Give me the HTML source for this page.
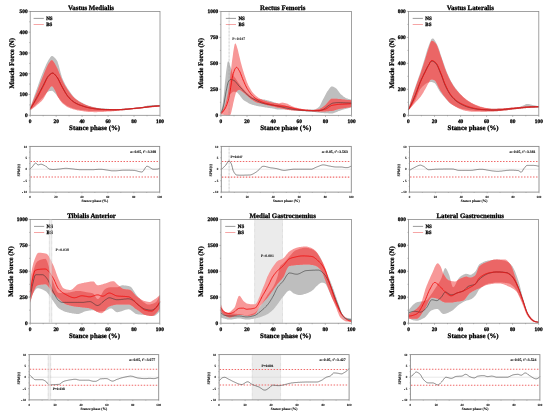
<!DOCTYPE html>
<html><head><meta charset="utf-8"><title>Muscle force comparison</title>
<style>html,body{margin:0;padding:0;background:#fff;}svg{display:block;}</style></head>
<body><svg width="550" height="417" viewBox="0 0 550 417">
<style>text{text-rendering:geometricPrecision;} .b{fill:#000;stroke:#000;stroke-width:0.28;} .s{fill:#111;stroke:#111;stroke-width:0.1;}</style>
<rect width="550" height="417" fill="#fff"/>
<rect x="254.6" y="219.4" width="27.9" height="103.8" fill="#ebebeb" fill-opacity="1"/>
<path d="M254.6,219.4V323.2M282.5,219.4V323.2" stroke="#b0b0b0" stroke-width="0.5" stroke-dasharray="0.6,0.6"/>
<rect x="252.2" y="354.6" width="28.3" height="45.3" fill="#ebebeb" fill-opacity="1"/>
<path d="M252.2,354.6V399.9M280.6,354.6V399.9" stroke="#b0b0b0" stroke-width="0.5" stroke-dasharray="0.6,0.6"/>
<clipPath id="c1"><path d="M30.2,107.8 L30.8,105.9 L31.5,104.1 L32.1,102.2 L32.8,100.3 L33.4,98.5 L34.1,96.6 L34.7,94.8 L35.4,93 L36,91.1 L36.7,89.3 L37.3,87.5 L38,85.7 L38.6,83.8 L39.3,82 L39.9,80.1 L40.6,78.3 L41.2,76.6 L41.9,74.9 L42.5,73.3 L43.2,71.7 L43.8,70.1 L44.5,68.5 L45.1,67 L45.8,65.5 L46.4,64.1 L47.1,62.7 L47.7,61.5 L48.4,60.3 L49,59.3 L49.7,58.3 L50.3,57.3 L51,56.6 L51.6,56.1 L52.3,56.1 L52.9,56.3 L53.6,56.7 L54.2,57.3 L54.9,57.9 L55.5,58.6 L56.2,59.4 L56.8,60.3 L57.5,61.6 L58.1,63.4 L58.8,65.5 L59.4,67.9 L60.1,70.4 L60.7,72.9 L61.4,75.3 L62,77.4 L62.7,79.1 L63.3,80.5 L63.9,81.8 L64.6,83.1 L65.2,84.4 L65.9,85.5 L66.5,86.6 L67.2,87.7 L67.8,88.7 L68.5,89.7 L69.1,90.6 L69.8,91.6 L70.4,92.5 L71.1,93.4 L71.7,94.3 L72.4,95.2 L73,96 L73.7,96.7 L74.3,97.5 L75,98.1 L75.6,98.7 L76.3,99.2 L76.9,99.7 L77.6,100.1 L78.2,100.6 L78.9,101 L79.5,101.4 L80.2,101.7 L80.8,102.1 L81.5,102.4 L82.1,102.8 L82.8,103.1 L83.4,103.4 L84.1,103.8 L84.7,104.1 L85.4,104.4 L86,104.7 L86.7,105 L87.3,105.3 L88,105.5 L88.6,105.7 L89.3,105.9 L89.9,106.1 L90.6,106.3 L91.2,106.5 L91.9,106.7 L92.5,106.8 L93.2,107 L93.8,107.1 L94.5,107.3 L95.1,107.4 L95.7,107.5 L96.4,107.7 L97,107.8 L97.7,107.9 L98.3,108 L99,108.1 L99.6,108.2 L100.3,108.3 L100.9,108.4 L101.6,108.4 L102.2,108.5 L102.9,108.5 L103.5,108.6 L104.2,108.6 L104.8,108.7 L105.5,108.7 L106.1,108.7 L106.8,108.7 L107.4,108.8 L108.1,108.8 L108.7,108.8 L109.4,108.9 L110,108.9 L110.7,108.9 L111.3,109 L112,109 L112.6,109 L113.3,109 L113.9,109.1 L114.6,109.1 L115.2,109.1 L115.9,109.1 L116.5,109 L117.2,109 L117.8,109 L118.5,109 L119.1,108.9 L119.8,108.9 L120.4,108.9 L121.1,108.9 L121.7,108.8 L122.4,108.8 L123,108.8 L123.7,108.7 L124.3,108.7 L125,108.6 L125.6,108.6 L126.3,108.5 L126.9,108.5 L127.5,108.4 L128.2,108.4 L128.8,108.3 L129.5,108.3 L130.1,108.2 L130.8,108.1 L131.4,108.1 L132.1,108 L132.7,107.9 L133.4,107.9 L134,107.8 L134.7,107.8 L135.3,107.7 L136,107.6 L136.6,107.6 L137.3,107.5 L137.9,107.5 L138.6,107.4 L139.2,107.4 L139.9,107.3 L140.5,107.2 L141.2,107.1 L141.8,107 L142.5,106.8 L143.1,106.7 L143.8,106.5 L144.4,106.3 L145.1,106.2 L145.7,106 L146.4,105.9 L147,105.7 L147.7,105.6 L148.3,105.5 L149,105.4 L149.6,105.3 L150.3,105.2 L150.9,105.1 L151.6,105 L152.2,105 L152.9,104.9 L153.5,104.9 L154.2,104.9 L154.8,104.9 L155.5,104.9 L156.1,104.9 L156.8,104.9 L157.4,105 L158.1,105 L158.7,105 L159.4,105.1 L160,105.1 L160,106.4 L159.4,106.4 L158.7,106.5 L158.1,106.5 L157.4,106.6 L156.8,106.7 L156.1,106.7 L155.5,106.8 L154.8,106.8 L154.2,106.9 L153.5,107 L152.9,107.1 L152.2,107.1 L151.6,107.2 L150.9,107.3 L150.3,107.4 L149.6,107.5 L149,107.6 L148.3,107.7 L147.7,107.7 L147,107.8 L146.4,107.9 L145.7,108 L145.1,108 L144.4,108.1 L143.8,108.1 L143.1,108.2 L142.5,108.3 L141.8,108.3 L141.2,108.4 L140.5,108.4 L139.9,108.5 L139.2,108.6 L138.6,108.6 L137.9,108.7 L137.3,108.7 L136.6,108.8 L136,108.9 L135.3,108.9 L134.7,109 L134,109.1 L133.4,109.1 L132.7,109.2 L132.1,109.3 L131.4,109.4 L130.8,109.5 L130.1,109.6 L129.5,109.7 L128.8,109.7 L128.2,109.8 L127.5,109.9 L126.9,110 L126.3,110 L125.6,110.1 L125,110.2 L124.3,110.2 L123.7,110.3 L123,110.4 L122.4,110.4 L121.7,110.5 L121.1,110.5 L120.4,110.6 L119.8,110.6 L119.1,110.7 L118.5,110.7 L117.8,110.8 L117.2,110.8 L116.5,110.8 L115.9,110.9 L115.2,110.9 L114.6,110.9 L113.9,111 L113.3,111 L112.6,111 L112,111 L111.3,111.1 L110.7,111.1 L110,111.1 L109.4,111.1 L108.7,111.1 L108.1,111.1 L107.4,111.1 L106.8,111.1 L106.1,111.1 L105.5,111.1 L104.8,111.1 L104.2,111.1 L103.5,111.1 L102.9,111.1 L102.2,111.1 L101.6,111.1 L100.9,111.1 L100.3,111.1 L99.6,111.1 L99,111.1 L98.3,111.1 L97.7,111.1 L97,111.1 L96.4,111.1 L95.7,111.1 L95.1,111.1 L94.5,111.1 L93.8,111.1 L93.2,111.1 L92.5,111.1 L91.9,111.1 L91.2,111 L90.6,111 L89.9,111 L89.3,110.9 L88.6,110.9 L88,110.8 L87.3,110.7 L86.7,110.7 L86,110.6 L85.4,110.5 L84.7,110.4 L84.1,110.4 L83.4,110.3 L82.8,110.2 L82.1,110.1 L81.5,110 L80.8,109.9 L80.2,109.9 L79.5,109.8 L78.9,109.7 L78.2,109.6 L77.6,109.5 L76.9,109.4 L76.3,109.2 L75.6,109.1 L75,108.9 L74.3,108.8 L73.7,108.6 L73,108.4 L72.4,108.1 L71.7,107.9 L71.1,107.6 L70.4,107.4 L69.8,107.1 L69.1,106.8 L68.5,106.5 L67.8,106.2 L67.2,105.8 L66.5,105.4 L65.9,105 L65.2,104.5 L64.6,104 L63.9,103.5 L63.3,103 L62.7,102.5 L62,101.9 L61.4,101.2 L60.7,100.4 L60.1,99.6 L59.4,98.8 L58.8,98 L58.1,97.2 L57.5,96.3 L56.8,95.5 L56.2,94.6 L55.5,93.7 L54.9,93 L54.2,92.4 L53.6,91.8 L52.9,91.2 L52.3,90.8 L51.6,90.8 L51,90.9 L50.3,91 L49.7,91.1 L49,91.3 L48.4,91.6 L47.7,92 L47.1,92.6 L46.4,93.3 L45.8,94 L45.1,94.8 L44.5,95.6 L43.8,96.4 L43.2,97.2 L42.5,97.9 L41.9,98.5 L41.2,99.2 L40.6,99.9 L39.9,100.6 L39.3,101.2 L38.6,101.9 L38,102.6 L37.3,103.2 L36.7,103.9 L36,104.5 L35.4,105.2 L34.7,105.8 L34.1,106.4 L33.4,107 L32.8,107.7 L32.1,108.3 L31.5,108.9 L30.8,109.5 L30.2,110.1Z"/></clipPath>
<path d="M30.2,107.8 L30.8,105.9 L31.5,104.1 L32.1,102.2 L32.8,100.3 L33.4,98.5 L34.1,96.6 L34.7,94.8 L35.4,93 L36,91.1 L36.7,89.3 L37.3,87.5 L38,85.7 L38.6,83.8 L39.3,82 L39.9,80.1 L40.6,78.3 L41.2,76.6 L41.9,74.9 L42.5,73.3 L43.2,71.7 L43.8,70.1 L44.5,68.5 L45.1,67 L45.8,65.5 L46.4,64.1 L47.1,62.7 L47.7,61.5 L48.4,60.3 L49,59.3 L49.7,58.3 L50.3,57.3 L51,56.6 L51.6,56.1 L52.3,56.1 L52.9,56.3 L53.6,56.7 L54.2,57.3 L54.9,57.9 L55.5,58.6 L56.2,59.4 L56.8,60.3 L57.5,61.6 L58.1,63.4 L58.8,65.5 L59.4,67.9 L60.1,70.4 L60.7,72.9 L61.4,75.3 L62,77.4 L62.7,79.1 L63.3,80.5 L63.9,81.8 L64.6,83.1 L65.2,84.4 L65.9,85.5 L66.5,86.6 L67.2,87.7 L67.8,88.7 L68.5,89.7 L69.1,90.6 L69.8,91.6 L70.4,92.5 L71.1,93.4 L71.7,94.3 L72.4,95.2 L73,96 L73.7,96.7 L74.3,97.5 L75,98.1 L75.6,98.7 L76.3,99.2 L76.9,99.7 L77.6,100.1 L78.2,100.6 L78.9,101 L79.5,101.4 L80.2,101.7 L80.8,102.1 L81.5,102.4 L82.1,102.8 L82.8,103.1 L83.4,103.4 L84.1,103.8 L84.7,104.1 L85.4,104.4 L86,104.7 L86.7,105 L87.3,105.3 L88,105.5 L88.6,105.7 L89.3,105.9 L89.9,106.1 L90.6,106.3 L91.2,106.5 L91.9,106.7 L92.5,106.8 L93.2,107 L93.8,107.1 L94.5,107.3 L95.1,107.4 L95.7,107.5 L96.4,107.7 L97,107.8 L97.7,107.9 L98.3,108 L99,108.1 L99.6,108.2 L100.3,108.3 L100.9,108.4 L101.6,108.4 L102.2,108.5 L102.9,108.5 L103.5,108.6 L104.2,108.6 L104.8,108.7 L105.5,108.7 L106.1,108.7 L106.8,108.7 L107.4,108.8 L108.1,108.8 L108.7,108.8 L109.4,108.9 L110,108.9 L110.7,108.9 L111.3,109 L112,109 L112.6,109 L113.3,109 L113.9,109.1 L114.6,109.1 L115.2,109.1 L115.9,109.1 L116.5,109 L117.2,109 L117.8,109 L118.5,109 L119.1,108.9 L119.8,108.9 L120.4,108.9 L121.1,108.9 L121.7,108.8 L122.4,108.8 L123,108.8 L123.7,108.7 L124.3,108.7 L125,108.6 L125.6,108.6 L126.3,108.5 L126.9,108.5 L127.5,108.4 L128.2,108.4 L128.8,108.3 L129.5,108.3 L130.1,108.2 L130.8,108.1 L131.4,108.1 L132.1,108 L132.7,107.9 L133.4,107.9 L134,107.8 L134.7,107.8 L135.3,107.7 L136,107.6 L136.6,107.6 L137.3,107.5 L137.9,107.5 L138.6,107.4 L139.2,107.4 L139.9,107.3 L140.5,107.2 L141.2,107.1 L141.8,107 L142.5,106.8 L143.1,106.7 L143.8,106.5 L144.4,106.3 L145.1,106.2 L145.7,106 L146.4,105.9 L147,105.7 L147.7,105.6 L148.3,105.5 L149,105.4 L149.6,105.3 L150.3,105.2 L150.9,105.1 L151.6,105 L152.2,105 L152.9,104.9 L153.5,104.9 L154.2,104.9 L154.8,104.9 L155.5,104.9 L156.1,104.9 L156.8,104.9 L157.4,105 L158.1,105 L158.7,105 L159.4,105.1 L160,105.1 L160,106.4 L159.4,106.4 L158.7,106.5 L158.1,106.5 L157.4,106.6 L156.8,106.7 L156.1,106.7 L155.5,106.8 L154.8,106.8 L154.2,106.9 L153.5,107 L152.9,107.1 L152.2,107.1 L151.6,107.2 L150.9,107.3 L150.3,107.4 L149.6,107.5 L149,107.6 L148.3,107.7 L147.7,107.7 L147,107.8 L146.4,107.9 L145.7,108 L145.1,108 L144.4,108.1 L143.8,108.1 L143.1,108.2 L142.5,108.3 L141.8,108.3 L141.2,108.4 L140.5,108.4 L139.9,108.5 L139.2,108.6 L138.6,108.6 L137.9,108.7 L137.3,108.7 L136.6,108.8 L136,108.9 L135.3,108.9 L134.7,109 L134,109.1 L133.4,109.1 L132.7,109.2 L132.1,109.3 L131.4,109.4 L130.8,109.5 L130.1,109.6 L129.5,109.7 L128.8,109.7 L128.2,109.8 L127.5,109.9 L126.9,110 L126.3,110 L125.6,110.1 L125,110.2 L124.3,110.2 L123.7,110.3 L123,110.4 L122.4,110.4 L121.7,110.5 L121.1,110.5 L120.4,110.6 L119.8,110.6 L119.1,110.7 L118.5,110.7 L117.8,110.8 L117.2,110.8 L116.5,110.8 L115.9,110.9 L115.2,110.9 L114.6,110.9 L113.9,111 L113.3,111 L112.6,111 L112,111 L111.3,111.1 L110.7,111.1 L110,111.1 L109.4,111.1 L108.7,111.1 L108.1,111.1 L107.4,111.1 L106.8,111.1 L106.1,111.1 L105.5,111.1 L104.8,111.1 L104.2,111.1 L103.5,111.1 L102.9,111.1 L102.2,111.1 L101.6,111.1 L100.9,111.1 L100.3,111.1 L99.6,111.1 L99,111.1 L98.3,111.1 L97.7,111.1 L97,111.1 L96.4,111.1 L95.7,111.1 L95.1,111.1 L94.5,111.1 L93.8,111.1 L93.2,111.1 L92.5,111.1 L91.9,111.1 L91.2,111 L90.6,111 L89.9,111 L89.3,110.9 L88.6,110.9 L88,110.8 L87.3,110.7 L86.7,110.7 L86,110.6 L85.4,110.5 L84.7,110.4 L84.1,110.4 L83.4,110.3 L82.8,110.2 L82.1,110.1 L81.5,110 L80.8,109.9 L80.2,109.9 L79.5,109.8 L78.9,109.7 L78.2,109.6 L77.6,109.5 L76.9,109.4 L76.3,109.2 L75.6,109.1 L75,108.9 L74.3,108.8 L73.7,108.6 L73,108.4 L72.4,108.1 L71.7,107.9 L71.1,107.6 L70.4,107.4 L69.8,107.1 L69.1,106.8 L68.5,106.5 L67.8,106.2 L67.2,105.8 L66.5,105.4 L65.9,105 L65.2,104.5 L64.6,104 L63.9,103.5 L63.3,103 L62.7,102.5 L62,101.9 L61.4,101.2 L60.7,100.4 L60.1,99.6 L59.4,98.8 L58.8,98 L58.1,97.2 L57.5,96.3 L56.8,95.5 L56.2,94.6 L55.5,93.7 L54.9,93 L54.2,92.4 L53.6,91.8 L52.9,91.2 L52.3,90.8 L51.6,90.8 L51,90.9 L50.3,91 L49.7,91.1 L49,91.3 L48.4,91.6 L47.7,92 L47.1,92.6 L46.4,93.3 L45.8,94 L45.1,94.8 L44.5,95.6 L43.8,96.4 L43.2,97.2 L42.5,97.9 L41.9,98.5 L41.2,99.2 L40.6,99.9 L39.9,100.6 L39.3,101.2 L38.6,101.9 L38,102.6 L37.3,103.2 L36.7,103.9 L36,104.5 L35.4,105.2 L34.7,105.8 L34.1,106.4 L33.4,107 L32.8,107.7 L32.1,108.3 L31.5,108.9 L30.8,109.5 L30.2,110.1Z" fill="#bebebe"/>
<path d="M30.2,107.8 L30.8,106.3 L31.5,104.8 L32.1,103.3 L32.8,101.8 L33.4,100.3 L34.1,98.7 L34.7,97.2 L35.4,95.6 L36,94 L36.7,92.4 L37.3,90.8 L38,89.2 L38.6,87.5 L39.3,85.8 L39.9,84 L40.6,82.3 L41.2,80.7 L41.9,79 L42.5,77.4 L43.2,75.9 L43.8,74.2 L44.5,72.6 L45.1,71 L45.8,69.4 L46.4,67.9 L47.1,66.4 L47.7,65.2 L48.4,64 L49,63.1 L49.7,62.2 L50.3,61.3 L51,60.6 L51.6,60.3 L52.3,60.3 L52.9,60.9 L53.6,61.8 L54.2,62.8 L54.9,63.8 L55.5,64.9 L56.2,66.2 L56.8,67.5 L57.5,68.8 L58.1,70.3 L58.8,71.9 L59.4,73.5 L60.1,75.1 L60.7,76.8 L61.4,78.3 L62,79.8 L62.7,81.1 L63.3,82.4 L63.9,83.6 L64.6,84.8 L65.2,85.9 L65.9,87 L66.5,88.1 L67.2,89.1 L67.8,90.1 L68.5,91 L69.1,91.9 L69.8,92.8 L70.4,93.6 L71.1,94.4 L71.7,95.2 L72.4,95.9 L73,96.7 L73.7,97.3 L74.3,98 L75,98.6 L75.6,99.1 L76.3,99.6 L76.9,100.1 L77.6,100.5 L78.2,101 L78.9,101.4 L79.5,101.8 L80.2,102.2 L80.8,102.5 L81.5,102.9 L82.1,103.2 L82.8,103.5 L83.4,103.9 L84.1,104.2 L84.7,104.5 L85.4,104.7 L86,105 L86.7,105.3 L87.3,105.5 L88,105.7 L88.6,105.9 L89.3,106.2 L89.9,106.3 L90.6,106.5 L91.2,106.7 L91.9,106.9 L92.5,107 L93.2,107.2 L93.8,107.3 L94.5,107.5 L95.1,107.6 L95.7,107.7 L96.4,107.9 L97,108 L97.7,108.1 L98.3,108.2 L99,108.3 L99.6,108.4 L100.3,108.5 L100.9,108.6 L101.6,108.7 L102.2,108.7 L102.9,108.7 L103.5,108.8 L104.2,108.8 L104.8,108.9 L105.5,108.9 L106.1,108.9 L106.8,109 L107.4,109 L108.1,109 L108.7,109 L109.4,109.1 L110,109.1 L110.7,109.1 L111.3,109.2 L112,109.2 L112.6,109.2 L113.3,109.3 L113.9,109.3 L114.6,109.3 L115.2,109.3 L115.9,109.3 L116.5,109.2 L117.2,109.2 L117.8,109.2 L118.5,109.2 L119.1,109.2 L119.8,109.1 L120.4,109.1 L121.1,109.1 L121.7,109 L122.4,109 L123,108.9 L123.7,108.9 L124.3,108.8 L125,108.7 L125.6,108.6 L126.3,108.6 L126.9,108.5 L127.5,108.4 L128.2,108.4 L128.8,108.3 L129.5,108.3 L130.1,108.2 L130.8,108.1 L131.4,108.1 L132.1,108 L132.7,107.9 L133.4,107.9 L134,107.8 L134.7,107.8 L135.3,107.7 L136,107.6 L136.6,107.6 L137.3,107.5 L137.9,107.5 L138.6,107.4 L139.2,107.3 L139.9,107.3 L140.5,107.2 L141.2,107.1 L141.8,107 L142.5,107 L143.1,106.9 L143.8,106.8 L144.4,106.7 L145.1,106.6 L145.7,106.5 L146.4,106.4 L147,106.4 L147.7,106.3 L148.3,106.2 L149,106.2 L149.6,106.1 L150.3,106 L150.9,106 L151.6,105.9 L152.2,105.8 L152.9,105.8 L153.5,105.7 L154.2,105.7 L154.8,105.6 L155.5,105.6 L156.1,105.6 L156.8,105.5 L157.4,105.5 L158.1,105.4 L158.7,105.4 L159.4,105.4 L160,105.3 L160,106.6 L159.4,106.6 L158.7,106.7 L158.1,106.8 L157.4,106.8 L156.8,106.9 L156.1,106.9 L155.5,107 L154.8,107.1 L154.2,107.1 L153.5,107.2 L152.9,107.3 L152.2,107.3 L151.6,107.4 L150.9,107.4 L150.3,107.5 L149.6,107.6 L149,107.6 L148.3,107.7 L147.7,107.7 L147,107.8 L146.4,107.9 L145.7,108 L145.1,108.1 L144.4,108.1 L143.8,108.2 L143.1,108.3 L142.5,108.4 L141.8,108.5 L141.2,108.6 L140.5,108.7 L139.9,108.7 L139.2,108.8 L138.6,108.9 L137.9,108.9 L137.3,109 L136.6,109 L136,109.1 L135.3,109.2 L134.7,109.2 L134,109.3 L133.4,109.3 L132.7,109.4 L132.1,109.5 L131.4,109.5 L130.8,109.6 L130.1,109.6 L129.5,109.7 L128.8,109.8 L128.2,109.8 L127.5,109.9 L126.9,110 L126.3,110 L125.6,110.1 L125,110.1 L124.3,110.2 L123.7,110.3 L123,110.3 L122.4,110.4 L121.7,110.5 L121.1,110.5 L120.4,110.6 L119.8,110.6 L119.1,110.7 L118.5,110.8 L117.8,110.8 L117.2,110.9 L116.5,111 L115.9,111 L115.2,111.1 L114.6,111.1 L113.9,111.2 L113.3,111.2 L112.6,111.3 L112,111.3 L111.3,111.4 L110.7,111.4 L110,111.4 L109.4,111.5 L108.7,111.5 L108.1,111.6 L107.4,111.6 L106.8,111.6 L106.1,111.7 L105.5,111.7 L104.8,111.8 L104.2,111.8 L103.5,111.9 L102.9,111.9 L102.2,111.9 L101.6,112 L100.9,112 L100.3,112 L99.6,112.1 L99,112.1 L98.3,112.1 L97.7,112.1 L97,112.2 L96.4,112.2 L95.7,112.2 L95.1,112.2 L94.5,112.2 L93.8,112.2 L93.2,112.1 L92.5,112.1 L91.9,112.1 L91.2,112.1 L90.6,112 L89.9,112 L89.3,112 L88.6,111.9 L88,111.9 L87.3,111.8 L86.7,111.7 L86,111.7 L85.4,111.6 L84.7,111.5 L84.1,111.4 L83.4,111.3 L82.8,111.2 L82.1,111.1 L81.5,111.1 L80.8,111 L80.2,110.8 L79.5,110.7 L78.9,110.6 L78.2,110.5 L77.6,110.4 L76.9,110.2 L76.3,110.1 L75.6,109.9 L75,109.8 L74.3,109.6 L73.7,109.4 L73,109.2 L72.4,109.1 L71.7,108.8 L71.1,108.6 L70.4,108.4 L69.8,108.1 L69.1,107.9 L68.5,107.6 L67.8,107.2 L67.2,106.9 L66.5,106.5 L65.9,106.1 L65.2,105.6 L64.6,105.1 L63.9,104.6 L63.3,104.1 L62.7,103.5 L62,102.9 L61.4,102.1 L60.7,101.3 L60.1,100.4 L59.4,99.4 L58.8,98.3 L58.1,97.2 L57.5,95.9 L56.8,94.3 L56.2,92.7 L55.5,91.2 L54.9,90.1 L54.2,88.9 L53.6,87.8 L52.9,86.9 L52.3,86.3 L51.6,86.2 L51,86.6 L50.3,87.3 L49.7,88.2 L49,89.1 L48.4,90 L47.7,91 L47.1,92.1 L46.4,93.3 L45.8,94.6 L45.1,95.9 L44.5,97.1 L43.8,98.2 L43.2,99.2 L42.5,100 L41.9,100.7 L41.2,101.4 L40.6,102 L39.9,102.6 L39.3,103.2 L38.6,103.7 L38,104.3 L37.3,104.8 L36.7,105.3 L36,105.9 L35.4,106.4 L34.7,106.9 L34.1,107.4 L33.4,107.9 L32.8,108.4 L32.1,108.9 L31.5,109.4 L30.8,109.9 L30.2,110.3Z" fill="rgb(247,152,152)"/>
<path d="M30.2,107.8 L30.8,106.3 L31.5,104.8 L32.1,103.3 L32.8,101.8 L33.4,100.3 L34.1,98.7 L34.7,97.2 L35.4,95.6 L36,94 L36.7,92.4 L37.3,90.8 L38,89.2 L38.6,87.5 L39.3,85.8 L39.9,84 L40.6,82.3 L41.2,80.7 L41.9,79 L42.5,77.4 L43.2,75.9 L43.8,74.2 L44.5,72.6 L45.1,71 L45.8,69.4 L46.4,67.9 L47.1,66.4 L47.7,65.2 L48.4,64 L49,63.1 L49.7,62.2 L50.3,61.3 L51,60.6 L51.6,60.3 L52.3,60.3 L52.9,60.9 L53.6,61.8 L54.2,62.8 L54.9,63.8 L55.5,64.9 L56.2,66.2 L56.8,67.5 L57.5,68.8 L58.1,70.3 L58.8,71.9 L59.4,73.5 L60.1,75.1 L60.7,76.8 L61.4,78.3 L62,79.8 L62.7,81.1 L63.3,82.4 L63.9,83.6 L64.6,84.8 L65.2,85.9 L65.9,87 L66.5,88.1 L67.2,89.1 L67.8,90.1 L68.5,91 L69.1,91.9 L69.8,92.8 L70.4,93.6 L71.1,94.4 L71.7,95.2 L72.4,95.9 L73,96.7 L73.7,97.3 L74.3,98 L75,98.6 L75.6,99.1 L76.3,99.6 L76.9,100.1 L77.6,100.5 L78.2,101 L78.9,101.4 L79.5,101.8 L80.2,102.2 L80.8,102.5 L81.5,102.9 L82.1,103.2 L82.8,103.5 L83.4,103.9 L84.1,104.2 L84.7,104.5 L85.4,104.7 L86,105 L86.7,105.3 L87.3,105.5 L88,105.7 L88.6,105.9 L89.3,106.2 L89.9,106.3 L90.6,106.5 L91.2,106.7 L91.9,106.9 L92.5,107 L93.2,107.2 L93.8,107.3 L94.5,107.5 L95.1,107.6 L95.7,107.7 L96.4,107.9 L97,108 L97.7,108.1 L98.3,108.2 L99,108.3 L99.6,108.4 L100.3,108.5 L100.9,108.6 L101.6,108.7 L102.2,108.7 L102.9,108.7 L103.5,108.8 L104.2,108.8 L104.8,108.9 L105.5,108.9 L106.1,108.9 L106.8,109 L107.4,109 L108.1,109 L108.7,109 L109.4,109.1 L110,109.1 L110.7,109.1 L111.3,109.2 L112,109.2 L112.6,109.2 L113.3,109.3 L113.9,109.3 L114.6,109.3 L115.2,109.3 L115.9,109.3 L116.5,109.2 L117.2,109.2 L117.8,109.2 L118.5,109.2 L119.1,109.2 L119.8,109.1 L120.4,109.1 L121.1,109.1 L121.7,109 L122.4,109 L123,108.9 L123.7,108.9 L124.3,108.8 L125,108.7 L125.6,108.6 L126.3,108.6 L126.9,108.5 L127.5,108.4 L128.2,108.4 L128.8,108.3 L129.5,108.3 L130.1,108.2 L130.8,108.1 L131.4,108.1 L132.1,108 L132.7,107.9 L133.4,107.9 L134,107.8 L134.7,107.8 L135.3,107.7 L136,107.6 L136.6,107.6 L137.3,107.5 L137.9,107.5 L138.6,107.4 L139.2,107.3 L139.9,107.3 L140.5,107.2 L141.2,107.1 L141.8,107 L142.5,107 L143.1,106.9 L143.8,106.8 L144.4,106.7 L145.1,106.6 L145.7,106.5 L146.4,106.4 L147,106.4 L147.7,106.3 L148.3,106.2 L149,106.2 L149.6,106.1 L150.3,106 L150.9,106 L151.6,105.9 L152.2,105.8 L152.9,105.8 L153.5,105.7 L154.2,105.7 L154.8,105.6 L155.5,105.6 L156.1,105.6 L156.8,105.5 L157.4,105.5 L158.1,105.4 L158.7,105.4 L159.4,105.4 L160,105.3 L160,106.6 L159.4,106.6 L158.7,106.7 L158.1,106.8 L157.4,106.8 L156.8,106.9 L156.1,106.9 L155.5,107 L154.8,107.1 L154.2,107.1 L153.5,107.2 L152.9,107.3 L152.2,107.3 L151.6,107.4 L150.9,107.4 L150.3,107.5 L149.6,107.6 L149,107.6 L148.3,107.7 L147.7,107.7 L147,107.8 L146.4,107.9 L145.7,108 L145.1,108.1 L144.4,108.1 L143.8,108.2 L143.1,108.3 L142.5,108.4 L141.8,108.5 L141.2,108.6 L140.5,108.7 L139.9,108.7 L139.2,108.8 L138.6,108.9 L137.9,108.9 L137.3,109 L136.6,109 L136,109.1 L135.3,109.2 L134.7,109.2 L134,109.3 L133.4,109.3 L132.7,109.4 L132.1,109.5 L131.4,109.5 L130.8,109.6 L130.1,109.6 L129.5,109.7 L128.8,109.8 L128.2,109.8 L127.5,109.9 L126.9,110 L126.3,110 L125.6,110.1 L125,110.1 L124.3,110.2 L123.7,110.3 L123,110.3 L122.4,110.4 L121.7,110.5 L121.1,110.5 L120.4,110.6 L119.8,110.6 L119.1,110.7 L118.5,110.8 L117.8,110.8 L117.2,110.9 L116.5,111 L115.9,111 L115.2,111.1 L114.6,111.1 L113.9,111.2 L113.3,111.2 L112.6,111.3 L112,111.3 L111.3,111.4 L110.7,111.4 L110,111.4 L109.4,111.5 L108.7,111.5 L108.1,111.6 L107.4,111.6 L106.8,111.6 L106.1,111.7 L105.5,111.7 L104.8,111.8 L104.2,111.8 L103.5,111.9 L102.9,111.9 L102.2,111.9 L101.6,112 L100.9,112 L100.3,112 L99.6,112.1 L99,112.1 L98.3,112.1 L97.7,112.1 L97,112.2 L96.4,112.2 L95.7,112.2 L95.1,112.2 L94.5,112.2 L93.8,112.2 L93.2,112.1 L92.5,112.1 L91.9,112.1 L91.2,112.1 L90.6,112 L89.9,112 L89.3,112 L88.6,111.9 L88,111.9 L87.3,111.8 L86.7,111.7 L86,111.7 L85.4,111.6 L84.7,111.5 L84.1,111.4 L83.4,111.3 L82.8,111.2 L82.1,111.1 L81.5,111.1 L80.8,111 L80.2,110.8 L79.5,110.7 L78.9,110.6 L78.2,110.5 L77.6,110.4 L76.9,110.2 L76.3,110.1 L75.6,109.9 L75,109.8 L74.3,109.6 L73.7,109.4 L73,109.2 L72.4,109.1 L71.7,108.8 L71.1,108.6 L70.4,108.4 L69.8,108.1 L69.1,107.9 L68.5,107.6 L67.8,107.2 L67.2,106.9 L66.5,106.5 L65.9,106.1 L65.2,105.6 L64.6,105.1 L63.9,104.6 L63.3,104.1 L62.7,103.5 L62,102.9 L61.4,102.1 L60.7,101.3 L60.1,100.4 L59.4,99.4 L58.8,98.3 L58.1,97.2 L57.5,95.9 L56.8,94.3 L56.2,92.7 L55.5,91.2 L54.9,90.1 L54.2,88.9 L53.6,87.8 L52.9,86.9 L52.3,86.3 L51.6,86.2 L51,86.6 L50.3,87.3 L49.7,88.2 L49,89.1 L48.4,90 L47.7,91 L47.1,92.1 L46.4,93.3 L45.8,94.6 L45.1,95.9 L44.5,97.1 L43.8,98.2 L43.2,99.2 L42.5,100 L41.9,100.7 L41.2,101.4 L40.6,102 L39.9,102.6 L39.3,103.2 L38.6,103.7 L38,104.3 L37.3,104.8 L36.7,105.3 L36,105.9 L35.4,106.4 L34.7,106.9 L34.1,107.4 L33.4,107.9 L32.8,108.4 L32.1,108.9 L31.5,109.4 L30.8,109.9 L30.2,110.3Z" fill="rgb(235,102,102)" clip-path="url(#c1)"/>
<path d="M30.2,109.1 L30.8,108 L31.5,106.8 L32.1,105.7 L32.8,104.6 L33.4,103.4 L34.1,102.3 L34.7,101.1 L35.4,100 L36,98.8 L36.7,97.6 L37.3,96.4 L38,95.2 L38.6,94 L39.3,92.8 L39.9,91.5 L40.6,90.3 L41.2,89.1 L41.9,87.8 L42.5,86.6 L43.2,85.4 L43.8,84.1 L44.5,82.8 L45.1,81.5 L45.8,80.1 L46.4,78.9 L47.1,77.7 L47.7,76.7 L48.4,75.9 L49,75.2 L49.7,74.7 L50.3,74.1 L51,73.7 L51.6,73.3 L52.3,73.1 L52.9,73.2 L53.6,73.4 L54.2,73.9 L54.9,74.6 L55.5,75.3 L56.2,76.1 L56.8,76.9 L57.5,77.8 L58.1,78.9 L58.8,80.1 L59.4,81.4 L60.1,82.7 L60.7,84.1 L61.4,85.3 L62,86.5 L62.7,87.7 L63.3,88.8 L63.9,89.9 L64.6,91.1 L65.2,92.2 L65.9,93.3 L66.5,94.3 L67.2,95.3 L67.8,96.2 L68.5,97 L69.1,97.8 L69.8,98.4 L70.4,99.1 L71.1,99.7 L71.7,100.3 L72.4,100.8 L73,101.3 L73.7,101.8 L74.3,102.3 L75,102.7 L75.6,103 L76.3,103.4 L76.9,103.7 L77.6,104 L78.2,104.3 L78.9,104.6 L79.5,104.8 L80.2,105.1 L80.8,105.3 L81.5,105.5 L82.1,105.7 L82.8,106 L83.4,106.2 L84.1,106.4 L84.7,106.6 L85.4,106.8 L86,107 L86.7,107.2 L87.3,107.3 L88,107.5 L88.6,107.6 L89.3,107.7 L89.9,107.9 L90.6,108 L91.2,108.1 L91.9,108.2 L92.5,108.3 L93.2,108.4 L93.8,108.5 L94.5,108.6 L95.1,108.7 L95.7,108.7 L96.4,108.8 L97,108.9 L97.7,109 L98.3,109 L99,109.1 L99.6,109.1 L100.3,109.2 L100.9,109.2 L101.6,109.3 L102.2,109.3 L102.9,109.3 L103.5,109.4 L104.2,109.4 L104.8,109.4 L105.5,109.4 L106.1,109.4 L106.8,109.4 L107.4,109.5 L108.1,109.5 L108.7,109.5 L109.4,109.5 L110,109.6 L110.7,109.6 L111.3,109.6 L112,109.6 L112.6,109.7 L113.3,109.7 L113.9,109.7 L114.6,109.7 L115.2,109.7 L115.9,109.7 L116.5,109.7 L117.2,109.6 L117.8,109.6 L118.5,109.6 L119.1,109.6 L119.8,109.5 L120.4,109.5 L121.1,109.5 L121.7,109.5 L122.4,109.4 L123,109.4 L123.7,109.3 L124.3,109.3 L125,109.3 L125.6,109.2 L126.3,109.2 L126.9,109.1 L127.5,109.1 L128.2,109 L128.8,109 L129.5,108.9 L130.1,108.8 L130.8,108.8 L131.4,108.7 L132.1,108.6 L132.7,108.6 L133.4,108.5 L134,108.4 L134.7,108.4 L135.3,108.3 L136,108.3 L136.6,108.2 L137.3,108.1 L137.9,108.1 L138.6,108 L139.2,108 L139.9,107.9 L140.5,107.8 L141.2,107.7 L141.8,107.7 L142.5,107.6 L143.1,107.5 L143.8,107.4 L144.4,107.3 L145.1,107.2 L145.7,107.2 L146.4,107.1 L147,107 L147.7,106.9 L148.3,106.8 L149,106.7 L149.6,106.6 L150.3,106.5 L150.9,106.4 L151.6,106.4 L152.2,106.3 L152.9,106.2 L153.5,106.2 L154.2,106.1 L154.8,106 L155.5,106 L156.1,106 L156.8,105.9 L157.4,105.9 L158.1,105.8 L158.7,105.8 L159.4,105.8 L160,105.7" fill="none" stroke="#2a2a2a" stroke-width="0.55"/>
<path d="M30.2,109.1 L30.8,108.1 L31.5,107.1 L32.1,106.1 L32.8,105.1 L33.4,104.1 L34.1,103 L34.7,102 L35.4,100.9 L36,99.8 L36.7,98.7 L37.3,97.5 L38,96.4 L38.6,95.1 L39.3,93.9 L39.9,92.7 L40.6,91.4 L41.2,90.2 L41.9,88.9 L42.5,87.7 L43.2,86.4 L43.8,85.1 L44.5,83.7 L45.1,82.3 L45.8,80.9 L46.4,79.6 L47.1,78.4 L47.7,77.3 L48.4,76.4 L49,75.6 L49.7,75 L50.3,74.3 L51,73.8 L51.6,73.4 L52.3,73.1 L52.9,73.2 L53.6,73.4 L54.2,73.9 L54.9,74.6 L55.5,75.3 L56.2,76.1 L56.8,76.9 L57.5,77.8 L58.1,79 L58.8,80.2 L59.4,81.6 L60.1,83 L60.7,84.4 L61.4,85.7 L62,86.9 L62.7,88.1 L63.3,89.2 L63.9,90.3 L64.6,91.5 L65.2,92.6 L65.9,93.6 L66.5,94.6 L67.2,95.6 L67.8,96.4 L68.5,97.2 L69.1,98 L69.8,98.6 L70.4,99.3 L71.1,99.9 L71.7,100.5 L72.4,101 L73,101.5 L73.7,102 L74.3,102.5 L75,102.9 L75.6,103.2 L76.3,103.6 L76.9,103.9 L77.6,104.2 L78.2,104.5 L78.9,104.8 L79.5,105 L80.2,105.3 L80.8,105.5 L81.5,105.7 L82.1,105.9 L82.8,106.2 L83.4,106.4 L84.1,106.6 L84.7,106.8 L85.4,107 L86,107.2 L86.7,107.4 L87.3,107.5 L88,107.7 L88.6,107.8 L89.3,107.9 L89.9,108.1 L90.6,108.2 L91.2,108.3 L91.9,108.4 L92.5,108.5 L93.2,108.6 L93.8,108.7 L94.5,108.8 L95.1,108.9 L95.7,108.9 L96.4,109 L97,109.1 L97.7,109.2 L98.3,109.2 L99,109.3 L99.6,109.4 L100.3,109.4 L100.9,109.4 L101.6,109.5 L102.2,109.5 L102.9,109.5 L103.5,109.6 L104.2,109.6 L104.8,109.6 L105.5,109.6 L106.1,109.7 L106.8,109.7 L107.4,109.7 L108.1,109.7 L108.7,109.7 L109.4,109.7 L110,109.7 L110.7,109.7 L111.3,109.7 L112,109.7 L112.6,109.7 L113.3,109.7 L113.9,109.7 L114.6,109.7 L115.2,109.7 L115.9,109.7 L116.5,109.7 L117.2,109.6 L117.8,109.6 L118.5,109.6 L119.1,109.6 L119.8,109.5 L120.4,109.5 L121.1,109.5 L121.7,109.5 L122.4,109.4 L123,109.4 L123.7,109.3 L124.3,109.3 L125,109.3 L125.6,109.2 L126.3,109.2 L126.9,109.1 L127.5,109.1 L128.2,109 L128.8,109 L129.5,108.9 L130.1,108.8 L130.8,108.8 L131.4,108.7 L132.1,108.6 L132.7,108.6 L133.4,108.5 L134,108.4 L134.7,108.4 L135.3,108.3 L136,108.3 L136.6,108.2 L137.3,108.1 L137.9,108.1 L138.6,108 L139.2,108 L139.9,107.9 L140.5,107.8 L141.2,107.7 L141.8,107.7 L142.5,107.6 L143.1,107.5 L143.8,107.4 L144.4,107.3 L145.1,107.2 L145.7,107.1 L146.4,107.1 L147,107 L147.7,106.9 L148.3,106.8 L149,106.8 L149.6,106.7 L150.3,106.6 L150.9,106.6 L151.6,106.5 L152.2,106.5 L152.9,106.4 L153.5,106.4 L154.2,106.3 L154.8,106.3 L155.5,106.2 L156.1,106.2 L156.8,106.1 L157.4,106.1 L158.1,106.1 L158.7,106 L159.4,106 L160,105.9" fill="none" stroke="#f01010" stroke-width="0.9"/>
<rect x="30.2" y="11.4" width="129.8" height="103.9" fill="none" stroke="#8a8a8a" stroke-width="0.8"/>
<path d="M30.2,115.3v1.6 M43.2,115.3v1.0 M56.2,115.3v1.6 M69.1,115.3v1.0 M82.1,115.3v1.6 M95.1,115.3v1.0 M108.1,115.3v1.6 M121.1,115.3v1.0 M134,115.3v1.6 M147,115.3v1.0 M160,115.3v1.6 M30.2,115.3h-1.6 M30.2,104.9h-1.0 M30.2,94.5h-1.6 M30.2,84.1h-1.0 M30.2,73.7h-1.6 M30.2,63.4h-1.0 M30.2,53h-1.6 M30.2,42.6h-1.0 M30.2,32.2h-1.6 M30.2,21.8h-1.0 M30.2,11.4h-1.6" stroke="#8a8a8a" stroke-width="0.6" fill="none"/>
<text x="30.2" y="123.1" text-anchor="middle" class="b" font-family="'Liberation Serif','Times New Roman',serif" font-weight="bold" font-size="5.4">0</text>
<text x="56.2" y="123.1" text-anchor="middle" class="b" font-family="'Liberation Serif','Times New Roman',serif" font-weight="bold" font-size="5.4">20</text>
<text x="82.1" y="123.1" text-anchor="middle" class="b" font-family="'Liberation Serif','Times New Roman',serif" font-weight="bold" font-size="5.4">40</text>
<text x="108.1" y="123.1" text-anchor="middle" class="b" font-family="'Liberation Serif','Times New Roman',serif" font-weight="bold" font-size="5.4">60</text>
<text x="134" y="123.1" text-anchor="middle" class="b" font-family="'Liberation Serif','Times New Roman',serif" font-weight="bold" font-size="5.4">80</text>
<text x="160" y="123.1" text-anchor="middle" class="b" font-family="'Liberation Serif','Times New Roman',serif" font-weight="bold" font-size="5.4">100</text>
<text x="27.6" y="117.1" text-anchor="end" class="b" font-family="'Liberation Serif','Times New Roman',serif" font-weight="bold" font-size="5.4">0</text>
<text x="27.6" y="96.3" text-anchor="end" class="b" font-family="'Liberation Serif','Times New Roman',serif" font-weight="bold" font-size="5.4">100</text>
<text x="27.6" y="75.5" text-anchor="end" class="b" font-family="'Liberation Serif','Times New Roman',serif" font-weight="bold" font-size="5.4">200</text>
<text x="27.6" y="54.8" text-anchor="end" class="b" font-family="'Liberation Serif','Times New Roman',serif" font-weight="bold" font-size="5.4">300</text>
<text x="27.6" y="34" text-anchor="end" class="b" font-family="'Liberation Serif','Times New Roman',serif" font-weight="bold" font-size="5.4">400</text>
<text x="27.6" y="13.2" text-anchor="end" class="b" font-family="'Liberation Serif','Times New Roman',serif" font-weight="bold" font-size="5.4">500</text>
<text x="91" y="9.7" text-anchor="middle" class="b" font-family="'Liberation Serif','Times New Roman',serif" font-weight="bold" font-size="6.85">Vastus Medialis</text>
<text x="94.6" y="130.2" text-anchor="middle" class="b" font-family="'Liberation Serif','Times New Roman',serif" font-weight="bold" font-size="6.85">Stance phase (%)</text>
<text transform="translate(13.6,63.3) rotate(-90)" text-anchor="middle" class="b" font-family="'Liberation Serif','Times New Roman',serif" font-weight="bold" font-size="6.85">Muscle Force (N)</text>
<path d="M33.6,18.4h10.2" stroke="#555" stroke-width="0.6"/>
<path d="M33.6,24.5h10.2" stroke="#f06868" stroke-width="0.6"/>
<text x="46.2" y="20" class="b" font-family="'Liberation Serif','Times New Roman',serif" font-weight="bold" font-size="5.0">NS</text>
<text x="46.2" y="26.1" class="b" font-family="'Liberation Serif','Times New Roman',serif" font-weight="bold" font-size="5.0">BS</text>
<clipPath id="c2"><path d="M220.9,111.7 L221.6,109.6 L222.2,106.4 L222.9,102.3 L223.5,97.6 L224.2,91.3 L224.8,84.1 L225.5,77.4 L226.1,71.7 L226.8,66.9 L227.4,62.8 L228.1,61.1 L228.7,61.8 L229.4,63.5 L230,65.4 L230.7,67.4 L231.4,69.7 L232,72 L232.7,73.7 L233.3,75.1 L234,76.2 L234.6,77.2 L235.3,78.1 L235.9,79 L236.6,80 L237.2,80.9 L237.9,81.9 L238.5,82.9 L239.2,83.8 L239.9,84.7 L240.5,85.6 L241.2,86.4 L241.8,87.2 L242.5,88 L243.1,88.8 L243.8,89.6 L244.4,90.3 L245.1,91 L245.7,91.7 L246.4,92.4 L247,93 L247.7,93.5 L248.3,94.1 L249,94.7 L249.7,95.2 L250.3,95.7 L251,96.2 L251.6,96.6 L252.3,97 L252.9,97.4 L253.6,97.6 L254.2,97.9 L254.9,98.1 L255.5,98.3 L256.2,98.5 L256.8,98.6 L257.5,98.8 L258.1,98.9 L258.8,99 L259.5,99.1 L260.1,99.2 L260.8,99.3 L261.4,99.3 L262.1,99.4 L262.7,99.4 L263.4,99.4 L264,99.5 L264.7,99.6 L265.3,99.7 L266,99.9 L266.6,100 L267.3,100.2 L268,100.4 L268.6,100.6 L269.3,100.8 L269.9,100.9 L270.6,101.1 L271.2,101.3 L271.9,101.5 L272.5,101.8 L273.2,102 L273.8,102.2 L274.5,102.4 L275.1,102.6 L275.8,102.8 L276.4,103 L277.1,103.3 L277.8,103.5 L278.4,103.7 L279.1,103.9 L279.7,104.1 L280.4,104.3 L281,104.5 L281.7,104.7 L282.3,104.9 L283,105.1 L283.6,105.3 L284.3,105.4 L284.9,105.6 L285.6,105.7 L286.2,105.9 L286.9,106 L287.6,106.2 L288.2,106.3 L288.9,106.5 L289.5,106.6 L290.2,106.8 L290.8,107 L291.5,107.1 L292.1,107.3 L292.8,107.4 L293.4,107.6 L294.1,107.8 L294.7,107.9 L295.4,108 L296.1,108.2 L296.7,108.3 L297.4,108.4 L298,108.5 L298.7,108.6 L299.3,108.7 L300,108.8 L300.6,108.9 L301.3,109 L301.9,109.1 L302.6,109.1 L303.2,109.2 L303.9,109.3 L304.5,109.3 L305.2,109.4 L305.9,109.5 L306.5,109.5 L307.2,109.6 L307.8,109.6 L308.5,109.6 L309.1,109.6 L309.8,109.6 L310.4,109.6 L311.1,109.6 L311.7,109.6 L312.4,109.6 L313,109.6 L313.7,109.6 L314.4,109.5 L315,109.4 L315.7,109.1 L316.3,108.8 L317,108.4 L317.6,108 L318.3,107.5 L318.9,107 L319.6,106.2 L320.2,105.2 L320.9,103.8 L321.5,102.4 L322.2,101 L322.8,99.7 L323.5,98.5 L324.2,97.2 L324.8,95.9 L325.5,94.7 L326.1,93.5 L326.8,92.3 L327.4,91.3 L328.1,90.4 L328.7,89.5 L329.4,88.6 L330,87.8 L330.7,87.1 L331.3,86.6 L332,86.4 L332.6,86.5 L333.3,86.7 L334,87 L334.6,87.4 L335.3,87.8 L335.9,88.3 L336.6,88.8 L337.2,89.5 L337.9,90.4 L338.5,91.3 L339.2,92.2 L339.8,93.1 L340.5,93.9 L341.1,94.5 L341.8,95.1 L342.5,95.6 L343.1,96.2 L343.8,96.7 L344.4,97.1 L345.1,97.5 L345.7,97.9 L346.4,98.2 L347,98.4 L347.7,98.6 L348.3,98.9 L349,99.1 L349.6,99.2 L350.3,99.4 L350.9,99.5 L351.6,99.5 L351.6,107.5 L350.9,107.6 L350.3,107.8 L349.6,107.9 L349,108.1 L348.3,108.2 L347.7,108.4 L347,108.5 L346.4,108.7 L345.7,108.9 L345.1,109.1 L344.4,109.2 L343.8,109.4 L343.1,109.6 L342.5,109.8 L341.8,110.1 L341.1,110.3 L340.5,110.5 L339.8,110.7 L339.2,110.9 L338.5,111.1 L337.9,111.4 L337.2,111.7 L336.6,112 L335.9,112.3 L335.3,112.6 L334.6,112.8 L334,113.1 L333.3,113.3 L332.6,113.4 L332,113.4 L331.3,113.4 L330.7,113.4 L330,113.4 L329.4,113.4 L328.7,113.4 L328.1,113.3 L327.4,113.3 L326.8,113.3 L326.1,113.3 L325.5,113.2 L324.8,113.2 L324.2,113.2 L323.5,113.1 L322.8,113.1 L322.2,113 L321.5,113 L320.9,112.9 L320.2,112.8 L319.6,112.8 L318.9,112.7 L318.3,112.6 L317.6,112.5 L317,112.4 L316.3,112.3 L315.7,112.2 L315,112 L314.4,111.9 L313.7,111.8 L313,111.7 L312.4,111.7 L311.7,111.6 L311.1,111.6 L310.4,111.5 L309.8,111.5 L309.1,111.5 L308.5,111.5 L307.8,111.4 L307.2,111.4 L306.5,111.4 L305.9,111.4 L305.2,111.3 L304.5,111.3 L303.9,111.2 L303.2,111.2 L302.6,111.2 L301.9,111.1 L301.3,111.1 L300.6,111 L300,111 L299.3,110.9 L298.7,110.9 L298,110.8 L297.4,110.8 L296.7,110.7 L296.1,110.6 L295.4,110.6 L294.7,110.5 L294.1,110.4 L293.4,110.4 L292.8,110.3 L292.1,110.2 L291.5,110.2 L290.8,110.1 L290.2,110 L289.5,109.9 L288.9,109.8 L288.2,109.7 L287.6,109.7 L286.9,109.6 L286.2,109.6 L285.6,109.6 L284.9,109.5 L284.3,109.5 L283.6,109.5 L283,109.5 L282.3,109.5 L281.7,109.5 L281,109.5 L280.4,109.5 L279.7,109.5 L279.1,109.4 L278.4,109.4 L277.8,109.4 L277.1,109.4 L276.4,109.3 L275.8,109.2 L275.1,109 L274.5,108.8 L273.8,108.7 L273.2,108.5 L272.5,108.4 L271.9,108.3 L271.2,108.3 L270.6,108.2 L269.9,108.1 L269.3,108 L268.6,107.9 L268,107.8 L267.3,107.7 L266.6,107.6 L266,107.5 L265.3,107.4 L264.7,107.3 L264,107.2 L263.4,107.1 L262.7,107 L262.1,106.8 L261.4,106.7 L260.8,106.6 L260.1,106.5 L259.5,106.4 L258.8,106.3 L258.1,106.2 L257.5,106.1 L256.8,105.9 L256.2,105.8 L255.5,105.6 L254.9,105.4 L254.2,105.3 L253.6,105.1 L252.9,104.9 L252.3,104.7 L251.6,104.5 L251,104.3 L250.3,104 L249.7,103.8 L249,103.4 L248.3,103.1 L247.7,102.6 L247,102.2 L246.4,101.8 L245.7,101.4 L245.1,101 L244.4,100.7 L243.8,100.2 L243.1,99.7 L242.5,99 L241.8,98.2 L241.2,97.3 L240.5,96.4 L239.9,95.6 L239.2,94.8 L238.5,94 L237.9,93.2 L237.2,92.6 L236.6,92.2 L235.9,92 L235.3,91.8 L234.6,91.7 L234,91.6 L233.3,91.7 L232.7,92 L232,92.5 L231.4,93 L230.7,93.6 L230,94.4 L229.4,95.4 L228.7,96.6 L228.1,98.3 L227.4,100.5 L226.8,102.8 L226.1,104.9 L225.5,106.7 L224.8,108.5 L224.2,110 L223.5,111.1 L222.9,112 L222.2,112.7 L221.6,113.2 L220.9,113.4Z"/></clipPath>
<path d="M220.9,111.7 L221.6,109.6 L222.2,106.4 L222.9,102.3 L223.5,97.6 L224.2,91.3 L224.8,84.1 L225.5,77.4 L226.1,71.7 L226.8,66.9 L227.4,62.8 L228.1,61.1 L228.7,61.8 L229.4,63.5 L230,65.4 L230.7,67.4 L231.4,69.7 L232,72 L232.7,73.7 L233.3,75.1 L234,76.2 L234.6,77.2 L235.3,78.1 L235.9,79 L236.6,80 L237.2,80.9 L237.9,81.9 L238.5,82.9 L239.2,83.8 L239.9,84.7 L240.5,85.6 L241.2,86.4 L241.8,87.2 L242.5,88 L243.1,88.8 L243.8,89.6 L244.4,90.3 L245.1,91 L245.7,91.7 L246.4,92.4 L247,93 L247.7,93.5 L248.3,94.1 L249,94.7 L249.7,95.2 L250.3,95.7 L251,96.2 L251.6,96.6 L252.3,97 L252.9,97.4 L253.6,97.6 L254.2,97.9 L254.9,98.1 L255.5,98.3 L256.2,98.5 L256.8,98.6 L257.5,98.8 L258.1,98.9 L258.8,99 L259.5,99.1 L260.1,99.2 L260.8,99.3 L261.4,99.3 L262.1,99.4 L262.7,99.4 L263.4,99.4 L264,99.5 L264.7,99.6 L265.3,99.7 L266,99.9 L266.6,100 L267.3,100.2 L268,100.4 L268.6,100.6 L269.3,100.8 L269.9,100.9 L270.6,101.1 L271.2,101.3 L271.9,101.5 L272.5,101.8 L273.2,102 L273.8,102.2 L274.5,102.4 L275.1,102.6 L275.8,102.8 L276.4,103 L277.1,103.3 L277.8,103.5 L278.4,103.7 L279.1,103.9 L279.7,104.1 L280.4,104.3 L281,104.5 L281.7,104.7 L282.3,104.9 L283,105.1 L283.6,105.3 L284.3,105.4 L284.9,105.6 L285.6,105.7 L286.2,105.9 L286.9,106 L287.6,106.2 L288.2,106.3 L288.9,106.5 L289.5,106.6 L290.2,106.8 L290.8,107 L291.5,107.1 L292.1,107.3 L292.8,107.4 L293.4,107.6 L294.1,107.8 L294.7,107.9 L295.4,108 L296.1,108.2 L296.7,108.3 L297.4,108.4 L298,108.5 L298.7,108.6 L299.3,108.7 L300,108.8 L300.6,108.9 L301.3,109 L301.9,109.1 L302.6,109.1 L303.2,109.2 L303.9,109.3 L304.5,109.3 L305.2,109.4 L305.9,109.5 L306.5,109.5 L307.2,109.6 L307.8,109.6 L308.5,109.6 L309.1,109.6 L309.8,109.6 L310.4,109.6 L311.1,109.6 L311.7,109.6 L312.4,109.6 L313,109.6 L313.7,109.6 L314.4,109.5 L315,109.4 L315.7,109.1 L316.3,108.8 L317,108.4 L317.6,108 L318.3,107.5 L318.9,107 L319.6,106.2 L320.2,105.2 L320.9,103.8 L321.5,102.4 L322.2,101 L322.8,99.7 L323.5,98.5 L324.2,97.2 L324.8,95.9 L325.5,94.7 L326.1,93.5 L326.8,92.3 L327.4,91.3 L328.1,90.4 L328.7,89.5 L329.4,88.6 L330,87.8 L330.7,87.1 L331.3,86.6 L332,86.4 L332.6,86.5 L333.3,86.7 L334,87 L334.6,87.4 L335.3,87.8 L335.9,88.3 L336.6,88.8 L337.2,89.5 L337.9,90.4 L338.5,91.3 L339.2,92.2 L339.8,93.1 L340.5,93.9 L341.1,94.5 L341.8,95.1 L342.5,95.6 L343.1,96.2 L343.8,96.7 L344.4,97.1 L345.1,97.5 L345.7,97.9 L346.4,98.2 L347,98.4 L347.7,98.6 L348.3,98.9 L349,99.1 L349.6,99.2 L350.3,99.4 L350.9,99.5 L351.6,99.5 L351.6,107.5 L350.9,107.6 L350.3,107.8 L349.6,107.9 L349,108.1 L348.3,108.2 L347.7,108.4 L347,108.5 L346.4,108.7 L345.7,108.9 L345.1,109.1 L344.4,109.2 L343.8,109.4 L343.1,109.6 L342.5,109.8 L341.8,110.1 L341.1,110.3 L340.5,110.5 L339.8,110.7 L339.2,110.9 L338.5,111.1 L337.9,111.4 L337.2,111.7 L336.6,112 L335.9,112.3 L335.3,112.6 L334.6,112.8 L334,113.1 L333.3,113.3 L332.6,113.4 L332,113.4 L331.3,113.4 L330.7,113.4 L330,113.4 L329.4,113.4 L328.7,113.4 L328.1,113.3 L327.4,113.3 L326.8,113.3 L326.1,113.3 L325.5,113.2 L324.8,113.2 L324.2,113.2 L323.5,113.1 L322.8,113.1 L322.2,113 L321.5,113 L320.9,112.9 L320.2,112.8 L319.6,112.8 L318.9,112.7 L318.3,112.6 L317.6,112.5 L317,112.4 L316.3,112.3 L315.7,112.2 L315,112 L314.4,111.9 L313.7,111.8 L313,111.7 L312.4,111.7 L311.7,111.6 L311.1,111.6 L310.4,111.5 L309.8,111.5 L309.1,111.5 L308.5,111.5 L307.8,111.4 L307.2,111.4 L306.5,111.4 L305.9,111.4 L305.2,111.3 L304.5,111.3 L303.9,111.2 L303.2,111.2 L302.6,111.2 L301.9,111.1 L301.3,111.1 L300.6,111 L300,111 L299.3,110.9 L298.7,110.9 L298,110.8 L297.4,110.8 L296.7,110.7 L296.1,110.6 L295.4,110.6 L294.7,110.5 L294.1,110.4 L293.4,110.4 L292.8,110.3 L292.1,110.2 L291.5,110.2 L290.8,110.1 L290.2,110 L289.5,109.9 L288.9,109.8 L288.2,109.7 L287.6,109.7 L286.9,109.6 L286.2,109.6 L285.6,109.6 L284.9,109.5 L284.3,109.5 L283.6,109.5 L283,109.5 L282.3,109.5 L281.7,109.5 L281,109.5 L280.4,109.5 L279.7,109.5 L279.1,109.4 L278.4,109.4 L277.8,109.4 L277.1,109.4 L276.4,109.3 L275.8,109.2 L275.1,109 L274.5,108.8 L273.8,108.7 L273.2,108.5 L272.5,108.4 L271.9,108.3 L271.2,108.3 L270.6,108.2 L269.9,108.1 L269.3,108 L268.6,107.9 L268,107.8 L267.3,107.7 L266.6,107.6 L266,107.5 L265.3,107.4 L264.7,107.3 L264,107.2 L263.4,107.1 L262.7,107 L262.1,106.8 L261.4,106.7 L260.8,106.6 L260.1,106.5 L259.5,106.4 L258.8,106.3 L258.1,106.2 L257.5,106.1 L256.8,105.9 L256.2,105.8 L255.5,105.6 L254.9,105.4 L254.2,105.3 L253.6,105.1 L252.9,104.9 L252.3,104.7 L251.6,104.5 L251,104.3 L250.3,104 L249.7,103.8 L249,103.4 L248.3,103.1 L247.7,102.6 L247,102.2 L246.4,101.8 L245.7,101.4 L245.1,101 L244.4,100.7 L243.8,100.2 L243.1,99.7 L242.5,99 L241.8,98.2 L241.2,97.3 L240.5,96.4 L239.9,95.6 L239.2,94.8 L238.5,94 L237.9,93.2 L237.2,92.6 L236.6,92.2 L235.9,92 L235.3,91.8 L234.6,91.7 L234,91.6 L233.3,91.7 L232.7,92 L232,92.5 L231.4,93 L230.7,93.6 L230,94.4 L229.4,95.4 L228.7,96.6 L228.1,98.3 L227.4,100.5 L226.8,102.8 L226.1,104.9 L225.5,106.7 L224.8,108.5 L224.2,110 L223.5,111.1 L222.9,112 L222.2,112.7 L221.6,113.2 L220.9,113.4Z" fill="#bebebe"/>
<path d="M220.9,112.2 L221.6,111.8 L222.2,111.1 L222.9,110.1 L223.5,108.8 L224.2,107.4 L224.8,105.9 L225.5,104.2 L226.1,102 L226.8,99.3 L227.4,96.3 L228.1,92.9 L228.7,89.3 L229.4,84.7 L230,78.9 L230.7,72.5 L231.4,66.4 L232,61.3 L232.7,56.6 L233.3,51.7 L234,47.4 L234.6,44.4 L235.3,43.2 L235.9,44 L236.6,45.7 L237.2,47.8 L237.9,50 L238.5,52.7 L239.2,55.7 L239.9,58.6 L240.5,61.3 L241.2,63.7 L241.8,66.1 L242.5,68.4 L243.1,70.6 L243.8,72.8 L244.4,74.8 L245.1,76.7 L245.7,78.6 L246.4,80.5 L247,82.2 L247.7,83.8 L248.3,85.2 L249,86.5 L249.7,87.7 L250.3,88.8 L251,89.9 L251.6,91 L252.3,91.9 L252.9,92.7 L253.6,93.5 L254.2,94.2 L254.9,94.8 L255.5,95.4 L256.2,96 L256.8,96.5 L257.5,97 L258.1,97.5 L258.8,97.9 L259.5,98.3 L260.1,98.7 L260.8,99 L261.4,99.3 L262.1,99.6 L262.7,99.9 L263.4,100.2 L264,100.4 L264.7,100.6 L265.3,100.9 L266,101.1 L266.6,101.3 L267.3,101.5 L268,101.7 L268.6,101.8 L269.3,102 L269.9,102.2 L270.6,102.3 L271.2,102.5 L271.9,102.6 L272.5,102.7 L273.2,102.8 L273.8,102.9 L274.5,103 L275.1,103.1 L275.8,103.2 L276.4,103.3 L277.1,103.3 L277.8,103.3 L278.4,103.4 L279.1,103.3 L279.7,103.2 L280.4,103 L281,102.8 L281.7,102.7 L282.3,102.6 L283,102.7 L283.6,102.7 L284.3,102.9 L284.9,103 L285.6,103.2 L286.2,103.4 L286.9,103.6 L287.6,103.8 L288.2,104.2 L288.9,104.6 L289.5,104.9 L290.2,105.3 L290.8,105.6 L291.5,105.9 L292.1,106.2 L292.8,106.5 L293.4,106.7 L294.1,107 L294.7,107.2 L295.4,107.4 L296.1,107.6 L296.7,107.8 L297.4,108 L298,108.1 L298.7,108.3 L299.3,108.4 L300,108.5 L300.6,108.6 L301.3,108.7 L301.9,108.9 L302.6,109 L303.2,109.1 L303.9,109.2 L304.5,109.3 L305.2,109.4 L305.9,109.5 L306.5,109.5 L307.2,109.6 L307.8,109.6 L308.5,109.7 L309.1,109.7 L309.8,109.8 L310.4,109.8 L311.1,109.9 L311.7,109.9 L312.4,109.9 L313,109.9 L313.7,109.9 L314.4,109.8 L315,109.7 L315.7,109.7 L316.3,109.6 L317,109.4 L317.6,109.3 L318.3,109.2 L318.9,109.1 L319.6,108.9 L320.2,108.6 L320.9,108.3 L321.5,107.9 L322.2,107.4 L322.8,107 L323.5,106.5 L324.2,105.9 L324.8,105.4 L325.5,104.9 L326.1,104.3 L326.8,103.6 L327.4,102.8 L328.1,102 L328.7,101.2 L329.4,100.4 L330,99.7 L330.7,99.2 L331.3,98.8 L332,98.7 L332.6,98.7 L333.3,98.7 L334,98.7 L334.6,98.7 L335.3,98.7 L335.9,98.8 L336.6,98.8 L337.2,98.8 L337.9,98.9 L338.5,98.9 L339.2,98.9 L339.8,99 L340.5,99.1 L341.1,99.2 L341.8,99.3 L342.5,99.4 L343.1,99.5 L343.8,99.6 L344.4,99.6 L345.1,99.7 L345.7,99.8 L346.4,99.8 L347,99.9 L347.7,100 L348.3,100 L349,100.1 L349.6,100.1 L350.3,100.2 L350.9,100.2 L351.6,100.2 L351.6,107 L350.9,107.1 L350.3,107.2 L349.6,107.3 L349,107.4 L348.3,107.5 L347.7,107.6 L347,107.7 L346.4,107.8 L345.7,107.9 L345.1,108 L344.4,108.1 L343.8,108.2 L343.1,108.3 L342.5,108.4 L341.8,108.5 L341.1,108.6 L340.5,108.7 L339.8,108.8 L339.2,108.9 L338.5,109.1 L337.9,109.2 L337.2,109.4 L336.6,109.6 L335.9,109.9 L335.3,110.1 L334.6,110.3 L334,110.5 L333.3,110.7 L332.6,110.8 L332,110.9 L331.3,111 L330.7,111.1 L330,111.1 L329.4,111.1 L328.7,111.2 L328.1,111.2 L327.4,111.3 L326.8,111.3 L326.1,111.3 L325.5,111.4 L324.8,111.4 L324.2,111.4 L323.5,111.5 L322.8,111.5 L322.2,111.6 L321.5,111.6 L320.9,111.6 L320.2,111.6 L319.6,111.7 L318.9,111.7 L318.3,111.7 L317.6,111.6 L317,111.6 L316.3,111.6 L315.7,111.5 L315,111.5 L314.4,111.5 L313.7,111.4 L313,111.4 L312.4,111.4 L311.7,111.3 L311.1,111.3 L310.4,111.3 L309.8,111.3 L309.1,111.2 L308.5,111.2 L307.8,111.2 L307.2,111.2 L306.5,111.2 L305.9,111.1 L305.2,111.1 L304.5,111.1 L303.9,111.1 L303.2,111.1 L302.6,111 L301.9,111 L301.3,111 L300.6,111 L300,111 L299.3,110.9 L298.7,110.9 L298,110.9 L297.4,110.8 L296.7,110.8 L296.1,110.8 L295.4,110.7 L294.7,110.7 L294.1,110.6 L293.4,110.6 L292.8,110.5 L292.1,110.5 L291.5,110.4 L290.8,110.3 L290.2,110.3 L289.5,110.2 L288.9,110.1 L288.2,110 L287.6,109.9 L286.9,109.7 L286.2,109.5 L285.6,109.4 L284.9,109.2 L284.3,109 L283.6,108.9 L283,108.7 L282.3,108.6 L281.7,108.5 L281,108.3 L280.4,108.2 L279.7,108.1 L279.1,108 L278.4,107.8 L277.8,107.7 L277.1,107.5 L276.4,107.3 L275.8,107.2 L275.1,107 L274.5,106.8 L273.8,106.6 L273.2,106.5 L272.5,106.3 L271.9,106.2 L271.2,106 L270.6,105.9 L269.9,105.8 L269.3,105.6 L268.6,105.5 L268,105.3 L267.3,105.2 L266.6,105 L266,104.8 L265.3,104.6 L264.7,104.4 L264,104.2 L263.4,104 L262.7,103.9 L262.1,103.7 L261.4,103.6 L260.8,103.5 L260.1,103.3 L259.5,103.2 L258.8,103.1 L258.1,102.9 L257.5,102.7 L256.8,102.5 L256.2,102.2 L255.5,101.9 L254.9,101.5 L254.2,101.2 L253.6,100.8 L252.9,100.3 L252.3,99.9 L251.6,99.5 L251,99 L250.3,98.4 L249.7,97.9 L249,97.3 L248.3,96.7 L247.7,96.1 L247,95.6 L246.4,95 L245.7,94.4 L245.1,93.8 L244.4,93.3 L243.8,92.7 L243.1,92.2 L242.5,91.7 L241.8,91.2 L241.2,90.7 L240.5,90.3 L239.9,90 L239.2,89.8 L238.5,90 L237.9,90.3 L237.2,90.8 L236.6,91.4 L235.9,92.7 L235.3,94.9 L234.6,97.5 L234,100.2 L233.3,103.1 L232.7,106.3 L232,109.1 L231.4,111.8 L230.7,114.2 L230,115.3 L229.4,115.3 L228.7,115.3 L228.1,115.3 L227.4,115.3 L226.8,115.3 L226.1,115.2 L225.5,115.1 L224.8,115 L224.2,114.9 L223.5,114.8 L222.9,114.7 L222.2,114.5 L221.6,114.4 L220.9,114.3Z" fill="rgb(247,152,152)"/>
<path d="M220.9,112.2 L221.6,111.8 L222.2,111.1 L222.9,110.1 L223.5,108.8 L224.2,107.4 L224.8,105.9 L225.5,104.2 L226.1,102 L226.8,99.3 L227.4,96.3 L228.1,92.9 L228.7,89.3 L229.4,84.7 L230,78.9 L230.7,72.5 L231.4,66.4 L232,61.3 L232.7,56.6 L233.3,51.7 L234,47.4 L234.6,44.4 L235.3,43.2 L235.9,44 L236.6,45.7 L237.2,47.8 L237.9,50 L238.5,52.7 L239.2,55.7 L239.9,58.6 L240.5,61.3 L241.2,63.7 L241.8,66.1 L242.5,68.4 L243.1,70.6 L243.8,72.8 L244.4,74.8 L245.1,76.7 L245.7,78.6 L246.4,80.5 L247,82.2 L247.7,83.8 L248.3,85.2 L249,86.5 L249.7,87.7 L250.3,88.8 L251,89.9 L251.6,91 L252.3,91.9 L252.9,92.7 L253.6,93.5 L254.2,94.2 L254.9,94.8 L255.5,95.4 L256.2,96 L256.8,96.5 L257.5,97 L258.1,97.5 L258.8,97.9 L259.5,98.3 L260.1,98.7 L260.8,99 L261.4,99.3 L262.1,99.6 L262.7,99.9 L263.4,100.2 L264,100.4 L264.7,100.6 L265.3,100.9 L266,101.1 L266.6,101.3 L267.3,101.5 L268,101.7 L268.6,101.8 L269.3,102 L269.9,102.2 L270.6,102.3 L271.2,102.5 L271.9,102.6 L272.5,102.7 L273.2,102.8 L273.8,102.9 L274.5,103 L275.1,103.1 L275.8,103.2 L276.4,103.3 L277.1,103.3 L277.8,103.3 L278.4,103.4 L279.1,103.3 L279.7,103.2 L280.4,103 L281,102.8 L281.7,102.7 L282.3,102.6 L283,102.7 L283.6,102.7 L284.3,102.9 L284.9,103 L285.6,103.2 L286.2,103.4 L286.9,103.6 L287.6,103.8 L288.2,104.2 L288.9,104.6 L289.5,104.9 L290.2,105.3 L290.8,105.6 L291.5,105.9 L292.1,106.2 L292.8,106.5 L293.4,106.7 L294.1,107 L294.7,107.2 L295.4,107.4 L296.1,107.6 L296.7,107.8 L297.4,108 L298,108.1 L298.7,108.3 L299.3,108.4 L300,108.5 L300.6,108.6 L301.3,108.7 L301.9,108.9 L302.6,109 L303.2,109.1 L303.9,109.2 L304.5,109.3 L305.2,109.4 L305.9,109.5 L306.5,109.5 L307.2,109.6 L307.8,109.6 L308.5,109.7 L309.1,109.7 L309.8,109.8 L310.4,109.8 L311.1,109.9 L311.7,109.9 L312.4,109.9 L313,109.9 L313.7,109.9 L314.4,109.8 L315,109.7 L315.7,109.7 L316.3,109.6 L317,109.4 L317.6,109.3 L318.3,109.2 L318.9,109.1 L319.6,108.9 L320.2,108.6 L320.9,108.3 L321.5,107.9 L322.2,107.4 L322.8,107 L323.5,106.5 L324.2,105.9 L324.8,105.4 L325.5,104.9 L326.1,104.3 L326.8,103.6 L327.4,102.8 L328.1,102 L328.7,101.2 L329.4,100.4 L330,99.7 L330.7,99.2 L331.3,98.8 L332,98.7 L332.6,98.7 L333.3,98.7 L334,98.7 L334.6,98.7 L335.3,98.7 L335.9,98.8 L336.6,98.8 L337.2,98.8 L337.9,98.9 L338.5,98.9 L339.2,98.9 L339.8,99 L340.5,99.1 L341.1,99.2 L341.8,99.3 L342.5,99.4 L343.1,99.5 L343.8,99.6 L344.4,99.6 L345.1,99.7 L345.7,99.8 L346.4,99.8 L347,99.9 L347.7,100 L348.3,100 L349,100.1 L349.6,100.1 L350.3,100.2 L350.9,100.2 L351.6,100.2 L351.6,107 L350.9,107.1 L350.3,107.2 L349.6,107.3 L349,107.4 L348.3,107.5 L347.7,107.6 L347,107.7 L346.4,107.8 L345.7,107.9 L345.1,108 L344.4,108.1 L343.8,108.2 L343.1,108.3 L342.5,108.4 L341.8,108.5 L341.1,108.6 L340.5,108.7 L339.8,108.8 L339.2,108.9 L338.5,109.1 L337.9,109.2 L337.2,109.4 L336.6,109.6 L335.9,109.9 L335.3,110.1 L334.6,110.3 L334,110.5 L333.3,110.7 L332.6,110.8 L332,110.9 L331.3,111 L330.7,111.1 L330,111.1 L329.4,111.1 L328.7,111.2 L328.1,111.2 L327.4,111.3 L326.8,111.3 L326.1,111.3 L325.5,111.4 L324.8,111.4 L324.2,111.4 L323.5,111.5 L322.8,111.5 L322.2,111.6 L321.5,111.6 L320.9,111.6 L320.2,111.6 L319.6,111.7 L318.9,111.7 L318.3,111.7 L317.6,111.6 L317,111.6 L316.3,111.6 L315.7,111.5 L315,111.5 L314.4,111.5 L313.7,111.4 L313,111.4 L312.4,111.4 L311.7,111.3 L311.1,111.3 L310.4,111.3 L309.8,111.3 L309.1,111.2 L308.5,111.2 L307.8,111.2 L307.2,111.2 L306.5,111.2 L305.9,111.1 L305.2,111.1 L304.5,111.1 L303.9,111.1 L303.2,111.1 L302.6,111 L301.9,111 L301.3,111 L300.6,111 L300,111 L299.3,110.9 L298.7,110.9 L298,110.9 L297.4,110.8 L296.7,110.8 L296.1,110.8 L295.4,110.7 L294.7,110.7 L294.1,110.6 L293.4,110.6 L292.8,110.5 L292.1,110.5 L291.5,110.4 L290.8,110.3 L290.2,110.3 L289.5,110.2 L288.9,110.1 L288.2,110 L287.6,109.9 L286.9,109.7 L286.2,109.5 L285.6,109.4 L284.9,109.2 L284.3,109 L283.6,108.9 L283,108.7 L282.3,108.6 L281.7,108.5 L281,108.3 L280.4,108.2 L279.7,108.1 L279.1,108 L278.4,107.8 L277.8,107.7 L277.1,107.5 L276.4,107.3 L275.8,107.2 L275.1,107 L274.5,106.8 L273.8,106.6 L273.2,106.5 L272.5,106.3 L271.9,106.2 L271.2,106 L270.6,105.9 L269.9,105.8 L269.3,105.6 L268.6,105.5 L268,105.3 L267.3,105.2 L266.6,105 L266,104.8 L265.3,104.6 L264.7,104.4 L264,104.2 L263.4,104 L262.7,103.9 L262.1,103.7 L261.4,103.6 L260.8,103.5 L260.1,103.3 L259.5,103.2 L258.8,103.1 L258.1,102.9 L257.5,102.7 L256.8,102.5 L256.2,102.2 L255.5,101.9 L254.9,101.5 L254.2,101.2 L253.6,100.8 L252.9,100.3 L252.3,99.9 L251.6,99.5 L251,99 L250.3,98.4 L249.7,97.9 L249,97.3 L248.3,96.7 L247.7,96.1 L247,95.6 L246.4,95 L245.7,94.4 L245.1,93.8 L244.4,93.3 L243.8,92.7 L243.1,92.2 L242.5,91.7 L241.8,91.2 L241.2,90.7 L240.5,90.3 L239.9,90 L239.2,89.8 L238.5,90 L237.9,90.3 L237.2,90.8 L236.6,91.4 L235.9,92.7 L235.3,94.9 L234.6,97.5 L234,100.2 L233.3,103.1 L232.7,106.3 L232,109.1 L231.4,111.8 L230.7,114.2 L230,115.3 L229.4,115.3 L228.7,115.3 L228.1,115.3 L227.4,115.3 L226.8,115.3 L226.1,115.2 L225.5,115.1 L224.8,115 L224.2,114.9 L223.5,114.8 L222.9,114.7 L222.2,114.5 L221.6,114.4 L220.9,114.3Z" fill="rgb(235,102,102)" clip-path="url(#c2)"/>
<path d="M220.9,112.7 L221.6,111.7 L222.2,110.1 L222.9,108.2 L223.5,105.9 L224.2,102.9 L224.8,99 L225.5,94.9 L226.1,91.4 L226.8,88.2 L227.4,85.1 L228.1,82.5 L228.7,81 L229.4,80.2 L230,79.7 L230.7,79.5 L231.4,79.5 L232,79.7 L232.7,79.9 L233.3,80.2 L234,80.5 L234.6,80.9 L235.3,81.5 L235.9,82.2 L236.6,83 L237.2,83.8 L237.9,84.6 L238.5,85.5 L239.2,86.2 L239.9,86.9 L240.5,87.6 L241.2,88.3 L241.8,89 L242.5,89.7 L243.1,90.4 L243.8,91.1 L244.4,91.8 L245.1,92.5 L245.7,93.2 L246.4,93.8 L247,94.4 L247.7,95 L248.3,95.6 L249,96.1 L249.7,96.6 L250.3,97.1 L251,97.6 L251.6,98 L252.3,98.4 L252.9,98.7 L253.6,99.1 L254.2,99.4 L254.9,99.7 L255.5,100.1 L256.2,100.4 L256.8,100.8 L257.5,101.1 L258.1,101.4 L258.8,101.7 L259.5,102 L260.1,102.3 L260.8,102.6 L261.4,102.8 L262.1,103 L262.7,103.2 L263.4,103.4 L264,103.6 L264.7,103.7 L265.3,103.9 L266,104 L266.6,104.1 L267.3,104.3 L268,104.4 L268.6,104.5 L269.3,104.6 L269.9,104.7 L270.6,104.8 L271.2,104.9 L271.9,105 L272.5,105.1 L273.2,105.2 L273.8,105.3 L274.5,105.5 L275.1,105.6 L275.8,105.7 L276.4,105.8 L277.1,105.9 L277.8,106.1 L278.4,106.2 L279.1,106.3 L279.7,106.5 L280.4,106.6 L281,106.8 L281.7,106.9 L282.3,107.1 L283,107.2 L283.6,107.4 L284.3,107.6 L284.9,107.7 L285.6,107.9 L286.2,108 L286.9,108.2 L287.6,108.3 L288.2,108.4 L288.9,108.6 L289.5,108.7 L290.2,108.8 L290.8,108.9 L291.5,109.1 L292.1,109.2 L292.8,109.3 L293.4,109.4 L294.1,109.5 L294.7,109.6 L295.4,109.6 L296.1,109.7 L296.7,109.8 L297.4,109.9 L298,110 L298.7,110 L299.3,110.1 L300,110.2 L300.6,110.2 L301.3,110.3 L301.9,110.3 L302.6,110.4 L303.2,110.4 L303.9,110.5 L304.5,110.5 L305.2,110.6 L305.9,110.6 L306.5,110.7 L307.2,110.7 L307.8,110.7 L308.5,110.8 L309.1,110.8 L309.8,110.9 L310.4,110.9 L311.1,110.9 L311.7,110.9 L312.4,110.9 L313,110.9 L313.7,110.9 L314.4,110.9 L315,110.9 L315.7,110.9 L316.3,110.8 L317,110.8 L317.6,110.7 L318.3,110.7 L318.9,110.6 L319.6,110.5 L320.2,110.4 L320.9,110.2 L321.5,110 L322.2,109.8 L322.8,109.6 L323.5,109.3 L324.2,108.9 L324.8,108.4 L325.5,107.9 L326.1,107.4 L326.8,106.9 L327.4,106.4 L328.1,105.9 L328.7,105.5 L329.4,105.1 L330,104.6 L330.7,104.2 L331.3,103.8 L332,103.4 L332.6,103.2 L333.3,103 L334,103 L334.6,102.9 L335.3,102.8 L335.9,102.7 L336.6,102.7 L337.2,102.7 L337.9,102.6 L338.5,102.6 L339.2,102.6 L339.8,102.6 L340.5,102.7 L341.1,102.7 L341.8,102.7 L342.5,102.7 L343.1,102.8 L343.8,102.8 L344.4,102.8 L345.1,102.8 L345.7,102.9 L346.4,102.9 L347,102.9 L347.7,102.9 L348.3,102.9 L349,103 L349.6,103 L350.3,103 L350.9,103 L351.6,103" fill="none" stroke="#2a2a2a" stroke-width="0.55"/>
<path d="M220.9,113.2 L221.6,112.9 L222.2,112.4 L222.9,111.8 L223.5,110.9 L224.2,110 L224.8,109.1 L225.5,107.9 L226.1,106.6 L226.8,104.9 L227.4,103 L228.1,101 L228.7,98.7 L229.4,95.7 L230,91.7 L230.7,87.3 L231.4,82.8 L232,78.9 L232.7,75.8 L233.3,73.5 L234,71.4 L234.6,69.7 L235.3,68.5 L235.9,67.7 L236.6,67.3 L237.2,67.6 L237.9,68.4 L238.5,69.5 L239.2,70.6 L239.9,71.8 L240.5,73.3 L241.2,75 L241.8,76.7 L242.5,78.4 L243.1,80 L243.8,81.5 L244.4,82.9 L245.1,84.4 L245.7,85.8 L246.4,87.1 L247,88.3 L247.7,89.4 L248.3,90.4 L249,91.4 L249.7,92.4 L250.3,93.3 L251,94.1 L251.6,94.9 L252.3,95.6 L252.9,96.2 L253.6,96.8 L254.2,97.4 L254.9,97.9 L255.5,98.4 L256.2,98.9 L256.8,99.3 L257.5,99.7 L258.1,100.1 L258.8,100.5 L259.5,100.8 L260.1,101.2 L260.8,101.5 L261.4,101.8 L262.1,102.1 L262.7,102.3 L263.4,102.5 L264,102.8 L264.7,103 L265.3,103.2 L266,103.3 L266.6,103.5 L267.3,103.7 L268,103.9 L268.6,104 L269.3,104.2 L269.9,104.4 L270.6,104.5 L271.2,104.7 L271.9,104.8 L272.5,105 L273.2,105.1 L273.8,105.2 L274.5,105.4 L275.1,105.5 L275.8,105.6 L276.4,105.7 L277.1,105.8 L277.8,105.9 L278.4,105.9 L279.1,106 L279.7,106 L280.4,106 L281,106.1 L281.7,106.1 L282.3,106.1 L283,106.1 L283.6,106.2 L284.3,106.2 L284.9,106.3 L285.6,106.4 L286.2,106.6 L286.9,106.7 L287.6,106.9 L288.2,107 L288.9,107.2 L289.5,107.4 L290.2,107.5 L290.8,107.7 L291.5,107.9 L292.1,108.1 L292.8,108.2 L293.4,108.4 L294.1,108.5 L294.7,108.7 L295.4,108.8 L296.1,109 L296.7,109.1 L297.4,109.2 L298,109.4 L298.7,109.5 L299.3,109.6 L300,109.7 L300.6,109.8 L301.3,109.9 L301.9,109.9 L302.6,110 L303.2,110.1 L303.9,110.2 L304.5,110.2 L305.2,110.3 L305.9,110.3 L306.5,110.4 L307.2,110.4 L307.8,110.4 L308.5,110.5 L309.1,110.5 L309.8,110.6 L310.4,110.6 L311.1,110.6 L311.7,110.6 L312.4,110.6 L313,110.6 L313.7,110.6 L314.4,110.6 L315,110.6 L315.7,110.6 L316.3,110.6 L317,110.6 L317.6,110.6 L318.3,110.6 L318.9,110.6 L319.6,110.6 L320.2,110.5 L320.9,110.4 L321.5,110.3 L322.2,110.1 L322.8,109.9 L323.5,109.7 L324.2,109.5 L324.8,109.3 L325.5,109.1 L326.1,108.8 L326.8,108.5 L327.4,108.1 L328.1,107.6 L328.7,107.2 L329.4,106.7 L330,106.3 L330.7,105.9 L331.3,105.6 L332,105.4 L332.6,105.3 L333.3,105.1 L334,105 L334.6,104.9 L335.3,104.8 L335.9,104.7 L336.6,104.6 L337.2,104.5 L337.9,104.4 L338.5,104.4 L339.2,104.3 L339.8,104.3 L340.5,104.3 L341.1,104.2 L341.8,104.2 L342.5,104.2 L343.1,104.2 L343.8,104.1 L344.4,104.1 L345.1,104.1 L345.7,104 L346.4,104 L347,104 L347.7,103.9 L348.3,103.9 L349,103.8 L349.6,103.8 L350.3,103.8 L350.9,103.7 L351.6,103.7" fill="none" stroke="#f01010" stroke-width="0.9"/>
<rect x="220.9" y="11.4" width="130.7" height="103.9" fill="none" stroke="#8a8a8a" stroke-width="0.8"/>
<path d="M220.9,115.3v1.6 M234,115.3v1.0 M247,115.3v1.6 M260.1,115.3v1.0 M273.2,115.3v1.6 M286.2,115.3v1.0 M299.3,115.3v1.6 M312.4,115.3v1.0 M325.5,115.3v1.6 M338.5,115.3v1.0 M351.6,115.3v1.6 M220.9,115.3h-1.6 M220.9,102.3h-1.0 M220.9,89.3h-1.6 M220.9,76.3h-1.0 M220.9,63.4h-1.6 M220.9,50.4h-1.0 M220.9,37.4h-1.6 M220.9,24.4h-1.0 M220.9,11.4h-1.6" stroke="#8a8a8a" stroke-width="0.6" fill="none"/>
<text x="220.9" y="123.1" text-anchor="middle" class="b" font-family="'Liberation Serif','Times New Roman',serif" font-weight="bold" font-size="5.4">0</text>
<text x="247" y="123.1" text-anchor="middle" class="b" font-family="'Liberation Serif','Times New Roman',serif" font-weight="bold" font-size="5.4">20</text>
<text x="273.2" y="123.1" text-anchor="middle" class="b" font-family="'Liberation Serif','Times New Roman',serif" font-weight="bold" font-size="5.4">40</text>
<text x="299.3" y="123.1" text-anchor="middle" class="b" font-family="'Liberation Serif','Times New Roman',serif" font-weight="bold" font-size="5.4">60</text>
<text x="325.5" y="123.1" text-anchor="middle" class="b" font-family="'Liberation Serif','Times New Roman',serif" font-weight="bold" font-size="5.4">80</text>
<text x="351.6" y="123.1" text-anchor="middle" class="b" font-family="'Liberation Serif','Times New Roman',serif" font-weight="bold" font-size="5.4">100</text>
<text x="218.3" y="117.1" text-anchor="end" class="b" font-family="'Liberation Serif','Times New Roman',serif" font-weight="bold" font-size="5.4">0</text>
<text x="218.3" y="91.1" text-anchor="end" class="b" font-family="'Liberation Serif','Times New Roman',serif" font-weight="bold" font-size="5.4">250</text>
<text x="218.3" y="65.2" text-anchor="end" class="b" font-family="'Liberation Serif','Times New Roman',serif" font-weight="bold" font-size="5.4">500</text>
<text x="218.3" y="39.2" text-anchor="end" class="b" font-family="'Liberation Serif','Times New Roman',serif" font-weight="bold" font-size="5.4">750</text>
<text x="218.3" y="13.2" text-anchor="end" class="b" font-family="'Liberation Serif','Times New Roman',serif" font-weight="bold" font-size="5.4">1000</text>
<text x="282.7" y="9.7" text-anchor="middle" class="b" font-family="'Liberation Serif','Times New Roman',serif" font-weight="bold" font-size="6.85">Rectus Femoris</text>
<text x="285.8" y="130.2" text-anchor="middle" class="b" font-family="'Liberation Serif','Times New Roman',serif" font-weight="bold" font-size="6.85">Stance phase (%)</text>
<text transform="translate(202.9,63.3) rotate(-90)" text-anchor="middle" class="b" font-family="'Liberation Serif','Times New Roman',serif" font-weight="bold" font-size="6.85">Muscle Force (N)</text>
<path d="M225.8,18.4h10.2" stroke="#555" stroke-width="0.6"/>
<path d="M225.8,24.5h10.2" stroke="#f06868" stroke-width="0.6"/>
<text x="238.4" y="20" class="b" font-family="'Liberation Serif','Times New Roman',serif" font-weight="bold" font-size="5.0">NS</text>
<text x="238.4" y="26.1" class="b" font-family="'Liberation Serif','Times New Roman',serif" font-weight="bold" font-size="5.0">BS</text>
<clipPath id="c3"><path d="M408.4,108.8 L409.1,106.6 L409.7,104.5 L410.4,102.3 L411,100.2 L411.7,98.1 L412.3,96.1 L413,94 L413.6,92 L414.3,90 L414.9,88 L415.6,86.1 L416.2,84.2 L416.9,82.3 L417.5,80.5 L418.2,78.6 L418.8,76.8 L419.5,74.9 L420.1,73 L420.8,71 L421.4,69 L422.1,67 L422.7,64.9 L423.4,62.8 L424,60.8 L424.7,58.6 L425.4,56.3 L426,53.9 L426.7,51.7 L427.3,49.6 L428,47.8 L428.6,46 L429.3,44.2 L429.9,42.5 L430.6,40.9 L431.2,39.6 L431.9,38.7 L432.5,38.4 L433.2,38.6 L433.8,39.1 L434.5,40 L435.1,41 L435.8,42.1 L436.4,43.3 L437.1,44.5 L437.7,45.9 L438.4,47.5 L439,49.3 L439.7,51.3 L440.3,53.4 L441,55.5 L441.7,57.5 L442.3,59.5 L443,61.3 L443.6,63.2 L444.3,65.1 L444.9,66.9 L445.6,68.7 L446.2,70.5 L446.9,72.2 L447.5,73.7 L448.2,75.2 L448.8,76.7 L449.5,78 L450.1,79.4 L450.8,80.7 L451.4,81.9 L452.1,83 L452.7,84.1 L453.4,85.2 L454,86.1 L454.7,87.1 L455.3,88 L456,88.8 L456.6,89.6 L457.3,90.5 L458,91.3 L458.6,92.1 L459.3,92.9 L459.9,93.6 L460.6,94.4 L461.2,95.1 L461.9,95.8 L462.5,96.5 L463.2,97.1 L463.8,97.7 L464.5,98.3 L465.1,98.8 L465.8,99.4 L466.4,99.9 L467.1,100.4 L467.7,100.8 L468.4,101.3 L469,101.7 L469.7,102.1 L470.3,102.5 L471,102.9 L471.6,103.3 L472.3,103.6 L472.9,103.9 L473.6,104.3 L474.3,104.6 L474.9,104.9 L475.6,105.2 L476.2,105.5 L476.9,105.7 L477.5,106 L478.2,106.2 L478.8,106.5 L479.5,106.7 L480.1,106.9 L480.8,107 L481.4,107.2 L482.1,107.3 L482.7,107.5 L483.4,107.6 L484,107.7 L484.7,107.9 L485.3,108 L486,108.1 L486.6,108.2 L487.3,108.2 L487.9,108.3 L488.6,108.4 L489.2,108.5 L489.9,108.6 L490.6,108.7 L491.2,108.7 L491.9,108.8 L492.5,108.8 L493.2,108.8 L493.8,108.8 L494.5,108.8 L495.1,108.8 L495.8,108.7 L496.4,108.7 L497.1,108.7 L497.7,108.6 L498.4,108.6 L499,108.6 L499.7,108.5 L500.3,108.5 L501,108.5 L501.6,108.4 L502.3,108.4 L502.9,108.4 L503.6,108.3 L504.2,108.3 L504.9,108.2 L505.5,108.2 L506.2,108.2 L506.9,108.1 L507.5,108 L508.2,108 L508.8,107.9 L509.5,107.9 L510.1,107.8 L510.8,107.7 L511.4,107.6 L512.1,107.6 L512.7,107.5 L513.4,107.4 L514,107.4 L514.7,107.3 L515.3,107.3 L516,107.2 L516.6,107.2 L517.3,107.1 L517.9,107 L518.6,107 L519.2,106.9 L519.9,106.7 L520.5,106.5 L521.2,106.3 L521.8,106.1 L522.5,105.8 L523.2,105.6 L523.8,105.3 L524.5,104.9 L525.1,104.5 L525.8,104.2 L526.4,104 L527.1,103.9 L527.7,103.9 L528.4,104 L529,104.1 L529.7,104.3 L530.3,104.4 L531,104.6 L531.6,104.8 L532.3,104.9 L532.9,105 L533.6,105.2 L534.2,105.3 L534.9,105.4 L535.5,105.6 L536.2,105.7 L536.8,105.8 L537.5,105.9 L538.1,106.1 L538.8,106.2 L538.8,107.5 L538.1,107.5 L537.5,107.5 L536.8,107.6 L536.2,107.6 L535.5,107.6 L534.9,107.6 L534.2,107.7 L533.6,107.7 L532.9,107.7 L532.3,107.8 L531.6,107.8 L531,107.8 L530.3,107.9 L529.7,107.9 L529,107.9 L528.4,108 L527.7,108 L527.1,108.1 L526.4,108.1 L525.8,108.2 L525.1,108.2 L524.5,108.3 L523.8,108.3 L523.2,108.4 L522.5,108.5 L521.8,108.5 L521.2,108.6 L520.5,108.7 L519.9,108.7 L519.2,108.8 L518.6,108.9 L517.9,109 L517.3,109 L516.6,109.1 L516,109.2 L515.3,109.3 L514.7,109.3 L514,109.4 L513.4,109.5 L512.7,109.6 L512.1,109.7 L511.4,109.7 L510.8,109.8 L510.1,109.9 L509.5,110 L508.8,110.1 L508.2,110.1 L507.5,110.2 L506.9,110.3 L506.2,110.4 L505.5,110.4 L504.9,110.5 L504.2,110.6 L503.6,110.7 L502.9,110.7 L502.3,110.8 L501.6,110.9 L501,110.9 L500.3,111 L499.7,111 L499,111.1 L498.4,111.1 L497.7,111.1 L497.1,111.2 L496.4,111.2 L495.8,111.2 L495.1,111.2 L494.5,111.3 L493.8,111.3 L493.2,111.3 L492.5,111.3 L491.9,111.3 L491.2,111.3 L490.6,111.3 L489.9,111.3 L489.2,111.3 L488.6,111.3 L487.9,111.3 L487.3,111.3 L486.6,111.3 L486,111.3 L485.3,111.3 L484.7,111.3 L484,111.2 L483.4,111.2 L482.7,111.2 L482.1,111.2 L481.4,111.2 L480.8,111.2 L480.1,111.1 L479.5,111.1 L478.8,111.1 L478.2,111.1 L477.5,111 L476.9,111 L476.2,111 L475.6,110.9 L474.9,110.9 L474.3,110.8 L473.6,110.8 L472.9,110.7 L472.3,110.6 L471.6,110.5 L471,110.5 L470.3,110.4 L469.7,110.3 L469,110.2 L468.4,110.1 L467.7,110 L467.1,109.8 L466.4,109.7 L465.8,109.6 L465.1,109.5 L464.5,109.4 L463.8,109.3 L463.2,109.2 L462.5,109 L461.9,108.9 L461.2,108.7 L460.6,108.5 L459.9,108.4 L459.3,108.1 L458.6,107.9 L458,107.6 L457.3,107.4 L456.6,107.1 L456,106.8 L455.3,106.5 L454.7,106.2 L454,105.8 L453.4,105.5 L452.7,105.1 L452.1,104.7 L451.4,104.3 L450.8,103.8 L450.1,103.4 L449.5,102.8 L448.8,102.2 L448.2,101.5 L447.5,100.8 L446.9,100.1 L446.2,99.3 L445.6,98.5 L444.9,97.8 L444.3,97 L443.6,96.2 L443,95.5 L442.3,94.7 L441.7,93.9 L441,93 L440.3,92.2 L439.7,91.3 L439,90.3 L438.4,89.1 L437.7,87.9 L437.1,86.6 L436.4,85.4 L435.8,84.4 L435.1,83.6 L434.5,83.1 L433.8,82.8 L433.2,82.5 L432.5,82.3 L431.9,82.1 L431.2,82.1 L430.6,82.1 L429.9,82.2 L429.3,82.3 L428.6,82.4 L428,82.6 L427.3,82.8 L426.7,83.2 L426,83.6 L425.4,84.1 L424.7,84.6 L424,85.2 L423.4,85.7 L422.7,86.3 L422.1,87 L421.4,87.7 L420.8,88.4 L420.1,89.3 L419.5,90.4 L418.8,91.8 L418.2,93.3 L417.5,94.9 L416.9,96.6 L416.2,98.2 L415.6,99.7 L414.9,101 L414.3,102.1 L413.6,103.3 L413,104.3 L412.3,105.3 L411.7,106.3 L411,107.3 L410.4,108.1 L409.7,108.9 L409.1,109.7 L408.4,110.4Z"/></clipPath>
<path d="M408.4,108.8 L409.1,106.6 L409.7,104.5 L410.4,102.3 L411,100.2 L411.7,98.1 L412.3,96.1 L413,94 L413.6,92 L414.3,90 L414.9,88 L415.6,86.1 L416.2,84.2 L416.9,82.3 L417.5,80.5 L418.2,78.6 L418.8,76.8 L419.5,74.9 L420.1,73 L420.8,71 L421.4,69 L422.1,67 L422.7,64.9 L423.4,62.8 L424,60.8 L424.7,58.6 L425.4,56.3 L426,53.9 L426.7,51.7 L427.3,49.6 L428,47.8 L428.6,46 L429.3,44.2 L429.9,42.5 L430.6,40.9 L431.2,39.6 L431.9,38.7 L432.5,38.4 L433.2,38.6 L433.8,39.1 L434.5,40 L435.1,41 L435.8,42.1 L436.4,43.3 L437.1,44.5 L437.7,45.9 L438.4,47.5 L439,49.3 L439.7,51.3 L440.3,53.4 L441,55.5 L441.7,57.5 L442.3,59.5 L443,61.3 L443.6,63.2 L444.3,65.1 L444.9,66.9 L445.6,68.7 L446.2,70.5 L446.9,72.2 L447.5,73.7 L448.2,75.2 L448.8,76.7 L449.5,78 L450.1,79.4 L450.8,80.7 L451.4,81.9 L452.1,83 L452.7,84.1 L453.4,85.2 L454,86.1 L454.7,87.1 L455.3,88 L456,88.8 L456.6,89.6 L457.3,90.5 L458,91.3 L458.6,92.1 L459.3,92.9 L459.9,93.6 L460.6,94.4 L461.2,95.1 L461.9,95.8 L462.5,96.5 L463.2,97.1 L463.8,97.7 L464.5,98.3 L465.1,98.8 L465.8,99.4 L466.4,99.9 L467.1,100.4 L467.7,100.8 L468.4,101.3 L469,101.7 L469.7,102.1 L470.3,102.5 L471,102.9 L471.6,103.3 L472.3,103.6 L472.9,103.9 L473.6,104.3 L474.3,104.6 L474.9,104.9 L475.6,105.2 L476.2,105.5 L476.9,105.7 L477.5,106 L478.2,106.2 L478.8,106.5 L479.5,106.7 L480.1,106.9 L480.8,107 L481.4,107.2 L482.1,107.3 L482.7,107.5 L483.4,107.6 L484,107.7 L484.7,107.9 L485.3,108 L486,108.1 L486.6,108.2 L487.3,108.2 L487.9,108.3 L488.6,108.4 L489.2,108.5 L489.9,108.6 L490.6,108.7 L491.2,108.7 L491.9,108.8 L492.5,108.8 L493.2,108.8 L493.8,108.8 L494.5,108.8 L495.1,108.8 L495.8,108.7 L496.4,108.7 L497.1,108.7 L497.7,108.6 L498.4,108.6 L499,108.6 L499.7,108.5 L500.3,108.5 L501,108.5 L501.6,108.4 L502.3,108.4 L502.9,108.4 L503.6,108.3 L504.2,108.3 L504.9,108.2 L505.5,108.2 L506.2,108.2 L506.9,108.1 L507.5,108 L508.2,108 L508.8,107.9 L509.5,107.9 L510.1,107.8 L510.8,107.7 L511.4,107.6 L512.1,107.6 L512.7,107.5 L513.4,107.4 L514,107.4 L514.7,107.3 L515.3,107.3 L516,107.2 L516.6,107.2 L517.3,107.1 L517.9,107 L518.6,107 L519.2,106.9 L519.9,106.7 L520.5,106.5 L521.2,106.3 L521.8,106.1 L522.5,105.8 L523.2,105.6 L523.8,105.3 L524.5,104.9 L525.1,104.5 L525.8,104.2 L526.4,104 L527.1,103.9 L527.7,103.9 L528.4,104 L529,104.1 L529.7,104.3 L530.3,104.4 L531,104.6 L531.6,104.8 L532.3,104.9 L532.9,105 L533.6,105.2 L534.2,105.3 L534.9,105.4 L535.5,105.6 L536.2,105.7 L536.8,105.8 L537.5,105.9 L538.1,106.1 L538.8,106.2 L538.8,107.5 L538.1,107.5 L537.5,107.5 L536.8,107.6 L536.2,107.6 L535.5,107.6 L534.9,107.6 L534.2,107.7 L533.6,107.7 L532.9,107.7 L532.3,107.8 L531.6,107.8 L531,107.8 L530.3,107.9 L529.7,107.9 L529,107.9 L528.4,108 L527.7,108 L527.1,108.1 L526.4,108.1 L525.8,108.2 L525.1,108.2 L524.5,108.3 L523.8,108.3 L523.2,108.4 L522.5,108.5 L521.8,108.5 L521.2,108.6 L520.5,108.7 L519.9,108.7 L519.2,108.8 L518.6,108.9 L517.9,109 L517.3,109 L516.6,109.1 L516,109.2 L515.3,109.3 L514.7,109.3 L514,109.4 L513.4,109.5 L512.7,109.6 L512.1,109.7 L511.4,109.7 L510.8,109.8 L510.1,109.9 L509.5,110 L508.8,110.1 L508.2,110.1 L507.5,110.2 L506.9,110.3 L506.2,110.4 L505.5,110.4 L504.9,110.5 L504.2,110.6 L503.6,110.7 L502.9,110.7 L502.3,110.8 L501.6,110.9 L501,110.9 L500.3,111 L499.7,111 L499,111.1 L498.4,111.1 L497.7,111.1 L497.1,111.2 L496.4,111.2 L495.8,111.2 L495.1,111.2 L494.5,111.3 L493.8,111.3 L493.2,111.3 L492.5,111.3 L491.9,111.3 L491.2,111.3 L490.6,111.3 L489.9,111.3 L489.2,111.3 L488.6,111.3 L487.9,111.3 L487.3,111.3 L486.6,111.3 L486,111.3 L485.3,111.3 L484.7,111.3 L484,111.2 L483.4,111.2 L482.7,111.2 L482.1,111.2 L481.4,111.2 L480.8,111.2 L480.1,111.1 L479.5,111.1 L478.8,111.1 L478.2,111.1 L477.5,111 L476.9,111 L476.2,111 L475.6,110.9 L474.9,110.9 L474.3,110.8 L473.6,110.8 L472.9,110.7 L472.3,110.6 L471.6,110.5 L471,110.5 L470.3,110.4 L469.7,110.3 L469,110.2 L468.4,110.1 L467.7,110 L467.1,109.8 L466.4,109.7 L465.8,109.6 L465.1,109.5 L464.5,109.4 L463.8,109.3 L463.2,109.2 L462.5,109 L461.9,108.9 L461.2,108.7 L460.6,108.5 L459.9,108.4 L459.3,108.1 L458.6,107.9 L458,107.6 L457.3,107.4 L456.6,107.1 L456,106.8 L455.3,106.5 L454.7,106.2 L454,105.8 L453.4,105.5 L452.7,105.1 L452.1,104.7 L451.4,104.3 L450.8,103.8 L450.1,103.4 L449.5,102.8 L448.8,102.2 L448.2,101.5 L447.5,100.8 L446.9,100.1 L446.2,99.3 L445.6,98.5 L444.9,97.8 L444.3,97 L443.6,96.2 L443,95.5 L442.3,94.7 L441.7,93.9 L441,93 L440.3,92.2 L439.7,91.3 L439,90.3 L438.4,89.1 L437.7,87.9 L437.1,86.6 L436.4,85.4 L435.8,84.4 L435.1,83.6 L434.5,83.1 L433.8,82.8 L433.2,82.5 L432.5,82.3 L431.9,82.1 L431.2,82.1 L430.6,82.1 L429.9,82.2 L429.3,82.3 L428.6,82.4 L428,82.6 L427.3,82.8 L426.7,83.2 L426,83.6 L425.4,84.1 L424.7,84.6 L424,85.2 L423.4,85.7 L422.7,86.3 L422.1,87 L421.4,87.7 L420.8,88.4 L420.1,89.3 L419.5,90.4 L418.8,91.8 L418.2,93.3 L417.5,94.9 L416.9,96.6 L416.2,98.2 L415.6,99.7 L414.9,101 L414.3,102.1 L413.6,103.3 L413,104.3 L412.3,105.3 L411.7,106.3 L411,107.3 L410.4,108.1 L409.7,108.9 L409.1,109.7 L408.4,110.4Z" fill="#bebebe"/>
<path d="M408.4,108.8 L409.1,106.8 L409.7,104.8 L410.4,102.8 L411,100.8 L411.7,98.9 L412.3,96.9 L413,95 L413.6,93.1 L414.3,91.2 L414.9,89.3 L415.6,87.5 L416.2,85.6 L416.9,83.8 L417.5,82.1 L418.2,80.3 L418.8,78.5 L419.5,76.6 L420.1,74.8 L420.8,72.9 L421.4,71 L422.1,69 L422.7,67.1 L423.4,65.1 L424,63.1 L424.7,61 L425.4,58.8 L426,56.6 L426.7,54.4 L427.3,52.3 L428,50.4 L428.6,48.4 L429.3,46.2 L429.9,44.2 L430.6,42.4 L431.2,41.2 L431.9,40.8 L432.5,40.9 L433.2,41.2 L433.8,41.6 L434.5,42.2 L435.1,42.9 L435.8,43.6 L436.4,44.5 L437.1,45.8 L437.7,47.4 L438.4,49.2 L439,51.1 L439.7,53 L440.3,55 L441,56.9 L441.7,58.7 L442.3,60.7 L443,62.8 L443.6,64.8 L444.3,66.8 L444.9,68.5 L445.6,70.2 L446.2,71.8 L446.9,73.4 L447.5,74.8 L448.2,76.3 L448.8,77.7 L449.5,79 L450.1,80.2 L450.8,81.4 L451.4,82.6 L452.1,83.7 L452.7,84.8 L453.4,85.9 L454,86.8 L454.7,87.8 L455.3,88.7 L456,89.5 L456.6,90.3 L457.3,91.1 L458,91.8 L458.6,92.5 L459.3,93.2 L459.9,93.9 L460.6,94.5 L461.2,95.1 L461.9,95.7 L462.5,96.3 L463.2,96.9 L463.8,97.5 L464.5,98 L465.1,98.5 L465.8,99 L466.4,99.5 L467.1,100 L467.7,100.4 L468.4,100.9 L469,101.3 L469.7,101.7 L470.3,102.1 L471,102.5 L471.6,102.9 L472.3,103.2 L472.9,103.6 L473.6,103.9 L474.3,104.2 L474.9,104.5 L475.6,104.8 L476.2,105 L476.9,105.3 L477.5,105.6 L478.2,105.8 L478.8,106 L479.5,106.3 L480.1,106.5 L480.8,106.7 L481.4,106.8 L482.1,107 L482.7,107.2 L483.4,107.4 L484,107.5 L484.7,107.7 L485.3,107.8 L486,107.9 L486.6,108 L487.3,108.1 L487.9,108.2 L488.6,108.3 L489.2,108.5 L489.9,108.5 L490.6,108.6 L491.2,108.7 L491.9,108.8 L492.5,108.8 L493.2,108.8 L493.8,108.8 L494.5,108.8 L495.1,108.8 L495.8,108.7 L496.4,108.7 L497.1,108.7 L497.7,108.6 L498.4,108.6 L499,108.6 L499.7,108.5 L500.3,108.5 L501,108.5 L501.6,108.4 L502.3,108.4 L502.9,108.4 L503.6,108.3 L504.2,108.3 L504.9,108.2 L505.5,108.2 L506.2,108.2 L506.9,108.1 L507.5,108 L508.2,108 L508.8,107.9 L509.5,107.8 L510.1,107.8 L510.8,107.7 L511.4,107.6 L512.1,107.6 L512.7,107.5 L513.4,107.5 L514,107.4 L514.7,107.3 L515.3,107.3 L516,107.2 L516.6,107.2 L517.3,107.1 L517.9,107.1 L518.6,107 L519.2,107 L519.9,106.9 L520.5,106.9 L521.2,106.8 L521.8,106.8 L522.5,106.7 L523.2,106.7 L523.8,106.6 L524.5,106.6 L525.1,106.5 L525.8,106.5 L526.4,106.4 L527.1,106.4 L527.7,106.4 L528.4,106.4 L529,106.3 L529.7,106.3 L530.3,106.3 L531,106.3 L531.6,106.2 L532.3,106.2 L532.9,106.2 L533.6,106.2 L534.2,106.1 L534.9,106.1 L535.5,106.1 L536.2,106.1 L536.8,106 L537.5,106 L538.1,106 L538.8,105.9 L538.8,107.5 L538.1,107.5 L537.5,107.5 L536.8,107.6 L536.2,107.6 L535.5,107.6 L534.9,107.6 L534.2,107.7 L533.6,107.7 L532.9,107.7 L532.3,107.8 L531.6,107.8 L531,107.8 L530.3,107.9 L529.7,107.9 L529,107.9 L528.4,108 L527.7,108 L527.1,108.1 L526.4,108.1 L525.8,108.2 L525.1,108.2 L524.5,108.3 L523.8,108.3 L523.2,108.4 L522.5,108.5 L521.8,108.5 L521.2,108.6 L520.5,108.7 L519.9,108.7 L519.2,108.8 L518.6,108.9 L517.9,109 L517.3,109 L516.6,109.1 L516,109.2 L515.3,109.3 L514.7,109.3 L514,109.4 L513.4,109.5 L512.7,109.6 L512.1,109.7 L511.4,109.7 L510.8,109.8 L510.1,109.9 L509.5,110 L508.8,110.1 L508.2,110.1 L507.5,110.2 L506.9,110.3 L506.2,110.4 L505.5,110.4 L504.9,110.5 L504.2,110.6 L503.6,110.6 L502.9,110.7 L502.3,110.8 L501.6,110.8 L501,110.9 L500.3,111 L499.7,111 L499,111.1 L498.4,111.1 L497.7,111.2 L497.1,111.2 L496.4,111.2 L495.8,111.3 L495.1,111.3 L494.5,111.3 L493.8,111.4 L493.2,111.4 L492.5,111.4 L491.9,111.5 L491.2,111.5 L490.6,111.5 L489.9,111.6 L489.2,111.6 L488.6,111.6 L487.9,111.6 L487.3,111.6 L486.6,111.7 L486,111.7 L485.3,111.7 L484.7,111.7 L484,111.7 L483.4,111.8 L482.7,111.8 L482.1,111.8 L481.4,111.8 L480.8,111.8 L480.1,111.8 L479.5,111.8 L478.8,111.8 L478.2,111.8 L477.5,111.8 L476.9,111.8 L476.2,111.8 L475.6,111.8 L474.9,111.8 L474.3,111.8 L473.6,111.8 L472.9,111.8 L472.3,111.8 L471.6,111.7 L471,111.7 L470.3,111.6 L469.7,111.5 L469,111.4 L468.4,111.3 L467.7,111.2 L467.1,111.1 L466.4,111 L465.8,110.9 L465.1,110.8 L464.5,110.6 L463.8,110.4 L463.2,110.2 L462.5,110 L461.9,109.8 L461.2,109.6 L460.6,109.3 L459.9,109.1 L459.3,108.8 L458.6,108.4 L458,108 L457.3,107.7 L456.6,107.3 L456,106.9 L455.3,106.5 L454.7,106.1 L454,105.7 L453.4,105.3 L452.7,104.9 L452.1,104.4 L451.4,104 L450.8,103.5 L450.1,103 L449.5,102.4 L448.8,101.7 L448.2,101.1 L447.5,100.3 L446.9,99.6 L446.2,98.8 L445.6,97.9 L444.9,97.1 L444.3,96.3 L443.6,95.4 L443,94.4 L442.3,93.4 L441.7,92.4 L441,91.4 L440.3,90.4 L439.7,89.3 L439,88.2 L438.4,86.8 L437.7,85.4 L437.1,84 L436.4,82.7 L435.8,81.6 L435.1,80.7 L434.5,80.2 L433.8,80 L433.2,79.8 L432.5,79.6 L431.9,79.5 L431.2,79.5 L430.6,79.8 L429.9,80.6 L429.3,81.7 L428.6,83 L428,84.1 L427.3,85.2 L426.7,86.4 L426,87.7 L425.4,88.9 L424.7,90.1 L424,91.3 L423.4,92.4 L422.7,93.4 L422.1,94.4 L421.4,95.4 L420.8,96.4 L420.1,97.2 L419.5,98.1 L418.8,98.8 L418.2,99.5 L417.5,100.2 L416.9,100.9 L416.2,101.6 L415.6,102.3 L414.9,103 L414.3,103.7 L413.6,104.4 L413,105.2 L412.3,105.9 L411.7,106.6 L411,107.4 L410.4,108.1 L409.7,108.9 L409.1,109.6 L408.4,110.4Z" fill="rgb(247,152,152)"/>
<path d="M408.4,108.8 L409.1,106.8 L409.7,104.8 L410.4,102.8 L411,100.8 L411.7,98.9 L412.3,96.9 L413,95 L413.6,93.1 L414.3,91.2 L414.9,89.3 L415.6,87.5 L416.2,85.6 L416.9,83.8 L417.5,82.1 L418.2,80.3 L418.8,78.5 L419.5,76.6 L420.1,74.8 L420.8,72.9 L421.4,71 L422.1,69 L422.7,67.1 L423.4,65.1 L424,63.1 L424.7,61 L425.4,58.8 L426,56.6 L426.7,54.4 L427.3,52.3 L428,50.4 L428.6,48.4 L429.3,46.2 L429.9,44.2 L430.6,42.4 L431.2,41.2 L431.9,40.8 L432.5,40.9 L433.2,41.2 L433.8,41.6 L434.5,42.2 L435.1,42.9 L435.8,43.6 L436.4,44.5 L437.1,45.8 L437.7,47.4 L438.4,49.2 L439,51.1 L439.7,53 L440.3,55 L441,56.9 L441.7,58.7 L442.3,60.7 L443,62.8 L443.6,64.8 L444.3,66.8 L444.9,68.5 L445.6,70.2 L446.2,71.8 L446.9,73.4 L447.5,74.8 L448.2,76.3 L448.8,77.7 L449.5,79 L450.1,80.2 L450.8,81.4 L451.4,82.6 L452.1,83.7 L452.7,84.8 L453.4,85.9 L454,86.8 L454.7,87.8 L455.3,88.7 L456,89.5 L456.6,90.3 L457.3,91.1 L458,91.8 L458.6,92.5 L459.3,93.2 L459.9,93.9 L460.6,94.5 L461.2,95.1 L461.9,95.7 L462.5,96.3 L463.2,96.9 L463.8,97.5 L464.5,98 L465.1,98.5 L465.8,99 L466.4,99.5 L467.1,100 L467.7,100.4 L468.4,100.9 L469,101.3 L469.7,101.7 L470.3,102.1 L471,102.5 L471.6,102.9 L472.3,103.2 L472.9,103.6 L473.6,103.9 L474.3,104.2 L474.9,104.5 L475.6,104.8 L476.2,105 L476.9,105.3 L477.5,105.6 L478.2,105.8 L478.8,106 L479.5,106.3 L480.1,106.5 L480.8,106.7 L481.4,106.8 L482.1,107 L482.7,107.2 L483.4,107.4 L484,107.5 L484.7,107.7 L485.3,107.8 L486,107.9 L486.6,108 L487.3,108.1 L487.9,108.2 L488.6,108.3 L489.2,108.5 L489.9,108.5 L490.6,108.6 L491.2,108.7 L491.9,108.8 L492.5,108.8 L493.2,108.8 L493.8,108.8 L494.5,108.8 L495.1,108.8 L495.8,108.7 L496.4,108.7 L497.1,108.7 L497.7,108.6 L498.4,108.6 L499,108.6 L499.7,108.5 L500.3,108.5 L501,108.5 L501.6,108.4 L502.3,108.4 L502.9,108.4 L503.6,108.3 L504.2,108.3 L504.9,108.2 L505.5,108.2 L506.2,108.2 L506.9,108.1 L507.5,108 L508.2,108 L508.8,107.9 L509.5,107.8 L510.1,107.8 L510.8,107.7 L511.4,107.6 L512.1,107.6 L512.7,107.5 L513.4,107.5 L514,107.4 L514.7,107.3 L515.3,107.3 L516,107.2 L516.6,107.2 L517.3,107.1 L517.9,107.1 L518.6,107 L519.2,107 L519.9,106.9 L520.5,106.9 L521.2,106.8 L521.8,106.8 L522.5,106.7 L523.2,106.7 L523.8,106.6 L524.5,106.6 L525.1,106.5 L525.8,106.5 L526.4,106.4 L527.1,106.4 L527.7,106.4 L528.4,106.4 L529,106.3 L529.7,106.3 L530.3,106.3 L531,106.3 L531.6,106.2 L532.3,106.2 L532.9,106.2 L533.6,106.2 L534.2,106.1 L534.9,106.1 L535.5,106.1 L536.2,106.1 L536.8,106 L537.5,106 L538.1,106 L538.8,105.9 L538.8,107.5 L538.1,107.5 L537.5,107.5 L536.8,107.6 L536.2,107.6 L535.5,107.6 L534.9,107.6 L534.2,107.7 L533.6,107.7 L532.9,107.7 L532.3,107.8 L531.6,107.8 L531,107.8 L530.3,107.9 L529.7,107.9 L529,107.9 L528.4,108 L527.7,108 L527.1,108.1 L526.4,108.1 L525.8,108.2 L525.1,108.2 L524.5,108.3 L523.8,108.3 L523.2,108.4 L522.5,108.5 L521.8,108.5 L521.2,108.6 L520.5,108.7 L519.9,108.7 L519.2,108.8 L518.6,108.9 L517.9,109 L517.3,109 L516.6,109.1 L516,109.2 L515.3,109.3 L514.7,109.3 L514,109.4 L513.4,109.5 L512.7,109.6 L512.1,109.7 L511.4,109.7 L510.8,109.8 L510.1,109.9 L509.5,110 L508.8,110.1 L508.2,110.1 L507.5,110.2 L506.9,110.3 L506.2,110.4 L505.5,110.4 L504.9,110.5 L504.2,110.6 L503.6,110.6 L502.9,110.7 L502.3,110.8 L501.6,110.8 L501,110.9 L500.3,111 L499.7,111 L499,111.1 L498.4,111.1 L497.7,111.2 L497.1,111.2 L496.4,111.2 L495.8,111.3 L495.1,111.3 L494.5,111.3 L493.8,111.4 L493.2,111.4 L492.5,111.4 L491.9,111.5 L491.2,111.5 L490.6,111.5 L489.9,111.6 L489.2,111.6 L488.6,111.6 L487.9,111.6 L487.3,111.6 L486.6,111.7 L486,111.7 L485.3,111.7 L484.7,111.7 L484,111.7 L483.4,111.8 L482.7,111.8 L482.1,111.8 L481.4,111.8 L480.8,111.8 L480.1,111.8 L479.5,111.8 L478.8,111.8 L478.2,111.8 L477.5,111.8 L476.9,111.8 L476.2,111.8 L475.6,111.8 L474.9,111.8 L474.3,111.8 L473.6,111.8 L472.9,111.8 L472.3,111.8 L471.6,111.7 L471,111.7 L470.3,111.6 L469.7,111.5 L469,111.4 L468.4,111.3 L467.7,111.2 L467.1,111.1 L466.4,111 L465.8,110.9 L465.1,110.8 L464.5,110.6 L463.8,110.4 L463.2,110.2 L462.5,110 L461.9,109.8 L461.2,109.6 L460.6,109.3 L459.9,109.1 L459.3,108.8 L458.6,108.4 L458,108 L457.3,107.7 L456.6,107.3 L456,106.9 L455.3,106.5 L454.7,106.1 L454,105.7 L453.4,105.3 L452.7,104.9 L452.1,104.4 L451.4,104 L450.8,103.5 L450.1,103 L449.5,102.4 L448.8,101.7 L448.2,101.1 L447.5,100.3 L446.9,99.6 L446.2,98.8 L445.6,97.9 L444.9,97.1 L444.3,96.3 L443.6,95.4 L443,94.4 L442.3,93.4 L441.7,92.4 L441,91.4 L440.3,90.4 L439.7,89.3 L439,88.2 L438.4,86.8 L437.7,85.4 L437.1,84 L436.4,82.7 L435.8,81.6 L435.1,80.7 L434.5,80.2 L433.8,80 L433.2,79.8 L432.5,79.6 L431.9,79.5 L431.2,79.5 L430.6,79.8 L429.9,80.6 L429.3,81.7 L428.6,83 L428,84.1 L427.3,85.2 L426.7,86.4 L426,87.7 L425.4,88.9 L424.7,90.1 L424,91.3 L423.4,92.4 L422.7,93.4 L422.1,94.4 L421.4,95.4 L420.8,96.4 L420.1,97.2 L419.5,98.1 L418.8,98.8 L418.2,99.5 L417.5,100.2 L416.9,100.9 L416.2,101.6 L415.6,102.3 L414.9,103 L414.3,103.7 L413.6,104.4 L413,105.2 L412.3,105.9 L411.7,106.6 L411,107.4 L410.4,108.1 L409.7,108.9 L409.1,109.6 L408.4,110.4Z" fill="rgb(235,102,102)" clip-path="url(#c3)"/>
<path d="M408.4,109.6 L409.1,108.4 L409.7,107.1 L410.4,105.8 L411,104.5 L411.7,103.1 L412.3,101.7 L413,100.3 L413.6,98.8 L414.3,97.3 L414.9,95.8 L415.6,94.2 L416.2,92.5 L416.9,90.8 L417.5,89 L418.2,87.2 L418.8,85.5 L419.5,83.8 L420.1,82.2 L420.8,80.7 L421.4,79.2 L422.1,77.8 L422.7,76.4 L423.4,75.1 L424,73.7 L424.7,72.4 L425.4,71 L426,69.6 L426.7,68.3 L427.3,67 L428,65.9 L428.6,64.9 L429.3,63.8 L429.9,62.7 L430.6,61.8 L431.2,61.2 L431.9,61 L432.5,61.1 L433.2,61.4 L433.8,61.7 L434.5,62.2 L435.1,62.8 L435.8,63.3 L436.4,64.1 L437.1,65.2 L437.7,66.5 L438.4,67.9 L439,69.5 L439.7,71.1 L440.3,72.8 L441,74.4 L441.7,76 L442.3,77.8 L443,79.7 L443.6,81.5 L444.3,83.2 L444.9,84.8 L445.6,86.2 L446.2,87.6 L446.9,88.9 L447.5,90.2 L448.2,91.4 L448.8,92.5 L449.5,93.6 L450.1,94.5 L450.8,95.4 L451.4,96.3 L452.1,97.1 L452.7,97.8 L453.4,98.5 L454,99.2 L454.7,99.8 L455.3,100.4 L456,100.9 L456.6,101.4 L457.3,101.9 L458,102.3 L458.6,102.7 L459.3,103.1 L459.9,103.5 L460.6,103.9 L461.2,104.2 L461.9,104.6 L462.5,104.9 L463.2,105.2 L463.8,105.5 L464.5,105.8 L465.1,106.1 L465.8,106.4 L466.4,106.6 L467.1,106.9 L467.7,107.1 L468.4,107.3 L469,107.5 L469.7,107.6 L470.3,107.8 L471,108 L471.6,108.1 L472.3,108.3 L472.9,108.4 L473.6,108.5 L474.3,108.7 L474.9,108.8 L475.6,108.9 L476.2,109 L476.9,109.1 L477.5,109.2 L478.2,109.3 L478.8,109.3 L479.5,109.4 L480.1,109.5 L480.8,109.5 L481.4,109.6 L482.1,109.6 L482.7,109.6 L483.4,109.7 L484,109.7 L484.7,109.7 L485.3,109.8 L486,109.8 L486.6,109.8 L487.3,109.9 L487.9,109.9 L488.6,109.9 L489.2,110 L489.9,110 L490.6,110 L491.2,110.1 L491.9,110.1 L492.5,110.1 L493.2,110.1 L493.8,110.1 L494.5,110.1 L495.1,110.1 L495.8,110 L496.4,110 L497.1,110 L497.7,110 L498.4,109.9 L499,109.9 L499.7,109.8 L500.3,109.8 L501,109.8 L501.6,109.7 L502.3,109.6 L502.9,109.6 L503.6,109.5 L504.2,109.4 L504.9,109.3 L505.5,109.3 L506.2,109.2 L506.9,109.1 L507.5,109.1 L508.2,109 L508.8,108.9 L509.5,108.9 L510.1,108.8 L510.8,108.7 L511.4,108.7 L512.1,108.6 L512.7,108.5 L513.4,108.5 L514,108.4 L514.7,108.4 L515.3,108.3 L516,108.2 L516.6,108.2 L517.3,108.1 L517.9,108 L518.6,108 L519.2,107.9 L519.9,107.8 L520.5,107.8 L521.2,107.7 L521.8,107.6 L522.5,107.6 L523.2,107.5 L523.8,107.4 L524.5,107.4 L525.1,107.3 L525.8,107.2 L526.4,107.2 L527.1,107.1 L527.7,107.1 L528.4,107 L529,107 L529.7,106.9 L530.3,106.9 L531,106.9 L531.6,106.9 L532.3,106.9 L532.9,106.9 L533.6,106.9 L534.2,106.9 L534.9,106.9 L535.5,106.9 L536.2,106.9 L536.8,106.9 L537.5,106.9 L538.1,106.9 L538.8,106.9" fill="none" stroke="#2a2a2a" stroke-width="0.55"/>
<path d="M408.4,109.6 L409.1,108.6 L409.7,107.5 L410.4,106.4 L411,105.3 L411.7,104 L412.3,102.7 L413,101.4 L413.6,100 L414.3,98.6 L414.9,97.1 L415.6,95.5 L416.2,93.8 L416.9,92 L417.5,90.1 L418.2,88.1 L418.8,86.3 L419.5,84.5 L420.1,82.8 L420.8,81.3 L421.4,79.9 L422.1,78.4 L422.7,77.1 L423.4,75.7 L424,74.4 L424.7,73 L425.4,71.7 L426,70.3 L426.7,69 L427.3,67.8 L428,66.6 L428.6,65.4 L429.3,64 L429.9,62.7 L430.6,61.6 L431.2,60.8 L431.9,60.5 L432.5,60.6 L433.2,60.8 L433.8,61.2 L434.5,61.6 L435.1,62.1 L435.8,62.7 L436.4,63.4 L437.1,64.4 L437.7,65.7 L438.4,67.1 L439,68.7 L439.7,70.3 L440.3,71.9 L441,73.5 L441.7,75.1 L442.3,76.9 L443,78.7 L443.6,80.6 L444.3,82.3 L444.9,83.9 L445.6,85.3 L446.2,86.7 L446.9,88.1 L447.5,89.4 L448.2,90.7 L448.8,91.8 L449.5,92.9 L450.1,93.9 L450.8,94.8 L451.4,95.6 L452.1,96.4 L452.7,97.2 L453.4,97.9 L454,98.5 L454.7,99.1 L455.3,99.7 L456,100.3 L456.6,100.8 L457.3,101.3 L458,101.7 L458.6,102.2 L459.3,102.6 L459.9,103 L460.6,103.4 L461.2,103.7 L461.9,104 L462.5,104.3 L463.2,104.6 L463.8,104.9 L464.5,105.2 L465.1,105.5 L465.8,105.7 L466.4,106 L467.1,106.2 L467.7,106.4 L468.4,106.7 L469,106.9 L469.7,107.1 L470.3,107.3 L471,107.5 L471.6,107.7 L472.3,107.8 L472.9,108 L473.6,108.2 L474.3,108.3 L474.9,108.4 L475.6,108.6 L476.2,108.7 L476.9,108.8 L477.5,109 L478.2,109.1 L478.8,109.2 L479.5,109.2 L480.1,109.3 L480.8,109.4 L481.4,109.5 L482.1,109.5 L482.7,109.6 L483.4,109.6 L484,109.7 L484.7,109.7 L485.3,109.8 L486,109.8 L486.6,109.8 L487.3,109.9 L487.9,109.9 L488.6,110 L489.2,110 L489.9,110 L490.6,110 L491.2,110.1 L491.9,110.1 L492.5,110.1 L493.2,110.1 L493.8,110.1 L494.5,110.1 L495.1,110.1 L495.8,110 L496.4,110 L497.1,110 L497.7,110 L498.4,109.9 L499,109.9 L499.7,109.8 L500.3,109.8 L501,109.8 L501.6,109.7 L502.3,109.6 L502.9,109.6 L503.6,109.5 L504.2,109.4 L504.9,109.3 L505.5,109.3 L506.2,109.2 L506.9,109.1 L507.5,109.1 L508.2,109 L508.8,108.9 L509.5,108.9 L510.1,108.8 L510.8,108.7 L511.4,108.7 L512.1,108.6 L512.7,108.5 L513.4,108.5 L514,108.4 L514.7,108.4 L515.3,108.3 L516,108.2 L516.6,108.2 L517.3,108.1 L517.9,108 L518.6,108 L519.2,107.9 L519.9,107.8 L520.5,107.8 L521.2,107.7 L521.8,107.6 L522.5,107.6 L523.2,107.5 L523.8,107.4 L524.5,107.4 L525.1,107.3 L525.8,107.2 L526.4,107.2 L527.1,107.2 L527.7,107.1 L528.4,107.1 L529,107 L529.7,107 L530.3,106.9 L531,106.9 L531.6,106.9 L532.3,106.9 L532.9,106.8 L533.6,106.8 L534.2,106.8 L534.9,106.8 L535.5,106.8 L536.2,106.8 L536.8,106.7 L537.5,106.7 L538.1,106.7 L538.8,106.7" fill="none" stroke="#f01010" stroke-width="0.9"/>
<rect x="408.4" y="11.4" width="130.4" height="103.9" fill="none" stroke="#8a8a8a" stroke-width="0.8"/>
<path d="M408.4,115.3v1.6 M421.4,115.3v1.0 M434.5,115.3v1.6 M447.5,115.3v1.0 M460.6,115.3v1.6 M473.6,115.3v1.0 M486.6,115.3v1.6 M499.7,115.3v1.0 M512.7,115.3v1.6 M525.8,115.3v1.0 M538.8,115.3v1.6 M408.4,115.3h-1.6 M408.4,102.3h-1.0 M408.4,89.3h-1.6 M408.4,76.3h-1.0 M408.4,63.3h-1.6 M408.4,50.4h-1.0 M408.4,37.4h-1.6 M408.4,24.4h-1.0 M408.4,11.4h-1.6" stroke="#8a8a8a" stroke-width="0.6" fill="none"/>
<text x="408.4" y="123.1" text-anchor="middle" class="b" font-family="'Liberation Serif','Times New Roman',serif" font-weight="bold" font-size="5.4">0</text>
<text x="434.5" y="123.1" text-anchor="middle" class="b" font-family="'Liberation Serif','Times New Roman',serif" font-weight="bold" font-size="5.4">20</text>
<text x="460.6" y="123.1" text-anchor="middle" class="b" font-family="'Liberation Serif','Times New Roman',serif" font-weight="bold" font-size="5.4">40</text>
<text x="486.6" y="123.1" text-anchor="middle" class="b" font-family="'Liberation Serif','Times New Roman',serif" font-weight="bold" font-size="5.4">60</text>
<text x="512.7" y="123.1" text-anchor="middle" class="b" font-family="'Liberation Serif','Times New Roman',serif" font-weight="bold" font-size="5.4">80</text>
<text x="538.8" y="123.1" text-anchor="middle" class="b" font-family="'Liberation Serif','Times New Roman',serif" font-weight="bold" font-size="5.4">100</text>
<text x="405.8" y="117.1" text-anchor="end" class="b" font-family="'Liberation Serif','Times New Roman',serif" font-weight="bold" font-size="5.4">0</text>
<text x="405.8" y="91.1" text-anchor="end" class="b" font-family="'Liberation Serif','Times New Roman',serif" font-weight="bold" font-size="5.4">200</text>
<text x="405.8" y="65.1" text-anchor="end" class="b" font-family="'Liberation Serif','Times New Roman',serif" font-weight="bold" font-size="5.4">400</text>
<text x="405.8" y="39.2" text-anchor="end" class="b" font-family="'Liberation Serif','Times New Roman',serif" font-weight="bold" font-size="5.4">600</text>
<text x="405.8" y="13.2" text-anchor="end" class="b" font-family="'Liberation Serif','Times New Roman',serif" font-weight="bold" font-size="5.4">800</text>
<text x="470.3" y="9.7" text-anchor="middle" class="b" font-family="'Liberation Serif','Times New Roman',serif" font-weight="bold" font-size="6.85">Vastus Lateralis</text>
<text x="473.1" y="130.2" text-anchor="middle" class="b" font-family="'Liberation Serif','Times New Roman',serif" font-weight="bold" font-size="6.85">Stance phase (%)</text>
<text transform="translate(393.8,63.3) rotate(-90)" text-anchor="middle" class="b" font-family="'Liberation Serif','Times New Roman',serif" font-weight="bold" font-size="6.85">Muscle Force (N)</text>
<path d="M412.7,18.4h10.2" stroke="#555" stroke-width="0.6"/>
<path d="M412.7,24.5h10.2" stroke="#f06868" stroke-width="0.6"/>
<text x="425.3" y="20" class="b" font-family="'Liberation Serif','Times New Roman',serif" font-weight="bold" font-size="5.0">NS</text>
<text x="425.3" y="26.1" class="b" font-family="'Liberation Serif','Times New Roman',serif" font-weight="bold" font-size="5.0">BS</text>
<clipPath id="c4"><path d="M30.2,291 L30.8,285.7 L31.5,280.8 L32.1,276.5 L32.8,273.4 L33.4,270.9 L34.1,268.7 L34.7,266.6 L35.4,264.8 L36,263.3 L36.7,262.2 L37.3,261.4 L38,261 L38.6,260.7 L39.3,260.3 L39.9,260 L40.6,259.8 L41.2,259.6 L41.9,259.4 L42.5,259.2 L43.2,259 L43.8,258.9 L44.5,258.9 L45.1,258.8 L45.8,259 L46.4,259.7 L47,261.1 L47.7,262.9 L48.3,265 L49,267.4 L49.6,270 L50.3,272.6 L50.9,275.2 L51.6,277.6 L52.2,279.7 L52.9,281.5 L53.5,283.1 L54.2,284.8 L54.8,286.5 L55.5,288.1 L56.1,289.6 L56.8,290.9 L57.4,292 L58.1,292.6 L58.7,292.9 L59.4,292.9 L60,292.9 L60.7,292.9 L61.3,292.9 L62,292.9 L62.6,292.9 L63.2,292.9 L63.9,292.8 L64.5,292.8 L65.2,292.8 L65.8,292.8 L66.5,292.8 L67.1,292.8 L67.8,292.7 L68.4,292.6 L69.1,292.5 L69.7,292.4 L70.4,292.3 L71,292.1 L71.7,292 L72.3,291.8 L73,291.7 L73.6,291.5 L74.3,291.4 L74.9,291.3 L75.6,291.1 L76.2,291.1 L76.9,291 L77.5,290.9 L78.2,290.9 L78.8,290.9 L79.4,291 L80.1,291 L80.7,291.1 L81.4,291.2 L82,291.3 L82.7,291.4 L83.3,291.6 L84,291.7 L84.6,291.8 L85.3,291.9 L85.9,292.1 L86.6,292.2 L87.2,292.3 L87.9,292.4 L88.5,292.5 L89.2,292.6 L89.8,292.7 L90.5,292.8 L91.1,293 L91.8,293.1 L92.4,293.3 L93.1,293.6 L93.7,294 L94.4,294.8 L95,295.9 L95.6,297 L96.3,298.1 L96.9,298.8 L97.6,299.1 L98.2,298.9 L98.9,298.5 L99.5,297.7 L100.2,296.8 L100.8,295.7 L101.5,294.5 L102.1,293.3 L102.8,292.1 L103.4,291.1 L104.1,290.1 L104.7,289.4 L105.4,288.9 L106,288.6 L106.7,288.3 L107.3,288.1 L108,287.8 L108.6,287.6 L109.3,287.4 L109.9,287.3 L110.6,287.2 L111.2,287.2 L111.8,287.2 L112.5,287.2 L113.1,287.2 L113.8,287.2 L114.4,287.2 L115.1,287.3 L115.7,287.3 L116.4,287.3 L117,287.3 L117.7,287.2 L118.3,287 L119,286.7 L119.6,286.3 L120.3,285.9 L120.9,285.6 L121.6,285.4 L122.2,285.3 L122.9,285.3 L123.5,285.3 L124.2,285.4 L124.8,285.4 L125.5,285.5 L126.1,285.6 L126.8,285.7 L127.4,285.8 L128,285.9 L128.7,286.1 L129.3,286.2 L130,286.4 L130.6,286.7 L131.3,287.2 L131.9,288 L132.6,288.9 L133.2,289.9 L133.9,291 L134.5,292.1 L135.2,293.2 L135.8,294.1 L136.5,295 L137.1,295.7 L137.8,296.4 L138.4,297.2 L139.1,297.9 L139.7,298.6 L140.4,299.3 L141,300 L141.7,300.6 L142.3,301.2 L143,301.7 L143.6,302.2 L144.2,302.6 L144.9,303.1 L145.5,303.5 L146.2,303.9 L146.8,304.2 L147.5,304.4 L148.1,304.5 L148.8,304.5 L149.4,304.4 L150.1,304.4 L150.7,304.2 L151.4,304.1 L152,303.9 L152.7,303.7 L153.3,303.5 L154,303.2 L154.6,302.9 L155.3,302.6 L155.9,302.2 L156.6,301.4 L157.2,300.4 L157.9,299.2 L158.5,297.8 L159.2,296.4 L159.8,295 L159.8,311.2 L159.2,311.9 L158.5,312.6 L157.9,313.3 L157.2,313.9 L156.6,314.5 L155.9,315 L155.3,315.5 L154.6,315.8 L154,316 L153.3,316 L152.7,316 L152,316 L151.4,315.9 L150.7,315.9 L150.1,315.8 L149.4,315.7 L148.8,315.6 L148.1,315.5 L147.5,315.4 L146.8,315.3 L146.2,315.2 L145.5,315.1 L144.9,315 L144.2,315 L143.6,314.9 L143,314.8 L142.3,314.8 L141.7,314.7 L141,314.7 L140.4,314.6 L139.7,314.5 L139.1,314.5 L138.4,314.4 L137.8,314.3 L137.1,314.2 L136.5,314.1 L135.8,313.9 L135.2,313.5 L134.5,313.1 L133.9,312.6 L133.2,312.1 L132.6,311.5 L131.9,310.9 L131.3,310.4 L130.6,310 L130,309.6 L129.3,309.4 L128.7,309.3 L128,309.3 L127.4,309.4 L126.8,309.5 L126.1,309.7 L125.5,309.8 L124.8,310 L124.2,310.3 L123.5,310.5 L122.9,310.7 L122.2,311 L121.6,311.2 L120.9,311.4 L120.3,311.6 L119.6,311.8 L119,312 L118.3,312.1 L117.7,312.2 L117,312.2 L116.4,312.1 L115.7,311.7 L115.1,311.2 L114.4,310.7 L113.8,310 L113.1,309.4 L112.5,308.9 L111.8,308.5 L111.2,308.4 L110.6,308.4 L109.9,308.6 L109.3,308.8 L108.6,309.2 L108,309.6 L107.3,309.9 L106.7,310.3 L106,310.6 L105.4,310.7 L104.7,310.9 L104.1,311 L103.4,311.1 L102.8,311.3 L102.1,311.4 L101.5,311.5 L100.8,311.6 L100.2,311.6 L99.5,311.7 L98.9,311.7 L98.2,311.8 L97.6,311.8 L96.9,311.7 L96.3,311.5 L95.6,311.1 L95,310.8 L94.4,310.5 L93.7,310.3 L93.1,310.2 L92.4,310.2 L91.8,310.3 L91.1,310.3 L90.5,310.4 L89.8,310.5 L89.2,310.6 L88.5,310.7 L87.9,310.8 L87.2,310.9 L86.6,311 L85.9,311.2 L85.3,311.3 L84.6,311.5 L84,311.8 L83.3,312.1 L82.7,312.4 L82,312.7 L81.4,313.1 L80.7,313.3 L80.1,313.6 L79.4,313.8 L78.8,313.9 L78.2,314 L77.5,314 L76.9,313.9 L76.2,313.9 L75.6,313.8 L74.9,313.8 L74.3,313.7 L73.6,313.6 L73,313.5 L72.3,313.4 L71.7,313.3 L71,313.1 L70.4,313 L69.7,312.9 L69.1,312.7 L68.4,312.6 L67.8,312.4 L67.1,312.3 L66.5,312.1 L65.8,311.9 L65.2,311.7 L64.5,311.5 L63.9,311.2 L63.2,311 L62.6,310.6 L62,310.3 L61.3,310 L60.7,309.6 L60,309.2 L59.4,308.7 L58.7,308.3 L58.1,307.7 L57.4,307 L56.8,306.2 L56.1,305.3 L55.5,304.3 L54.8,303.4 L54.2,302.4 L53.5,301.5 L52.9,300.6 L52.2,299.7 L51.6,298.8 L50.9,297.8 L50.3,296.8 L49.6,295.9 L49,294.9 L48.3,294 L47.7,293.2 L47,292.4 L46.4,291.8 L45.8,291.3 L45.1,290.9 L44.5,290.5 L43.8,290.2 L43.2,289.8 L42.5,289.5 L41.9,289.2 L41.2,289 L40.6,288.7 L39.9,288.5 L39.3,288.4 L38.6,288.3 L38,288.2 L37.3,288.2 L36.7,288.5 L36,289 L35.4,289.8 L34.7,290.7 L34.1,291.7 L33.4,292.9 L32.8,294.1 L32.1,295.8 L31.5,298 L30.8,300.6 L30.2,303.5Z"/></clipPath>
<path d="M30.2,291 L30.8,285.7 L31.5,280.8 L32.1,276.5 L32.8,273.4 L33.4,270.9 L34.1,268.7 L34.7,266.6 L35.4,264.8 L36,263.3 L36.7,262.2 L37.3,261.4 L38,261 L38.6,260.7 L39.3,260.3 L39.9,260 L40.6,259.8 L41.2,259.6 L41.9,259.4 L42.5,259.2 L43.2,259 L43.8,258.9 L44.5,258.9 L45.1,258.8 L45.8,259 L46.4,259.7 L47,261.1 L47.7,262.9 L48.3,265 L49,267.4 L49.6,270 L50.3,272.6 L50.9,275.2 L51.6,277.6 L52.2,279.7 L52.9,281.5 L53.5,283.1 L54.2,284.8 L54.8,286.5 L55.5,288.1 L56.1,289.6 L56.8,290.9 L57.4,292 L58.1,292.6 L58.7,292.9 L59.4,292.9 L60,292.9 L60.7,292.9 L61.3,292.9 L62,292.9 L62.6,292.9 L63.2,292.9 L63.9,292.8 L64.5,292.8 L65.2,292.8 L65.8,292.8 L66.5,292.8 L67.1,292.8 L67.8,292.7 L68.4,292.6 L69.1,292.5 L69.7,292.4 L70.4,292.3 L71,292.1 L71.7,292 L72.3,291.8 L73,291.7 L73.6,291.5 L74.3,291.4 L74.9,291.3 L75.6,291.1 L76.2,291.1 L76.9,291 L77.5,290.9 L78.2,290.9 L78.8,290.9 L79.4,291 L80.1,291 L80.7,291.1 L81.4,291.2 L82,291.3 L82.7,291.4 L83.3,291.6 L84,291.7 L84.6,291.8 L85.3,291.9 L85.9,292.1 L86.6,292.2 L87.2,292.3 L87.9,292.4 L88.5,292.5 L89.2,292.6 L89.8,292.7 L90.5,292.8 L91.1,293 L91.8,293.1 L92.4,293.3 L93.1,293.6 L93.7,294 L94.4,294.8 L95,295.9 L95.6,297 L96.3,298.1 L96.9,298.8 L97.6,299.1 L98.2,298.9 L98.9,298.5 L99.5,297.7 L100.2,296.8 L100.8,295.7 L101.5,294.5 L102.1,293.3 L102.8,292.1 L103.4,291.1 L104.1,290.1 L104.7,289.4 L105.4,288.9 L106,288.6 L106.7,288.3 L107.3,288.1 L108,287.8 L108.6,287.6 L109.3,287.4 L109.9,287.3 L110.6,287.2 L111.2,287.2 L111.8,287.2 L112.5,287.2 L113.1,287.2 L113.8,287.2 L114.4,287.2 L115.1,287.3 L115.7,287.3 L116.4,287.3 L117,287.3 L117.7,287.2 L118.3,287 L119,286.7 L119.6,286.3 L120.3,285.9 L120.9,285.6 L121.6,285.4 L122.2,285.3 L122.9,285.3 L123.5,285.3 L124.2,285.4 L124.8,285.4 L125.5,285.5 L126.1,285.6 L126.8,285.7 L127.4,285.8 L128,285.9 L128.7,286.1 L129.3,286.2 L130,286.4 L130.6,286.7 L131.3,287.2 L131.9,288 L132.6,288.9 L133.2,289.9 L133.9,291 L134.5,292.1 L135.2,293.2 L135.8,294.1 L136.5,295 L137.1,295.7 L137.8,296.4 L138.4,297.2 L139.1,297.9 L139.7,298.6 L140.4,299.3 L141,300 L141.7,300.6 L142.3,301.2 L143,301.7 L143.6,302.2 L144.2,302.6 L144.9,303.1 L145.5,303.5 L146.2,303.9 L146.8,304.2 L147.5,304.4 L148.1,304.5 L148.8,304.5 L149.4,304.4 L150.1,304.4 L150.7,304.2 L151.4,304.1 L152,303.9 L152.7,303.7 L153.3,303.5 L154,303.2 L154.6,302.9 L155.3,302.6 L155.9,302.2 L156.6,301.4 L157.2,300.4 L157.9,299.2 L158.5,297.8 L159.2,296.4 L159.8,295 L159.8,311.2 L159.2,311.9 L158.5,312.6 L157.9,313.3 L157.2,313.9 L156.6,314.5 L155.9,315 L155.3,315.5 L154.6,315.8 L154,316 L153.3,316 L152.7,316 L152,316 L151.4,315.9 L150.7,315.9 L150.1,315.8 L149.4,315.7 L148.8,315.6 L148.1,315.5 L147.5,315.4 L146.8,315.3 L146.2,315.2 L145.5,315.1 L144.9,315 L144.2,315 L143.6,314.9 L143,314.8 L142.3,314.8 L141.7,314.7 L141,314.7 L140.4,314.6 L139.7,314.5 L139.1,314.5 L138.4,314.4 L137.8,314.3 L137.1,314.2 L136.5,314.1 L135.8,313.9 L135.2,313.5 L134.5,313.1 L133.9,312.6 L133.2,312.1 L132.6,311.5 L131.9,310.9 L131.3,310.4 L130.6,310 L130,309.6 L129.3,309.4 L128.7,309.3 L128,309.3 L127.4,309.4 L126.8,309.5 L126.1,309.7 L125.5,309.8 L124.8,310 L124.2,310.3 L123.5,310.5 L122.9,310.7 L122.2,311 L121.6,311.2 L120.9,311.4 L120.3,311.6 L119.6,311.8 L119,312 L118.3,312.1 L117.7,312.2 L117,312.2 L116.4,312.1 L115.7,311.7 L115.1,311.2 L114.4,310.7 L113.8,310 L113.1,309.4 L112.5,308.9 L111.8,308.5 L111.2,308.4 L110.6,308.4 L109.9,308.6 L109.3,308.8 L108.6,309.2 L108,309.6 L107.3,309.9 L106.7,310.3 L106,310.6 L105.4,310.7 L104.7,310.9 L104.1,311 L103.4,311.1 L102.8,311.3 L102.1,311.4 L101.5,311.5 L100.8,311.6 L100.2,311.6 L99.5,311.7 L98.9,311.7 L98.2,311.8 L97.6,311.8 L96.9,311.7 L96.3,311.5 L95.6,311.1 L95,310.8 L94.4,310.5 L93.7,310.3 L93.1,310.2 L92.4,310.2 L91.8,310.3 L91.1,310.3 L90.5,310.4 L89.8,310.5 L89.2,310.6 L88.5,310.7 L87.9,310.8 L87.2,310.9 L86.6,311 L85.9,311.2 L85.3,311.3 L84.6,311.5 L84,311.8 L83.3,312.1 L82.7,312.4 L82,312.7 L81.4,313.1 L80.7,313.3 L80.1,313.6 L79.4,313.8 L78.8,313.9 L78.2,314 L77.5,314 L76.9,313.9 L76.2,313.9 L75.6,313.8 L74.9,313.8 L74.3,313.7 L73.6,313.6 L73,313.5 L72.3,313.4 L71.7,313.3 L71,313.1 L70.4,313 L69.7,312.9 L69.1,312.7 L68.4,312.6 L67.8,312.4 L67.1,312.3 L66.5,312.1 L65.8,311.9 L65.2,311.7 L64.5,311.5 L63.9,311.2 L63.2,311 L62.6,310.6 L62,310.3 L61.3,310 L60.7,309.6 L60,309.2 L59.4,308.7 L58.7,308.3 L58.1,307.7 L57.4,307 L56.8,306.2 L56.1,305.3 L55.5,304.3 L54.8,303.4 L54.2,302.4 L53.5,301.5 L52.9,300.6 L52.2,299.7 L51.6,298.8 L50.9,297.8 L50.3,296.8 L49.6,295.9 L49,294.9 L48.3,294 L47.7,293.2 L47,292.4 L46.4,291.8 L45.8,291.3 L45.1,290.9 L44.5,290.5 L43.8,290.2 L43.2,289.8 L42.5,289.5 L41.9,289.2 L41.2,289 L40.6,288.7 L39.9,288.5 L39.3,288.4 L38.6,288.3 L38,288.2 L37.3,288.2 L36.7,288.5 L36,289 L35.4,289.8 L34.7,290.7 L34.1,291.7 L33.4,292.9 L32.8,294.1 L32.1,295.8 L31.5,298 L30.8,300.6 L30.2,303.5Z" fill="#bebebe"/>
<path d="M30.2,279.5 L30.8,275.6 L31.5,271.9 L32.1,268.5 L32.8,265.5 L33.4,263 L34.1,260.9 L34.7,259.2 L35.4,257.5 L36,255.9 L36.7,254.6 L37.3,253.5 L38,252.9 L38.6,252.7 L39.3,252.7 L39.9,252.8 L40.6,252.8 L41.2,252.8 L41.9,252.9 L42.5,253 L43.2,253.1 L43.8,253.2 L44.5,253.3 L45.1,253.4 L45.8,253.6 L46.4,253.7 L47,254.1 L47.7,254.8 L48.3,255.6 L49,256.6 L49.6,257.7 L50.3,259 L50.9,260.3 L51.6,261.6 L52.2,262.9 L52.9,264.2 L53.5,265.6 L54.2,267.2 L54.8,269 L55.5,270.8 L56.1,272.7 L56.8,274.6 L57.4,276.3 L58.1,278 L58.7,279.5 L59.4,280.9 L60,282.4 L60.7,283.9 L61.3,285.3 L62,286.5 L62.6,287.4 L63.2,288.1 L63.9,288.4 L64.5,288.7 L65.2,288.9 L65.8,289.2 L66.5,289.4 L67.1,289.6 L67.8,289.7 L68.4,289.8 L69.1,289.9 L69.7,290 L70.4,290 L71,289.9 L71.7,289.6 L72.3,289.2 L73,288.7 L73.6,288.1 L74.3,287.5 L74.9,286.8 L75.6,286.2 L76.2,285.6 L76.9,285 L77.5,284.6 L78.2,284.3 L78.8,284 L79.4,283.8 L80.1,283.7 L80.7,283.5 L81.4,283.3 L82,283.2 L82.7,283 L83.3,282.9 L84,282.8 L84.6,282.6 L85.3,282.5 L85.9,282.4 L86.6,282.3 L87.2,282.2 L87.9,282 L88.5,281.9 L89.2,281.8 L89.8,281.7 L90.5,281.6 L91.1,281.5 L91.8,281.4 L92.4,281.4 L93.1,281.4 L93.7,281.5 L94.4,282.1 L95,282.8 L95.6,283.7 L96.3,284.5 L96.9,285.1 L97.6,285.3 L98.2,285.3 L98.9,285.2 L99.5,285.1 L100.2,285 L100.8,284.8 L101.5,284.6 L102.1,284.4 L102.8,284.2 L103.4,284 L104.1,283.8 L104.7,283.6 L105.4,283.4 L106,283.3 L106.7,283 L107.3,282.8 L108,282.5 L108.6,282.3 L109.3,282 L109.9,281.8 L110.6,281.6 L111.2,281.4 L111.8,281.3 L112.5,281.2 L113.1,281.2 L113.8,281.3 L114.4,281.6 L115.1,282.1 L115.7,282.8 L116.4,283.4 L117,284.1 L117.7,284.8 L118.3,285.3 L119,285.8 L119.6,286.4 L120.3,286.9 L120.9,287.4 L121.6,287.9 L122.2,288.4 L122.9,288.7 L123.5,288.9 L124.2,289.1 L124.8,289.2 L125.5,289.3 L126.1,289.4 L126.8,289.5 L127.4,289.5 L128,289.6 L128.7,289.7 L129.3,289.8 L130,290 L130.6,290.3 L131.3,290.7 L131.9,291.3 L132.6,292 L133.2,292.7 L133.9,293.5 L134.5,294.3 L135.2,295 L135.8,295.7 L136.5,296.2 L137.1,296.7 L137.8,297.2 L138.4,297.7 L139.1,298.1 L139.7,298.6 L140.4,299 L141,299.4 L141.7,299.8 L142.3,300.1 L143,300.4 L143.6,300.7 L144.2,300.9 L144.9,301.1 L145.5,301.3 L146.2,301.4 L146.8,301.6 L147.5,301.7 L148.1,301.8 L148.8,301.9 L149.4,301.9 L150.1,301.9 L150.7,301.7 L151.4,301.4 L152,301 L152.7,300.6 L153.3,300.2 L154,299.7 L154.6,299.3 L155.3,298.9 L155.9,298.4 L156.6,297.9 L157.2,297.4 L157.9,296.8 L158.5,296.2 L159.2,295.6 L159.8,295 L159.8,308.4 L159.2,309.3 L158.5,310.3 L157.9,311.2 L157.2,312 L156.6,312.8 L155.9,313.5 L155.3,314.1 L154.6,314.7 L154,315.2 L153.3,315.5 L152.7,315.8 L152,316 L151.4,316 L150.7,316 L150.1,316 L149.4,315.9 L148.8,315.8 L148.1,315.7 L147.5,315.6 L146.8,315.4 L146.2,315.3 L145.5,315.1 L144.9,314.9 L144.2,314.6 L143.6,314.3 L143,314 L142.3,313.5 L141.7,313.1 L141,312.6 L140.4,312.1 L139.7,311.6 L139.1,311.1 L138.4,310.6 L137.8,310.2 L137.1,309.7 L136.5,309.3 L135.8,308.9 L135.2,308.4 L134.5,307.9 L133.9,307.3 L133.2,306.8 L132.6,306.3 L131.9,305.8 L131.3,305.4 L130.6,305 L130,304.8 L129.3,304.6 L128.7,304.5 L128,304.5 L127.4,304.5 L126.8,304.5 L126.1,304.5 L125.5,304.5 L124.8,304.5 L124.2,304.5 L123.5,304.5 L122.9,304.5 L122.2,304.5 L121.6,304.5 L120.9,304.5 L120.3,304.5 L119.6,304.5 L119,304.5 L118.3,304.5 L117.7,304.5 L117,304.6 L116.4,304.6 L115.7,304.7 L115.1,304.8 L114.4,304.9 L113.8,305.1 L113.1,305.2 L112.5,305.4 L111.8,305.6 L111.2,305.8 L110.6,306 L109.9,306.2 L109.3,306.4 L108.6,306.7 L108,307.2 L107.3,307.8 L106.7,308.6 L106,309.3 L105.4,310.1 L104.7,310.9 L104.1,311.7 L103.4,312.3 L102.8,312.8 L102.1,313.1 L101.5,313.2 L100.8,313.2 L100.2,313.1 L99.5,312.9 L98.9,312.7 L98.2,312.4 L97.6,312.1 L96.9,311.8 L96.3,311.5 L95.6,311.1 L95,310.7 L94.4,310.3 L93.7,310 L93.1,309.6 L92.4,309.3 L91.8,309 L91.1,308.7 L90.5,308.5 L89.8,308.4 L89.2,308.2 L88.5,308.1 L87.9,308 L87.2,307.9 L86.6,307.8 L85.9,307.7 L85.3,307.7 L84.6,307.6 L84,307.5 L83.3,307.4 L82.7,307.4 L82,307.3 L81.4,307.3 L80.7,307.2 L80.1,307.1 L79.4,307.1 L78.8,307 L78.2,306.9 L77.5,306.8 L76.9,306.8 L76.2,306.7 L75.6,306.6 L74.9,306.5 L74.3,306.4 L73.6,306.3 L73,306.2 L72.3,306 L71.7,305.9 L71,305.8 L70.4,305.6 L69.7,305.5 L69.1,305.3 L68.4,305.1 L67.8,305 L67.1,304.7 L66.5,304.5 L65.8,304.2 L65.2,303.9 L64.5,303.5 L63.9,303.1 L63.2,302.6 L62.6,302.1 L62,301.5 L61.3,301 L60.7,300.4 L60,299.8 L59.4,299.3 L58.7,298.7 L58.1,298.1 L57.4,297.6 L56.8,296.9 L56.1,296.3 L55.5,295.7 L54.8,295 L54.2,294.4 L53.5,293.7 L52.9,293 L52.2,292.2 L51.6,291.4 L50.9,290.4 L50.3,289.4 L49.6,288.4 L49,287.5 L48.3,286.5 L47.7,285.7 L47,285.1 L46.4,284.6 L45.8,284.3 L45.1,284.3 L44.5,284.3 L43.8,284.3 L43.2,284.4 L42.5,284.4 L41.9,284.5 L41.2,284.6 L40.6,284.7 L39.9,284.8 L39.3,284.9 L38.6,285.1 L38,285.2 L37.3,285.4 L36.7,285.9 L36,286.6 L35.4,287.7 L34.7,289 L34.1,290.5 L33.4,292.2 L32.8,294 L32.1,296 L31.5,298.1 L30.8,300.3 L30.2,302.4Z" fill="rgb(247,152,152)"/>
<path d="M30.2,279.5 L30.8,275.6 L31.5,271.9 L32.1,268.5 L32.8,265.5 L33.4,263 L34.1,260.9 L34.7,259.2 L35.4,257.5 L36,255.9 L36.7,254.6 L37.3,253.5 L38,252.9 L38.6,252.7 L39.3,252.7 L39.9,252.8 L40.6,252.8 L41.2,252.8 L41.9,252.9 L42.5,253 L43.2,253.1 L43.8,253.2 L44.5,253.3 L45.1,253.4 L45.8,253.6 L46.4,253.7 L47,254.1 L47.7,254.8 L48.3,255.6 L49,256.6 L49.6,257.7 L50.3,259 L50.9,260.3 L51.6,261.6 L52.2,262.9 L52.9,264.2 L53.5,265.6 L54.2,267.2 L54.8,269 L55.5,270.8 L56.1,272.7 L56.8,274.6 L57.4,276.3 L58.1,278 L58.7,279.5 L59.4,280.9 L60,282.4 L60.7,283.9 L61.3,285.3 L62,286.5 L62.6,287.4 L63.2,288.1 L63.9,288.4 L64.5,288.7 L65.2,288.9 L65.8,289.2 L66.5,289.4 L67.1,289.6 L67.8,289.7 L68.4,289.8 L69.1,289.9 L69.7,290 L70.4,290 L71,289.9 L71.7,289.6 L72.3,289.2 L73,288.7 L73.6,288.1 L74.3,287.5 L74.9,286.8 L75.6,286.2 L76.2,285.6 L76.9,285 L77.5,284.6 L78.2,284.3 L78.8,284 L79.4,283.8 L80.1,283.7 L80.7,283.5 L81.4,283.3 L82,283.2 L82.7,283 L83.3,282.9 L84,282.8 L84.6,282.6 L85.3,282.5 L85.9,282.4 L86.6,282.3 L87.2,282.2 L87.9,282 L88.5,281.9 L89.2,281.8 L89.8,281.7 L90.5,281.6 L91.1,281.5 L91.8,281.4 L92.4,281.4 L93.1,281.4 L93.7,281.5 L94.4,282.1 L95,282.8 L95.6,283.7 L96.3,284.5 L96.9,285.1 L97.6,285.3 L98.2,285.3 L98.9,285.2 L99.5,285.1 L100.2,285 L100.8,284.8 L101.5,284.6 L102.1,284.4 L102.8,284.2 L103.4,284 L104.1,283.8 L104.7,283.6 L105.4,283.4 L106,283.3 L106.7,283 L107.3,282.8 L108,282.5 L108.6,282.3 L109.3,282 L109.9,281.8 L110.6,281.6 L111.2,281.4 L111.8,281.3 L112.5,281.2 L113.1,281.2 L113.8,281.3 L114.4,281.6 L115.1,282.1 L115.7,282.8 L116.4,283.4 L117,284.1 L117.7,284.8 L118.3,285.3 L119,285.8 L119.6,286.4 L120.3,286.9 L120.9,287.4 L121.6,287.9 L122.2,288.4 L122.9,288.7 L123.5,288.9 L124.2,289.1 L124.8,289.2 L125.5,289.3 L126.1,289.4 L126.8,289.5 L127.4,289.5 L128,289.6 L128.7,289.7 L129.3,289.8 L130,290 L130.6,290.3 L131.3,290.7 L131.9,291.3 L132.6,292 L133.2,292.7 L133.9,293.5 L134.5,294.3 L135.2,295 L135.8,295.7 L136.5,296.2 L137.1,296.7 L137.8,297.2 L138.4,297.7 L139.1,298.1 L139.7,298.6 L140.4,299 L141,299.4 L141.7,299.8 L142.3,300.1 L143,300.4 L143.6,300.7 L144.2,300.9 L144.9,301.1 L145.5,301.3 L146.2,301.4 L146.8,301.6 L147.5,301.7 L148.1,301.8 L148.8,301.9 L149.4,301.9 L150.1,301.9 L150.7,301.7 L151.4,301.4 L152,301 L152.7,300.6 L153.3,300.2 L154,299.7 L154.6,299.3 L155.3,298.9 L155.9,298.4 L156.6,297.9 L157.2,297.4 L157.9,296.8 L158.5,296.2 L159.2,295.6 L159.8,295 L159.8,308.4 L159.2,309.3 L158.5,310.3 L157.9,311.2 L157.2,312 L156.6,312.8 L155.9,313.5 L155.3,314.1 L154.6,314.7 L154,315.2 L153.3,315.5 L152.7,315.8 L152,316 L151.4,316 L150.7,316 L150.1,316 L149.4,315.9 L148.8,315.8 L148.1,315.7 L147.5,315.6 L146.8,315.4 L146.2,315.3 L145.5,315.1 L144.9,314.9 L144.2,314.6 L143.6,314.3 L143,314 L142.3,313.5 L141.7,313.1 L141,312.6 L140.4,312.1 L139.7,311.6 L139.1,311.1 L138.4,310.6 L137.8,310.2 L137.1,309.7 L136.5,309.3 L135.8,308.9 L135.2,308.4 L134.5,307.9 L133.9,307.3 L133.2,306.8 L132.6,306.3 L131.9,305.8 L131.3,305.4 L130.6,305 L130,304.8 L129.3,304.6 L128.7,304.5 L128,304.5 L127.4,304.5 L126.8,304.5 L126.1,304.5 L125.5,304.5 L124.8,304.5 L124.2,304.5 L123.5,304.5 L122.9,304.5 L122.2,304.5 L121.6,304.5 L120.9,304.5 L120.3,304.5 L119.6,304.5 L119,304.5 L118.3,304.5 L117.7,304.5 L117,304.6 L116.4,304.6 L115.7,304.7 L115.1,304.8 L114.4,304.9 L113.8,305.1 L113.1,305.2 L112.5,305.4 L111.8,305.6 L111.2,305.8 L110.6,306 L109.9,306.2 L109.3,306.4 L108.6,306.7 L108,307.2 L107.3,307.8 L106.7,308.6 L106,309.3 L105.4,310.1 L104.7,310.9 L104.1,311.7 L103.4,312.3 L102.8,312.8 L102.1,313.1 L101.5,313.2 L100.8,313.2 L100.2,313.1 L99.5,312.9 L98.9,312.7 L98.2,312.4 L97.6,312.1 L96.9,311.8 L96.3,311.5 L95.6,311.1 L95,310.7 L94.4,310.3 L93.7,310 L93.1,309.6 L92.4,309.3 L91.8,309 L91.1,308.7 L90.5,308.5 L89.8,308.4 L89.2,308.2 L88.5,308.1 L87.9,308 L87.2,307.9 L86.6,307.8 L85.9,307.7 L85.3,307.7 L84.6,307.6 L84,307.5 L83.3,307.4 L82.7,307.4 L82,307.3 L81.4,307.3 L80.7,307.2 L80.1,307.1 L79.4,307.1 L78.8,307 L78.2,306.9 L77.5,306.8 L76.9,306.8 L76.2,306.7 L75.6,306.6 L74.9,306.5 L74.3,306.4 L73.6,306.3 L73,306.2 L72.3,306 L71.7,305.9 L71,305.8 L70.4,305.6 L69.7,305.5 L69.1,305.3 L68.4,305.1 L67.8,305 L67.1,304.7 L66.5,304.5 L65.8,304.2 L65.2,303.9 L64.5,303.5 L63.9,303.1 L63.2,302.6 L62.6,302.1 L62,301.5 L61.3,301 L60.7,300.4 L60,299.8 L59.4,299.3 L58.7,298.7 L58.1,298.1 L57.4,297.6 L56.8,296.9 L56.1,296.3 L55.5,295.7 L54.8,295 L54.2,294.4 L53.5,293.7 L52.9,293 L52.2,292.2 L51.6,291.4 L50.9,290.4 L50.3,289.4 L49.6,288.4 L49,287.5 L48.3,286.5 L47.7,285.7 L47,285.1 L46.4,284.6 L45.8,284.3 L45.1,284.3 L44.5,284.3 L43.8,284.3 L43.2,284.4 L42.5,284.4 L41.9,284.5 L41.2,284.6 L40.6,284.7 L39.9,284.8 L39.3,284.9 L38.6,285.1 L38,285.2 L37.3,285.4 L36.7,285.9 L36,286.6 L35.4,287.7 L34.7,289 L34.1,290.5 L33.4,292.2 L32.8,294 L32.1,296 L31.5,298.1 L30.8,300.3 L30.2,302.4Z" fill="rgb(235,102,102)" clip-path="url(#c4)"/>
<path d="M30.2,297.2 L30.8,293.4 L31.5,289.8 L32.1,286.6 L32.8,283.8 L33.4,281 L34.1,278.3 L34.7,276.1 L35.4,274.9 L36,274.7 L36.7,274.7 L37.3,274.7 L38,274.7 L38.6,274.7 L39.3,274.7 L39.9,274.7 L40.6,274.7 L41.2,274.7 L41.9,274.7 L42.5,274.7 L43.2,274.9 L43.8,275.2 L44.5,275.7 L45.1,276.3 L45.8,277.1 L46.4,277.8 L47,278.6 L47.7,279.5 L48.3,280.6 L49,282 L49.6,283.5 L50.3,285.1 L50.9,286.7 L51.6,288.3 L52.2,289.7 L52.9,291 L53.5,292.3 L54.2,293.5 L54.8,294.8 L55.5,296 L56.1,297.2 L56.8,298.3 L57.4,299.2 L58.1,300 L58.7,300.6 L59.4,301 L60,301.5 L60.7,301.9 L61.3,302.2 L62,302.4 L62.6,302.4 L63.2,302.4 L63.9,302.4 L64.5,302.4 L65.2,302.4 L65.8,302.4 L66.5,302.4 L67.1,302.4 L67.8,302.4 L68.4,302.4 L69.1,302.4 L69.7,302.4 L70.4,302.4 L71,302.4 L71.7,302.4 L72.3,302.4 L73,302.4 L73.6,302.4 L74.3,302.4 L74.9,302.4 L75.6,302.4 L76.2,302.4 L76.9,302.4 L77.5,302.4 L78.2,302.4 L78.8,302.4 L79.4,302.4 L80.1,302.4 L80.7,302.4 L81.4,302.4 L82,302.4 L82.7,302.4 L83.3,302.4 L84,302.3 L84.6,302.2 L85.3,302.1 L85.9,302 L86.6,301.9 L87.2,301.8 L87.9,301.7 L88.5,301.7 L89.2,301.6 L89.8,301.6 L90.5,301.7 L91.1,301.9 L91.8,302.2 L92.4,302.6 L93.1,303.1 L93.7,303.5 L94.4,304 L95,304.5 L95.6,304.9 L96.3,305.2 L96.9,305.4 L97.6,305.5 L98.2,305.4 L98.9,305.1 L99.5,304.8 L100.2,304.3 L100.8,303.8 L101.5,303.2 L102.1,302.6 L102.8,302 L103.4,301.4 L104.1,300.8 L104.7,300.3 L105.4,299.8 L106,299.4 L106.7,299 L107.3,298.5 L108,298.1 L108.6,297.9 L109.3,297.8 L109.9,297.8 L110.6,297.9 L111.2,298.1 L111.8,298.3 L112.5,298.5 L113.1,298.8 L113.8,299 L114.4,299.2 L115.1,299.4 L115.7,299.6 L116.4,299.7 L117,299.7 L117.7,299.7 L118.3,299.7 L119,299.7 L119.6,299.6 L120.3,299.6 L120.9,299.5 L121.6,299.4 L122.2,299.4 L122.9,299.3 L123.5,299.2 L124.2,299.1 L124.8,299 L125.5,299 L126.1,298.9 L126.8,298.9 L127.4,298.8 L128,298.8 L128.7,298.8 L129.3,298.9 L130,299 L130.6,299.2 L131.3,299.5 L131.9,299.8 L132.6,300.1 L133.2,300.5 L133.9,300.9 L134.5,301.3 L135.2,301.9 L135.8,302.6 L136.5,303.3 L137.1,304 L137.8,304.5 L138.4,305 L139.1,305.5 L139.7,306 L140.4,306.5 L141,307 L141.7,307.4 L142.3,307.8 L143,308.2 L143.6,308.6 L144.2,308.9 L144.9,309.1 L145.5,309.3 L146.2,309.4 L146.8,309.6 L147.5,309.7 L148.1,309.9 L148.8,310 L149.4,310.1 L150.1,310.2 L150.7,310.2 L151.4,310.2 L152,310.1 L152.7,309.9 L153.3,309.6 L154,309.2 L154.6,308.7 L155.3,308.2 L155.9,307.6 L156.6,307 L157.2,306.3 L157.9,305.5 L158.5,304.6 L159.2,303.7 L159.8,302.6" fill="none" stroke="#2a2a2a" stroke-width="0.55"/>
<path d="M30.2,292.1 L30.8,288.4 L31.5,284.8 L32.1,281.3 L32.8,278 L33.4,275.1 L34.1,272.8 L34.7,271 L35.4,270.1 L36,269.9 L36.7,269.8 L37.3,269.6 L38,269.5 L38.6,269.4 L39.3,269.4 L39.9,269.3 L40.6,269.2 L41.2,269.2 L41.9,269.1 L42.5,269.1 L43.2,269.1 L43.8,269 L44.5,269 L45.1,269 L45.8,269.1 L46.4,269.3 L47,269.7 L47.7,270.3 L48.3,271 L49,271.8 L49.6,272.7 L50.3,273.6 L50.9,274.6 L51.6,275.6 L52.2,276.7 L52.9,277.6 L53.5,278.7 L54.2,280 L54.8,281.4 L55.5,282.9 L56.1,284.4 L56.8,285.9 L57.4,287.2 L58.1,288.3 L58.7,289.2 L59.4,289.8 L60,290.5 L60.7,291.1 L61.3,291.6 L62,292.1 L62.6,292.6 L63.2,293 L63.9,293.4 L64.5,293.8 L65.2,294.2 L65.8,294.5 L66.5,294.9 L67.1,295.2 L67.8,295.5 L68.4,295.9 L69.1,296.2 L69.7,296.5 L70.4,296.8 L71,297.1 L71.7,297.3 L72.3,297.5 L73,297.6 L73.6,297.7 L74.3,297.8 L74.9,297.7 L75.6,297.6 L76.2,297.5 L76.9,297.3 L77.5,297 L78.2,296.8 L78.8,296.5 L79.4,296.3 L80.1,296.1 L80.7,295.9 L81.4,295.8 L82,295.8 L82.7,295.8 L83.3,295.9 L84,296 L84.6,296.1 L85.3,296.2 L85.9,296.3 L86.6,296.4 L87.2,296.6 L87.9,296.7 L88.5,296.8 L89.2,296.8 L89.8,296.8 L90.5,296.8 L91.1,296.7 L91.8,296.5 L92.4,296.3 L93.1,296.1 L93.7,295.8 L94.4,295.6 L95,295.4 L95.6,295.2 L96.3,295 L96.9,294.9 L97.6,294.9 L98.2,294.9 L98.9,295.1 L99.5,295.3 L100.2,295.5 L100.8,295.8 L101.5,296 L102.1,296.2 L102.8,296.2 L103.4,296.1 L104.1,295.9 L104.7,295.5 L105.4,295.1 L106,294.6 L106.7,294.1 L107.3,293.7 L108,293.3 L108.6,293.1 L109.3,293 L109.9,293 L110.6,293.2 L111.2,293.4 L111.8,293.7 L112.5,294 L113.1,294.3 L113.8,294.7 L114.4,295 L115.1,295.3 L115.7,295.6 L116.4,295.8 L117,295.9 L117.7,296 L118.3,296.1 L119,296.1 L119.6,296.2 L120.3,296.2 L120.9,296.3 L121.6,296.3 L122.2,296.3 L122.9,296.3 L123.5,296.4 L124.2,296.4 L124.8,296.4 L125.5,296.5 L126.1,296.5 L126.8,296.6 L127.4,296.7 L128,296.7 L128.7,296.8 L129.3,297 L130,297.3 L130.6,297.7 L131.3,298.1 L131.9,298.7 L132.6,299.3 L133.2,299.9 L133.9,300.6 L134.5,301.3 L135.2,302 L135.8,302.7 L136.5,303.4 L137.1,304 L137.8,304.5 L138.4,305.1 L139.1,305.6 L139.7,306.2 L140.4,306.8 L141,307.4 L141.7,308 L142.3,308.5 L143,309 L143.6,309.5 L144.2,309.8 L144.9,310.1 L145.5,310.3 L146.2,310.5 L146.8,310.6 L147.5,310.7 L148.1,310.9 L148.8,311 L149.4,311 L150.1,311.1 L150.7,311.1 L151.4,311.2 L152,311.1 L152.7,310.9 L153.3,310.5 L154,310 L154.6,309.5 L155.3,308.8 L155.9,308 L156.6,307.1 L157.2,306.1 L157.9,305.1 L158.5,304 L159.2,302.8 L159.8,301.6" fill="none" stroke="#f01010" stroke-width="0.9"/>
<rect x="30.2" y="219.4" width="129.6" height="103.8" fill="none" stroke="#8a8a8a" stroke-width="0.8"/>
<path d="M30.2,323.2v1.6 M43.2,323.2v1.0 M56.1,323.2v1.6 M69.1,323.2v1.0 M82,323.2v1.6 M95,323.2v1.0 M108,323.2v1.6 M120.9,323.2v1.0 M133.9,323.2v1.6 M146.8,323.2v1.0 M159.8,323.2v1.6 M30.2,323.2h-1.6 M30.2,310.2h-1.0 M30.2,297.2h-1.6 M30.2,284.3h-1.0 M30.2,271.3h-1.6 M30.2,258.3h-1.0 M30.2,245.4h-1.6 M30.2,232.4h-1.0 M30.2,219.4h-1.6" stroke="#8a8a8a" stroke-width="0.6" fill="none"/>
<text x="30.2" y="331" text-anchor="middle" class="b" font-family="'Liberation Serif','Times New Roman',serif" font-weight="bold" font-size="5.4">0</text>
<text x="56.1" y="331" text-anchor="middle" class="b" font-family="'Liberation Serif','Times New Roman',serif" font-weight="bold" font-size="5.4">20</text>
<text x="82" y="331" text-anchor="middle" class="b" font-family="'Liberation Serif','Times New Roman',serif" font-weight="bold" font-size="5.4">40</text>
<text x="108" y="331" text-anchor="middle" class="b" font-family="'Liberation Serif','Times New Roman',serif" font-weight="bold" font-size="5.4">60</text>
<text x="133.9" y="331" text-anchor="middle" class="b" font-family="'Liberation Serif','Times New Roman',serif" font-weight="bold" font-size="5.4">80</text>
<text x="159.8" y="331" text-anchor="middle" class="b" font-family="'Liberation Serif','Times New Roman',serif" font-weight="bold" font-size="5.4">100</text>
<text x="27.6" y="325" text-anchor="end" class="b" font-family="'Liberation Serif','Times New Roman',serif" font-weight="bold" font-size="5.4">0</text>
<text x="27.6" y="299.1" text-anchor="end" class="b" font-family="'Liberation Serif','Times New Roman',serif" font-weight="bold" font-size="5.4">250</text>
<text x="27.6" y="273.1" text-anchor="end" class="b" font-family="'Liberation Serif','Times New Roman',serif" font-weight="bold" font-size="5.4">500</text>
<text x="27.6" y="247.2" text-anchor="end" class="b" font-family="'Liberation Serif','Times New Roman',serif" font-weight="bold" font-size="5.4">750</text>
<text x="27.6" y="221.2" text-anchor="end" class="b" font-family="'Liberation Serif','Times New Roman',serif" font-weight="bold" font-size="5.4">1000</text>
<text x="91.5" y="217.6" text-anchor="middle" class="b" font-family="'Liberation Serif','Times New Roman',serif" font-weight="bold" font-size="6.85">Tibialis Anterior</text>
<text x="94.5" y="338.1" text-anchor="middle" class="b" font-family="'Liberation Serif','Times New Roman',serif" font-weight="bold" font-size="6.85">Stance phase (%)</text>
<text transform="translate(12.9,271.5) rotate(-90)" text-anchor="middle" class="b" font-family="'Liberation Serif','Times New Roman',serif" font-weight="bold" font-size="6.85">Muscle Force (N)</text>
<path d="M34,226.4h10.2" stroke="#555" stroke-width="0.6"/>
<path d="M34,232.5h10.2" stroke="#f06868" stroke-width="0.6"/>
<text x="46.6" y="228" class="b" font-family="'Liberation Serif','Times New Roman',serif" font-weight="bold" font-size="5.0">NS</text>
<text x="46.6" y="234.1" class="b" font-family="'Liberation Serif','Times New Roman',serif" font-weight="bold" font-size="5.0">BS</text>
<clipPath id="c5"><path d="M220.9,308.1 L221.6,309.1 L222.2,310 L222.9,310.8 L223.5,311.5 L224.2,312 L224.8,312.3 L225.5,312.5 L226.1,312.7 L226.8,312.8 L227.4,312.9 L228.1,313 L228.7,313.1 L229.4,313.2 L230,313.2 L230.7,313.3 L231.3,313.4 L232,313.5 L232.6,313.5 L233.3,313.6 L233.9,313.6 L234.6,313.7 L235.3,313.7 L235.9,313.8 L236.6,313.8 L237.2,313.9 L237.9,313.9 L238.5,314 L239.2,314.1 L239.8,314.1 L240.5,314.2 L241.1,314.3 L241.8,314.5 L242.4,314.6 L243.1,314.7 L243.7,314.8 L244.4,314.9 L245,315 L245.7,315 L246.3,315 L247,315 L247.7,315 L248.3,314.9 L249,314.8 L249.6,314.7 L250.3,314.5 L250.9,314.3 L251.6,314.1 L252.2,313.9 L252.9,313.6 L253.5,313.4 L254.2,313.1 L254.8,312.8 L255.5,312.3 L256.1,311.7 L256.8,311 L257.4,310.2 L258.1,309.3 L258.7,308.4 L259.4,307.5 L260.1,306.6 L260.7,305.7 L261.4,304.8 L262,303.8 L262.7,302.7 L263.3,301.7 L264,300.6 L264.6,299.6 L265.3,298.5 L265.9,297.4 L266.6,296.4 L267.2,295.3 L267.9,294.3 L268.5,293.4 L269.2,292.5 L269.8,291.6 L270.5,290.8 L271.1,289.9 L271.8,289 L272.4,288 L273.1,286.9 L273.8,285.7 L274.4,284.4 L275.1,283 L275.7,281.5 L276.4,279.8 L277,278 L277.7,276.1 L278.3,273.3 L279,270 L279.6,267.4 L280.3,266 L280.9,265.3 L281.6,264.8 L282.2,264.3 L282.9,263.8 L283.5,263.1 L284.2,262.4 L284.8,261.7 L285.5,261 L286.1,260.3 L286.8,259.5 L287.5,258.8 L288.1,258 L288.8,257.3 L289.4,256.5 L290.1,255.8 L290.7,255 L291.4,254.2 L292,253.4 L292.7,252.7 L293.3,252 L294,251.4 L294.6,251 L295.3,250.6 L295.9,250.3 L296.6,249.9 L297.2,249.7 L297.9,249.4 L298.5,249.2 L299.2,249 L299.9,248.8 L300.5,248.6 L301.2,248.4 L301.8,248.2 L302.5,248 L303.1,247.9 L303.8,247.8 L304.4,247.7 L305.1,247.7 L305.7,247.7 L306.4,247.8 L307,247.9 L307.7,248 L308.3,248.1 L309,248.3 L309.6,248.5 L310.3,248.7 L310.9,248.9 L311.6,249.1 L312.2,249.4 L312.9,249.6 L313.6,249.9 L314.2,250.4 L314.9,250.9 L315.5,251.4 L316.2,252.1 L316.8,252.8 L317.5,253.5 L318.1,254.3 L318.8,255.2 L319.4,256.1 L320.1,257 L320.7,258.2 L321.4,259.6 L322,261.1 L322.7,262.7 L323.3,264.3 L324,265.9 L324.6,267.4 L325.3,269 L326,270.6 L326.6,272.1 L327.3,273.7 L327.9,275.3 L328.6,276.9 L329.2,278.5 L329.9,280 L330.5,281.6 L331.2,283.2 L331.8,284.9 L332.5,286.6 L333.1,288.4 L333.8,290.1 L334.4,292 L335.1,293.9 L335.7,295.9 L336.4,297.8 L337,299.7 L337.7,301.6 L338.4,303.5 L339,305.3 L339.7,307.1 L340.3,309 L341,310.9 L341.6,312.7 L342.3,313.9 L342.9,314.7 L343.6,315.4 L344.2,316.1 L344.9,316.7 L345.5,317.2 L346.2,317.6 L346.8,317.8 L347.5,318 L348.1,318.1 L348.8,318.2 L349.4,318.3 L350.1,318.3 L350.7,318.4 L351.4,318.4 L351.4,321.4 L350.7,321.4 L350.1,321.3 L349.4,321.2 L348.8,321 L348.1,320.9 L347.5,320.7 L346.8,320.4 L346.2,320.2 L345.5,319.9 L344.9,319.6 L344.2,319.1 L343.6,318.4 L342.9,317.5 L342.3,316.5 L341.6,315.4 L341,314.3 L340.3,313.2 L339.7,312.2 L339,311.1 L338.4,310 L337.7,308.8 L337,307.7 L336.4,306.4 L335.7,305.2 L335.1,304 L334.4,302.8 L333.8,301.5 L333.1,300.2 L332.5,298.9 L331.8,297.6 L331.2,296.2 L330.5,294.7 L329.9,293.1 L329.2,291.5 L328.6,289.9 L327.9,288.5 L327.3,287.1 L326.6,285.7 L326,284.5 L325.3,283.7 L324.6,283.3 L324,283 L323.3,282.8 L322.7,282.7 L322,282.6 L321.4,282.7 L320.7,282.9 L320.1,283.2 L319.4,283.7 L318.8,284.2 L318.1,284.8 L317.5,285.4 L316.8,285.9 L316.2,286.5 L315.5,287.3 L314.9,288 L314.2,288.8 L313.6,289.5 L312.9,290.1 L312.2,290.6 L311.6,291 L310.9,291.4 L310.3,291.8 L309.6,292.1 L309,292.4 L308.3,292.7 L307.7,293 L307,293.2 L306.4,293.5 L305.7,293.7 L305.1,293.9 L304.4,294.1 L303.8,294.3 L303.1,294.5 L302.5,294.7 L301.8,294.8 L301.2,294.9 L300.5,295 L299.9,295 L299.2,295 L298.5,294.9 L297.9,294.8 L297.2,294.7 L296.6,294.5 L295.9,294.3 L295.3,294.1 L294.6,293.8 L294,293.6 L293.3,293.3 L292.7,292.7 L292,292.1 L291.4,291.5 L290.7,291 L290.1,290.6 L289.4,290.5 L288.8,290.7 L288.1,291 L287.5,291.5 L286.8,292.1 L286.1,292.9 L285.5,293.7 L284.8,294.5 L284.2,295.4 L283.5,296.2 L282.9,297 L282.2,297.8 L281.6,298.6 L280.9,299.5 L280.3,300.4 L279.6,301.3 L279,302.3 L278.3,303.2 L277.7,304 L277,304.9 L276.4,305.8 L275.7,306.6 L275.1,307.5 L274.4,308.3 L273.8,309 L273.1,309.7 L272.4,310.3 L271.8,310.9 L271.1,311.5 L270.5,312.1 L269.8,312.6 L269.2,313.1 L268.5,313.5 L267.9,313.9 L267.2,314.2 L266.6,314.6 L265.9,314.9 L265.3,315.2 L264.6,315.5 L264,315.8 L263.3,316.1 L262.7,316.3 L262,316.6 L261.4,316.8 L260.7,317 L260.1,317.2 L259.4,317.4 L258.7,317.6 L258.1,317.8 L257.4,318 L256.8,318.1 L256.1,318.3 L255.5,318.4 L254.8,318.5 L254.2,318.6 L253.5,318.7 L252.9,318.9 L252.2,319 L251.6,319.1 L250.9,319.2 L250.3,319.3 L249.6,319.4 L249,319.4 L248.3,319.5 L247.7,319.5 L247,319.6 L246.3,319.6 L245.7,319.5 L245,319.4 L244.4,319.3 L243.7,319.2 L243.1,319.1 L242.4,318.9 L241.8,318.8 L241.1,318.7 L240.5,318.6 L239.8,318.6 L239.2,318.5 L238.5,318.5 L237.9,318.6 L237.2,318.6 L236.6,318.7 L235.9,318.8 L235.3,318.9 L234.6,319 L233.9,319.1 L233.3,319.2 L232.6,319.3 L232,319.4 L231.3,319.5 L230.7,319.5 L230,319.6 L229.4,319.6 L228.7,319.5 L228.1,319.5 L227.4,319.4 L226.8,319.2 L226.1,319.1 L225.5,318.9 L224.8,318.8 L224.2,318.6 L223.5,318.4 L222.9,318.2 L222.2,318 L221.6,317.8 L220.9,317.5Z"/></clipPath>
<path d="M220.9,308.1 L221.6,309.1 L222.2,310 L222.9,310.8 L223.5,311.5 L224.2,312 L224.8,312.3 L225.5,312.5 L226.1,312.7 L226.8,312.8 L227.4,312.9 L228.1,313 L228.7,313.1 L229.4,313.2 L230,313.2 L230.7,313.3 L231.3,313.4 L232,313.5 L232.6,313.5 L233.3,313.6 L233.9,313.6 L234.6,313.7 L235.3,313.7 L235.9,313.8 L236.6,313.8 L237.2,313.9 L237.9,313.9 L238.5,314 L239.2,314.1 L239.8,314.1 L240.5,314.2 L241.1,314.3 L241.8,314.5 L242.4,314.6 L243.1,314.7 L243.7,314.8 L244.4,314.9 L245,315 L245.7,315 L246.3,315 L247,315 L247.7,315 L248.3,314.9 L249,314.8 L249.6,314.7 L250.3,314.5 L250.9,314.3 L251.6,314.1 L252.2,313.9 L252.9,313.6 L253.5,313.4 L254.2,313.1 L254.8,312.8 L255.5,312.3 L256.1,311.7 L256.8,311 L257.4,310.2 L258.1,309.3 L258.7,308.4 L259.4,307.5 L260.1,306.6 L260.7,305.7 L261.4,304.8 L262,303.8 L262.7,302.7 L263.3,301.7 L264,300.6 L264.6,299.6 L265.3,298.5 L265.9,297.4 L266.6,296.4 L267.2,295.3 L267.9,294.3 L268.5,293.4 L269.2,292.5 L269.8,291.6 L270.5,290.8 L271.1,289.9 L271.8,289 L272.4,288 L273.1,286.9 L273.8,285.7 L274.4,284.4 L275.1,283 L275.7,281.5 L276.4,279.8 L277,278 L277.7,276.1 L278.3,273.3 L279,270 L279.6,267.4 L280.3,266 L280.9,265.3 L281.6,264.8 L282.2,264.3 L282.9,263.8 L283.5,263.1 L284.2,262.4 L284.8,261.7 L285.5,261 L286.1,260.3 L286.8,259.5 L287.5,258.8 L288.1,258 L288.8,257.3 L289.4,256.5 L290.1,255.8 L290.7,255 L291.4,254.2 L292,253.4 L292.7,252.7 L293.3,252 L294,251.4 L294.6,251 L295.3,250.6 L295.9,250.3 L296.6,249.9 L297.2,249.7 L297.9,249.4 L298.5,249.2 L299.2,249 L299.9,248.8 L300.5,248.6 L301.2,248.4 L301.8,248.2 L302.5,248 L303.1,247.9 L303.8,247.8 L304.4,247.7 L305.1,247.7 L305.7,247.7 L306.4,247.8 L307,247.9 L307.7,248 L308.3,248.1 L309,248.3 L309.6,248.5 L310.3,248.7 L310.9,248.9 L311.6,249.1 L312.2,249.4 L312.9,249.6 L313.6,249.9 L314.2,250.4 L314.9,250.9 L315.5,251.4 L316.2,252.1 L316.8,252.8 L317.5,253.5 L318.1,254.3 L318.8,255.2 L319.4,256.1 L320.1,257 L320.7,258.2 L321.4,259.6 L322,261.1 L322.7,262.7 L323.3,264.3 L324,265.9 L324.6,267.4 L325.3,269 L326,270.6 L326.6,272.1 L327.3,273.7 L327.9,275.3 L328.6,276.9 L329.2,278.5 L329.9,280 L330.5,281.6 L331.2,283.2 L331.8,284.9 L332.5,286.6 L333.1,288.4 L333.8,290.1 L334.4,292 L335.1,293.9 L335.7,295.9 L336.4,297.8 L337,299.7 L337.7,301.6 L338.4,303.5 L339,305.3 L339.7,307.1 L340.3,309 L341,310.9 L341.6,312.7 L342.3,313.9 L342.9,314.7 L343.6,315.4 L344.2,316.1 L344.9,316.7 L345.5,317.2 L346.2,317.6 L346.8,317.8 L347.5,318 L348.1,318.1 L348.8,318.2 L349.4,318.3 L350.1,318.3 L350.7,318.4 L351.4,318.4 L351.4,321.4 L350.7,321.4 L350.1,321.3 L349.4,321.2 L348.8,321 L348.1,320.9 L347.5,320.7 L346.8,320.4 L346.2,320.2 L345.5,319.9 L344.9,319.6 L344.2,319.1 L343.6,318.4 L342.9,317.5 L342.3,316.5 L341.6,315.4 L341,314.3 L340.3,313.2 L339.7,312.2 L339,311.1 L338.4,310 L337.7,308.8 L337,307.7 L336.4,306.4 L335.7,305.2 L335.1,304 L334.4,302.8 L333.8,301.5 L333.1,300.2 L332.5,298.9 L331.8,297.6 L331.2,296.2 L330.5,294.7 L329.9,293.1 L329.2,291.5 L328.6,289.9 L327.9,288.5 L327.3,287.1 L326.6,285.7 L326,284.5 L325.3,283.7 L324.6,283.3 L324,283 L323.3,282.8 L322.7,282.7 L322,282.6 L321.4,282.7 L320.7,282.9 L320.1,283.2 L319.4,283.7 L318.8,284.2 L318.1,284.8 L317.5,285.4 L316.8,285.9 L316.2,286.5 L315.5,287.3 L314.9,288 L314.2,288.8 L313.6,289.5 L312.9,290.1 L312.2,290.6 L311.6,291 L310.9,291.4 L310.3,291.8 L309.6,292.1 L309,292.4 L308.3,292.7 L307.7,293 L307,293.2 L306.4,293.5 L305.7,293.7 L305.1,293.9 L304.4,294.1 L303.8,294.3 L303.1,294.5 L302.5,294.7 L301.8,294.8 L301.2,294.9 L300.5,295 L299.9,295 L299.2,295 L298.5,294.9 L297.9,294.8 L297.2,294.7 L296.6,294.5 L295.9,294.3 L295.3,294.1 L294.6,293.8 L294,293.6 L293.3,293.3 L292.7,292.7 L292,292.1 L291.4,291.5 L290.7,291 L290.1,290.6 L289.4,290.5 L288.8,290.7 L288.1,291 L287.5,291.5 L286.8,292.1 L286.1,292.9 L285.5,293.7 L284.8,294.5 L284.2,295.4 L283.5,296.2 L282.9,297 L282.2,297.8 L281.6,298.6 L280.9,299.5 L280.3,300.4 L279.6,301.3 L279,302.3 L278.3,303.2 L277.7,304 L277,304.9 L276.4,305.8 L275.7,306.6 L275.1,307.5 L274.4,308.3 L273.8,309 L273.1,309.7 L272.4,310.3 L271.8,310.9 L271.1,311.5 L270.5,312.1 L269.8,312.6 L269.2,313.1 L268.5,313.5 L267.9,313.9 L267.2,314.2 L266.6,314.6 L265.9,314.9 L265.3,315.2 L264.6,315.5 L264,315.8 L263.3,316.1 L262.7,316.3 L262,316.6 L261.4,316.8 L260.7,317 L260.1,317.2 L259.4,317.4 L258.7,317.6 L258.1,317.8 L257.4,318 L256.8,318.1 L256.1,318.3 L255.5,318.4 L254.8,318.5 L254.2,318.6 L253.5,318.7 L252.9,318.9 L252.2,319 L251.6,319.1 L250.9,319.2 L250.3,319.3 L249.6,319.4 L249,319.4 L248.3,319.5 L247.7,319.5 L247,319.6 L246.3,319.6 L245.7,319.5 L245,319.4 L244.4,319.3 L243.7,319.2 L243.1,319.1 L242.4,318.9 L241.8,318.8 L241.1,318.7 L240.5,318.6 L239.8,318.6 L239.2,318.5 L238.5,318.5 L237.9,318.6 L237.2,318.6 L236.6,318.7 L235.9,318.8 L235.3,318.9 L234.6,319 L233.9,319.1 L233.3,319.2 L232.6,319.3 L232,319.4 L231.3,319.5 L230.7,319.5 L230,319.6 L229.4,319.6 L228.7,319.5 L228.1,319.5 L227.4,319.4 L226.8,319.2 L226.1,319.1 L225.5,318.9 L224.8,318.8 L224.2,318.6 L223.5,318.4 L222.9,318.2 L222.2,318 L221.6,317.8 L220.9,317.5Z" fill="#bebebe"/>
<path d="M220.9,304.2 L221.6,306.1 L222.2,307.8 L222.9,309.2 L223.5,310.2 L224.2,310.9 L224.8,311.6 L225.5,312.1 L226.1,312.5 L226.8,312.8 L227.4,312.8 L228.1,312.7 L228.7,312.5 L229.4,312.2 L230,311.8 L230.7,311.4 L231.3,310.8 L232,310.3 L232.6,309.6 L233.3,308.9 L233.9,308.2 L234.6,307.4 L235.3,306 L235.9,304 L236.6,301.8 L237.2,299.6 L237.9,297.7 L238.5,296.3 L239.2,295.8 L239.8,296 L240.5,296.6 L241.1,297.4 L241.8,298.4 L242.4,299.4 L243.1,300.4 L243.7,301.2 L244.4,301.7 L245,302.3 L245.7,302.8 L246.3,303.2 L247,303.5 L247.7,303.7 L248.3,303.8 L249,304 L249.6,304.1 L250.3,304.2 L250.9,304.2 L251.6,304.2 L252.2,304.2 L252.9,304.2 L253.5,304.2 L254.2,304.2 L254.8,304.2 L255.5,303.9 L256.1,303.4 L256.8,302.5 L257.4,301.4 L258.1,300.1 L258.7,298.6 L259.4,297 L260.1,295.3 L260.7,293.6 L261.4,291.9 L262,290.2 L262.7,288.6 L263.3,287.1 L264,285.5 L264.6,283.9 L265.3,282.2 L265.9,280.4 L266.6,278.7 L267.2,277.1 L267.9,275.7 L268.5,274.4 L269.2,273.1 L269.8,271.9 L270.5,270.7 L271.1,269.6 L271.8,268.6 L272.4,267.6 L273.1,266.6 L273.8,265.6 L274.4,264.7 L275.1,263.7 L275.7,262.9 L276.4,262.1 L277,261.4 L277.7,260.9 L278.3,260.6 L279,260.2 L279.6,260 L280.3,259.8 L280.9,259.5 L281.6,259.3 L282.2,259 L282.9,258.6 L283.5,258.1 L284.2,257.4 L284.8,256.7 L285.5,255.9 L286.1,255 L286.8,254.2 L287.5,253.4 L288.1,252.6 L288.8,251.9 L289.4,251.4 L290.1,251 L290.7,250.6 L291.4,250.2 L292,249.8 L292.7,249.4 L293.3,249.1 L294,248.7 L294.6,248.4 L295.3,248.2 L295.9,247.9 L296.6,247.7 L297.2,247.5 L297.9,247.4 L298.5,247.3 L299.2,247.1 L299.9,247 L300.5,246.9 L301.2,246.8 L301.8,246.7 L302.5,246.7 L303.1,246.6 L303.8,246.5 L304.4,246.5 L305.1,246.5 L305.7,246.5 L306.4,246.6 L307,246.6 L307.7,246.8 L308.3,246.9 L309,247.1 L309.6,247.4 L310.3,247.6 L310.9,247.8 L311.6,248.1 L312.2,248.4 L312.9,248.7 L313.6,249.2 L314.2,249.7 L314.9,250.2 L315.5,250.8 L316.2,251.5 L316.8,252.2 L317.5,253.2 L318.1,254.3 L318.8,255.5 L319.4,256.7 L320.1,258 L320.7,259.1 L321.4,260.2 L322,261.2 L322.7,262.3 L323.3,263.5 L324,264.9 L324.6,266.5 L325.3,268.2 L326,270.2 L326.6,272.5 L327.3,274.8 L327.9,277 L328.6,279 L329.2,281 L329.9,282.8 L330.5,284.7 L331.2,286.5 L331.8,288.3 L332.5,290 L333.1,291.7 L333.8,293.4 L334.4,295.2 L335.1,297 L335.7,298.8 L336.4,300.7 L337,302.5 L337.7,304.3 L338.4,305.9 L339,307.5 L339.7,309.2 L340.3,311.1 L341,313.1 L341.6,315 L342.3,316.3 L342.9,317.4 L343.6,318.3 L344.2,319.1 L344.9,319.6 L345.5,319.9 L346.2,320.1 L346.8,320.3 L347.5,320.4 L348.1,320.5 L348.8,320.6 L349.4,320.7 L350.1,320.8 L350.7,320.8 L351.4,320.8 L351.4,321.9 L350.7,321.9 L350.1,321.9 L349.4,321.8 L348.8,321.8 L348.1,321.7 L347.5,321.6 L346.8,321.5 L346.2,321.4 L345.5,321.2 L344.9,320.9 L344.2,320.6 L343.6,320.2 L342.9,319.8 L342.3,319.3 L341.6,318.7 L341,318.1 L340.3,317.5 L339.7,316.5 L339,315.2 L338.4,313.6 L337.7,311.9 L337,310.1 L336.4,308.3 L335.7,306.7 L335.1,305.2 L334.4,303.6 L333.8,302.1 L333.1,300.6 L332.5,299 L331.8,297.4 L331.2,295.8 L330.5,294.1 L329.9,292.5 L329.2,290.7 L328.6,289 L327.9,287.3 L327.3,285.5 L326.6,283.7 L326,282 L325.3,280.1 L324.6,278.4 L324,276.7 L323.3,275 L322.7,273.4 L322,272 L321.4,270.7 L320.7,269.9 L320.1,269.1 L319.4,268.5 L318.8,267.9 L318.1,267.3 L317.5,266.8 L316.8,266.4 L316.2,266.1 L315.5,265.8 L314.9,265.6 L314.2,265.4 L313.6,265.3 L312.9,265.1 L312.2,265 L311.6,264.9 L310.9,264.8 L310.3,264.7 L309.6,264.6 L309,264.6 L308.3,264.5 L307.7,264.5 L307,264.5 L306.4,264.5 L305.7,264.5 L305.1,264.5 L304.4,264.6 L303.8,264.6 L303.1,264.6 L302.5,264.7 L301.8,264.7 L301.2,264.7 L300.5,264.8 L299.9,264.8 L299.2,264.9 L298.5,264.9 L297.9,265 L297.2,265 L296.6,265.1 L295.9,265.1 L295.3,265.2 L294.6,265.2 L294,265.3 L293.3,265.4 L292.7,265.4 L292,265.5 L291.4,265.6 L290.7,265.8 L290.1,265.9 L289.4,266 L288.8,266.3 L288.1,267 L287.5,268 L286.8,269.3 L286.1,270.8 L285.5,272.3 L284.8,273.9 L284.2,275.4 L283.5,276.7 L282.9,277.8 L282.2,278.6 L281.6,279.4 L280.9,280.1 L280.3,280.8 L279.6,281.5 L279,282.2 L278.3,282.9 L277.7,283.6 L277,284.5 L276.4,285.4 L275.7,286.3 L275.1,287.2 L274.4,288.1 L273.8,289.1 L273.1,290 L272.4,290.9 L271.8,291.8 L271.1,292.7 L270.5,293.7 L269.8,294.6 L269.2,295.5 L268.5,296.3 L267.9,297.2 L267.2,297.9 L266.6,298.7 L265.9,299.4 L265.3,300.1 L264.6,300.8 L264,301.5 L263.3,302.2 L262.7,302.9 L262,303.7 L261.4,304.4 L260.7,305.2 L260.1,306.1 L259.4,307.1 L258.7,308.2 L258.1,309.5 L257.4,310.7 L256.8,311.9 L256.1,313 L255.5,313.8 L254.8,314.3 L254.2,314.6 L253.5,314.8 L252.9,315 L252.2,315.2 L251.6,315.4 L250.9,315.5 L250.3,315.6 L249.6,315.7 L249,315.7 L248.3,315.7 L247.7,315.6 L247,315.6 L246.3,315.5 L245.7,315.4 L245,315.4 L244.4,315.3 L243.7,315.2 L243.1,315.2 L242.4,315.1 L241.8,315.1 L241.1,315.1 L240.5,315 L239.8,315 L239.2,315 L238.5,315 L237.9,315.1 L237.2,315.3 L236.6,315.4 L235.9,315.6 L235.3,315.9 L234.6,316.1 L233.9,316.4 L233.3,316.6 L232.6,316.8 L232,317 L231.3,317.2 L230.7,317.3 L230,317.4 L229.4,317.4 L228.7,317.3 L228.1,317.1 L227.4,316.8 L226.8,316.5 L226.1,316.2 L225.5,315.8 L224.8,315.4 L224.2,315 L223.5,314.4 L222.9,313.8 L222.2,313 L221.6,312.2 L220.9,311.4Z" fill="rgb(247,152,152)"/>
<path d="M220.9,304.2 L221.6,306.1 L222.2,307.8 L222.9,309.2 L223.5,310.2 L224.2,310.9 L224.8,311.6 L225.5,312.1 L226.1,312.5 L226.8,312.8 L227.4,312.8 L228.1,312.7 L228.7,312.5 L229.4,312.2 L230,311.8 L230.7,311.4 L231.3,310.8 L232,310.3 L232.6,309.6 L233.3,308.9 L233.9,308.2 L234.6,307.4 L235.3,306 L235.9,304 L236.6,301.8 L237.2,299.6 L237.9,297.7 L238.5,296.3 L239.2,295.8 L239.8,296 L240.5,296.6 L241.1,297.4 L241.8,298.4 L242.4,299.4 L243.1,300.4 L243.7,301.2 L244.4,301.7 L245,302.3 L245.7,302.8 L246.3,303.2 L247,303.5 L247.7,303.7 L248.3,303.8 L249,304 L249.6,304.1 L250.3,304.2 L250.9,304.2 L251.6,304.2 L252.2,304.2 L252.9,304.2 L253.5,304.2 L254.2,304.2 L254.8,304.2 L255.5,303.9 L256.1,303.4 L256.8,302.5 L257.4,301.4 L258.1,300.1 L258.7,298.6 L259.4,297 L260.1,295.3 L260.7,293.6 L261.4,291.9 L262,290.2 L262.7,288.6 L263.3,287.1 L264,285.5 L264.6,283.9 L265.3,282.2 L265.9,280.4 L266.6,278.7 L267.2,277.1 L267.9,275.7 L268.5,274.4 L269.2,273.1 L269.8,271.9 L270.5,270.7 L271.1,269.6 L271.8,268.6 L272.4,267.6 L273.1,266.6 L273.8,265.6 L274.4,264.7 L275.1,263.7 L275.7,262.9 L276.4,262.1 L277,261.4 L277.7,260.9 L278.3,260.6 L279,260.2 L279.6,260 L280.3,259.8 L280.9,259.5 L281.6,259.3 L282.2,259 L282.9,258.6 L283.5,258.1 L284.2,257.4 L284.8,256.7 L285.5,255.9 L286.1,255 L286.8,254.2 L287.5,253.4 L288.1,252.6 L288.8,251.9 L289.4,251.4 L290.1,251 L290.7,250.6 L291.4,250.2 L292,249.8 L292.7,249.4 L293.3,249.1 L294,248.7 L294.6,248.4 L295.3,248.2 L295.9,247.9 L296.6,247.7 L297.2,247.5 L297.9,247.4 L298.5,247.3 L299.2,247.1 L299.9,247 L300.5,246.9 L301.2,246.8 L301.8,246.7 L302.5,246.7 L303.1,246.6 L303.8,246.5 L304.4,246.5 L305.1,246.5 L305.7,246.5 L306.4,246.6 L307,246.6 L307.7,246.8 L308.3,246.9 L309,247.1 L309.6,247.4 L310.3,247.6 L310.9,247.8 L311.6,248.1 L312.2,248.4 L312.9,248.7 L313.6,249.2 L314.2,249.7 L314.9,250.2 L315.5,250.8 L316.2,251.5 L316.8,252.2 L317.5,253.2 L318.1,254.3 L318.8,255.5 L319.4,256.7 L320.1,258 L320.7,259.1 L321.4,260.2 L322,261.2 L322.7,262.3 L323.3,263.5 L324,264.9 L324.6,266.5 L325.3,268.2 L326,270.2 L326.6,272.5 L327.3,274.8 L327.9,277 L328.6,279 L329.2,281 L329.9,282.8 L330.5,284.7 L331.2,286.5 L331.8,288.3 L332.5,290 L333.1,291.7 L333.8,293.4 L334.4,295.2 L335.1,297 L335.7,298.8 L336.4,300.7 L337,302.5 L337.7,304.3 L338.4,305.9 L339,307.5 L339.7,309.2 L340.3,311.1 L341,313.1 L341.6,315 L342.3,316.3 L342.9,317.4 L343.6,318.3 L344.2,319.1 L344.9,319.6 L345.5,319.9 L346.2,320.1 L346.8,320.3 L347.5,320.4 L348.1,320.5 L348.8,320.6 L349.4,320.7 L350.1,320.8 L350.7,320.8 L351.4,320.8 L351.4,321.9 L350.7,321.9 L350.1,321.9 L349.4,321.8 L348.8,321.8 L348.1,321.7 L347.5,321.6 L346.8,321.5 L346.2,321.4 L345.5,321.2 L344.9,320.9 L344.2,320.6 L343.6,320.2 L342.9,319.8 L342.3,319.3 L341.6,318.7 L341,318.1 L340.3,317.5 L339.7,316.5 L339,315.2 L338.4,313.6 L337.7,311.9 L337,310.1 L336.4,308.3 L335.7,306.7 L335.1,305.2 L334.4,303.6 L333.8,302.1 L333.1,300.6 L332.5,299 L331.8,297.4 L331.2,295.8 L330.5,294.1 L329.9,292.5 L329.2,290.7 L328.6,289 L327.9,287.3 L327.3,285.5 L326.6,283.7 L326,282 L325.3,280.1 L324.6,278.4 L324,276.7 L323.3,275 L322.7,273.4 L322,272 L321.4,270.7 L320.7,269.9 L320.1,269.1 L319.4,268.5 L318.8,267.9 L318.1,267.3 L317.5,266.8 L316.8,266.4 L316.2,266.1 L315.5,265.8 L314.9,265.6 L314.2,265.4 L313.6,265.3 L312.9,265.1 L312.2,265 L311.6,264.9 L310.9,264.8 L310.3,264.7 L309.6,264.6 L309,264.6 L308.3,264.5 L307.7,264.5 L307,264.5 L306.4,264.5 L305.7,264.5 L305.1,264.5 L304.4,264.6 L303.8,264.6 L303.1,264.6 L302.5,264.7 L301.8,264.7 L301.2,264.7 L300.5,264.8 L299.9,264.8 L299.2,264.9 L298.5,264.9 L297.9,265 L297.2,265 L296.6,265.1 L295.9,265.1 L295.3,265.2 L294.6,265.2 L294,265.3 L293.3,265.4 L292.7,265.4 L292,265.5 L291.4,265.6 L290.7,265.8 L290.1,265.9 L289.4,266 L288.8,266.3 L288.1,267 L287.5,268 L286.8,269.3 L286.1,270.8 L285.5,272.3 L284.8,273.9 L284.2,275.4 L283.5,276.7 L282.9,277.8 L282.2,278.6 L281.6,279.4 L280.9,280.1 L280.3,280.8 L279.6,281.5 L279,282.2 L278.3,282.9 L277.7,283.6 L277,284.5 L276.4,285.4 L275.7,286.3 L275.1,287.2 L274.4,288.1 L273.8,289.1 L273.1,290 L272.4,290.9 L271.8,291.8 L271.1,292.7 L270.5,293.7 L269.8,294.6 L269.2,295.5 L268.5,296.3 L267.9,297.2 L267.2,297.9 L266.6,298.7 L265.9,299.4 L265.3,300.1 L264.6,300.8 L264,301.5 L263.3,302.2 L262.7,302.9 L262,303.7 L261.4,304.4 L260.7,305.2 L260.1,306.1 L259.4,307.1 L258.7,308.2 L258.1,309.5 L257.4,310.7 L256.8,311.9 L256.1,313 L255.5,313.8 L254.8,314.3 L254.2,314.6 L253.5,314.8 L252.9,315 L252.2,315.2 L251.6,315.4 L250.9,315.5 L250.3,315.6 L249.6,315.7 L249,315.7 L248.3,315.7 L247.7,315.6 L247,315.6 L246.3,315.5 L245.7,315.4 L245,315.4 L244.4,315.3 L243.7,315.2 L243.1,315.2 L242.4,315.1 L241.8,315.1 L241.1,315.1 L240.5,315 L239.8,315 L239.2,315 L238.5,315 L237.9,315.1 L237.2,315.3 L236.6,315.4 L235.9,315.6 L235.3,315.9 L234.6,316.1 L233.9,316.4 L233.3,316.6 L232.6,316.8 L232,317 L231.3,317.2 L230.7,317.3 L230,317.4 L229.4,317.4 L228.7,317.3 L228.1,317.1 L227.4,316.8 L226.8,316.5 L226.1,316.2 L225.5,315.8 L224.8,315.4 L224.2,315 L223.5,314.4 L222.9,313.8 L222.2,313 L221.6,312.2 L220.9,311.4Z" fill="rgb(235,102,102)" clip-path="url(#c5)"/>
<path d="M220.9,312.8 L221.6,313.4 L222.2,314 L222.9,314.5 L223.5,314.9 L224.2,315.2 L224.8,315.4 L225.5,315.5 L226.1,315.7 L226.8,315.8 L227.4,315.9 L228.1,315.9 L228.7,316 L229.4,316 L230,316 L230.7,316 L231.3,316 L232,316 L232.6,316 L233.3,316 L233.9,316 L234.6,316 L235.3,316 L235.9,316 L236.6,316 L237.2,316 L237.9,316 L238.5,316 L239.2,316 L239.8,316 L240.5,316.1 L241.1,316.1 L241.8,316.2 L242.4,316.4 L243.1,316.5 L243.7,316.6 L244.4,316.7 L245,316.8 L245.7,316.9 L246.3,316.9 L247,316.9 L247.7,316.9 L248.3,316.8 L249,316.8 L249.6,316.7 L250.3,316.6 L250.9,316.4 L251.6,316.3 L252.2,316.1 L252.9,315.9 L253.5,315.8 L254.2,315.6 L254.8,315.4 L255.5,315.1 L256.1,314.8 L256.8,314.3 L257.4,313.9 L258.1,313.4 L258.7,312.8 L259.4,312.3 L260.1,311.8 L260.7,311.3 L261.4,310.7 L262,310.2 L262.7,309.6 L263.3,309.1 L264,308.5 L264.6,307.9 L265.3,307.2 L265.9,306.5 L266.6,305.9 L267.2,305.1 L267.9,304.4 L268.5,303.5 L269.2,302.7 L269.8,301.7 L270.5,300.7 L271.1,299.6 L271.8,298.5 L272.4,297.4 L273.1,296.2 L273.8,295 L274.4,293.6 L275.1,292.2 L275.7,290.8 L276.4,289.4 L277,288.2 L277.7,287.2 L278.3,286.3 L279,285.6 L279.6,284.8 L280.3,284.2 L280.9,283.5 L281.6,282.8 L282.2,282.2 L282.9,281.4 L283.5,280.6 L284.2,279.6 L284.8,278.5 L285.5,277.4 L286.1,276.3 L286.8,275.3 L287.5,274.4 L288.1,273.7 L288.8,273.2 L289.4,273 L290.1,273 L290.7,273.1 L291.4,273.2 L292,273.3 L292.7,273.5 L293.3,273.7 L294,273.8 L294.6,274 L295.3,274.1 L295.9,274.2 L296.6,274.2 L297.2,274.2 L297.9,274.1 L298.5,273.9 L299.2,273.7 L299.9,273.4 L300.5,273.1 L301.2,272.7 L301.8,272.4 L302.5,272 L303.1,271.7 L303.8,271.4 L304.4,271.1 L305.1,270.9 L305.7,270.7 L306.4,270.6 L307,270.6 L307.7,270.5 L308.3,270.5 L309,270.4 L309.6,270.4 L310.3,270.4 L310.9,270.3 L311.6,270.3 L312.2,270.3 L312.9,270.2 L313.6,270.2 L314.2,270.2 L314.9,270.2 L315.5,270.1 L316.2,270.1 L316.8,270.1 L317.5,270.1 L318.1,270.1 L318.8,270.1 L319.4,270.3 L320.1,270.6 L320.7,271 L321.4,271.5 L322,272 L322.7,272.6 L323.3,273.1 L324,273.8 L324.6,274.6 L325.3,275.5 L326,276.6 L326.6,277.6 L327.3,278.8 L327.9,280 L328.6,281.2 L329.2,282.7 L329.9,284.2 L330.5,285.8 L331.2,287.4 L331.8,289.1 L332.5,290.8 L333.1,292.6 L333.8,294.4 L334.4,296.1 L335.1,297.8 L335.7,299.5 L336.4,301.2 L337,302.9 L337.7,304.5 L338.4,306.3 L339,308 L339.7,309.7 L340.3,311.2 L341,312.4 L341.6,313.7 L342.3,314.9 L342.9,316 L343.6,316.9 L344.2,317.7 L344.9,318.3 L345.5,318.6 L346.2,318.8 L346.8,319 L347.5,319.2 L348.1,319.3 L348.8,319.4 L349.4,319.6 L350.1,319.7 L350.7,319.8 L351.4,319.9" fill="none" stroke="#2a2a2a" stroke-width="0.55"/>
<path d="M220.9,307.6 L221.6,308.9 L222.2,309.9 L222.9,310.7 L223.5,311.3 L224.2,311.8 L224.8,312.2 L225.5,312.6 L226.1,312.8 L226.8,313 L227.4,313.2 L228.1,313.4 L228.7,313.5 L229.4,313.6 L230,313.6 L230.7,313.4 L231.3,313.2 L232,313 L232.6,312.7 L233.3,312.4 L233.9,312 L234.6,311.7 L235.3,311.1 L235.9,310.5 L236.6,309.9 L237.2,309.3 L237.9,308.8 L238.5,308.5 L239.2,308.3 L239.8,308.3 L240.5,308.2 L241.1,308.2 L241.8,308.2 L242.4,308.2 L243.1,308.1 L243.7,308.2 L244.4,308.5 L245,308.7 L245.7,309 L246.3,309.2 L247,309.2 L247.7,309.2 L248.3,309.1 L249,309.1 L249.6,309 L250.3,309 L250.9,308.9 L251.6,308.8 L252.2,308.7 L252.9,308.5 L253.5,308.4 L254.2,308.3 L254.8,308.1 L255.5,307.8 L256.1,307.2 L256.8,306.5 L257.4,305.5 L258.1,304.5 L258.7,303.3 L259.4,302 L260.1,300.7 L260.7,299.4 L261.4,298 L262,296.7 L262.7,295.5 L263.3,294.4 L264,293.3 L264.6,292.2 L265.3,291.1 L265.9,289.9 L266.6,288.8 L267.2,287.6 L267.9,286.4 L268.5,285.2 L269.2,283.9 L269.8,282.5 L270.5,281.1 L271.1,279.7 L271.8,278.4 L272.4,277.2 L273.1,276.2 L273.8,275.2 L274.4,274.3 L275.1,273.5 L275.7,272.7 L276.4,271.9 L277,271.2 L277.7,270.5 L278.3,269.9 L279,269.3 L279.6,268.8 L280.3,268.3 L280.9,267.8 L281.6,267.3 L282.2,266.7 L282.9,266.1 L283.5,265.4 L284.2,264.7 L284.8,263.8 L285.5,263 L286.1,262.1 L286.8,261.3 L287.5,260.5 L288.1,259.8 L288.8,259.2 L289.4,258.8 L290.1,258.5 L290.7,258.3 L291.4,258 L292,257.8 L292.7,257.6 L293.3,257.5 L294,257.3 L294.6,257.2 L295.3,257 L295.9,256.9 L296.6,256.7 L297.2,256.6 L297.9,256.5 L298.5,256.3 L299.2,256.2 L299.9,256.1 L300.5,256 L301.2,256 L301.8,255.9 L302.5,255.9 L303.1,255.9 L303.8,255.9 L304.4,255.9 L305.1,255.9 L305.7,256 L306.4,256 L307,256 L307.7,256.1 L308.3,256.1 L309,256.2 L309.6,256.3 L310.3,256.3 L310.9,256.4 L311.6,256.5 L312.2,256.6 L312.9,256.8 L313.6,257.1 L314.2,257.5 L314.9,258 L315.5,258.5 L316.2,259 L316.8,259.6 L317.5,260.2 L318.1,260.8 L318.8,261.4 L319.4,262 L320.1,262.7 L320.7,263.4 L321.4,264.2 L322,265 L322.7,265.9 L323.3,266.9 L324,268 L324.6,269.3 L325.3,270.8 L326,272.5 L326.6,274.3 L327.3,276.2 L327.9,278.2 L328.6,280.2 L329.2,282.1 L329.9,284.1 L330.5,285.9 L331.2,287.8 L331.8,289.8 L332.5,291.9 L333.1,293.9 L333.8,295.9 L334.4,297.8 L335.1,299.7 L335.7,301.5 L336.4,303.1 L337,304.7 L337.7,306.3 L338.4,307.9 L339,309.4 L339.7,310.8 L340.3,312.1 L341,313.3 L341.6,314.2 L342.3,315 L342.9,315.8 L343.6,316.5 L344.2,317.1 L344.9,317.8 L345.5,318.4 L346.2,318.9 L346.8,319.4 L347.5,319.8 L348.1,320.2 L348.8,320.5 L349.4,320.7 L350.1,320.8 L350.7,320.9 L351.4,320.9" fill="none" stroke="#f01010" stroke-width="0.9"/>
<rect x="220.9" y="219.4" width="130.5" height="103.8" fill="none" stroke="#8a8a8a" stroke-width="0.8"/>
<path d="M220.9,323.2v1.6 M233.9,323.2v1.0 M247,323.2v1.6 M260.1,323.2v1.0 M273.1,323.2v1.6 M286.1,323.2v1.0 M299.2,323.2v1.6 M312.2,323.2v1.0 M325.3,323.2v1.6 M338.4,323.2v1.0 M351.4,323.2v1.6 M220.9,323.2h-1.6 M220.9,310.2h-1.0 M220.9,297.2h-1.6 M220.9,284.3h-1.0 M220.9,271.3h-1.6 M220.9,258.3h-1.0 M220.9,245.4h-1.6 M220.9,232.4h-1.0 M220.9,219.4h-1.6" stroke="#8a8a8a" stroke-width="0.6" fill="none"/>
<text x="220.9" y="331" text-anchor="middle" class="b" font-family="'Liberation Serif','Times New Roman',serif" font-weight="bold" font-size="5.4">0</text>
<text x="247" y="331" text-anchor="middle" class="b" font-family="'Liberation Serif','Times New Roman',serif" font-weight="bold" font-size="5.4">20</text>
<text x="273.1" y="331" text-anchor="middle" class="b" font-family="'Liberation Serif','Times New Roman',serif" font-weight="bold" font-size="5.4">40</text>
<text x="299.2" y="331" text-anchor="middle" class="b" font-family="'Liberation Serif','Times New Roman',serif" font-weight="bold" font-size="5.4">60</text>
<text x="325.3" y="331" text-anchor="middle" class="b" font-family="'Liberation Serif','Times New Roman',serif" font-weight="bold" font-size="5.4">80</text>
<text x="351.4" y="331" text-anchor="middle" class="b" font-family="'Liberation Serif','Times New Roman',serif" font-weight="bold" font-size="5.4">100</text>
<text x="218.3" y="325" text-anchor="end" class="b" font-family="'Liberation Serif','Times New Roman',serif" font-weight="bold" font-size="5.4">0</text>
<text x="218.3" y="299.1" text-anchor="end" class="b" font-family="'Liberation Serif','Times New Roman',serif" font-weight="bold" font-size="5.4">500</text>
<text x="218.3" y="273.1" text-anchor="end" class="b" font-family="'Liberation Serif','Times New Roman',serif" font-weight="bold" font-size="5.4">1000</text>
<text x="218.3" y="247.2" text-anchor="end" class="b" font-family="'Liberation Serif','Times New Roman',serif" font-weight="bold" font-size="5.4">1500</text>
<text x="218.3" y="221.2" text-anchor="end" class="b" font-family="'Liberation Serif','Times New Roman',serif" font-weight="bold" font-size="5.4">2000</text>
<text x="282.7" y="217.6" text-anchor="middle" class="b" font-family="'Liberation Serif','Times New Roman',serif" font-weight="bold" font-size="6.85">Medial Gastrocnemius</text>
<text x="285.6" y="338.1" text-anchor="middle" class="b" font-family="'Liberation Serif','Times New Roman',serif" font-weight="bold" font-size="6.85">Stance phase (%)</text>
<text transform="translate(203.2,271.5) rotate(-90)" text-anchor="middle" class="b" font-family="'Liberation Serif','Times New Roman',serif" font-weight="bold" font-size="6.85">Muscle Force (N)</text>
<path d="M225.2,226.4h10.2" stroke="#555" stroke-width="0.6"/>
<path d="M225.2,232.5h10.2" stroke="#f06868" stroke-width="0.6"/>
<text x="237.8" y="228" class="b" font-family="'Liberation Serif','Times New Roman',serif" font-weight="bold" font-size="5.0">NS</text>
<text x="237.8" y="234.1" class="b" font-family="'Liberation Serif','Times New Roman',serif" font-weight="bold" font-size="5.0">BS</text>
<clipPath id="c6"><path d="M408.5,310.2 L409.2,309.4 L409.8,308.5 L410.5,307.7 L411.1,306.9 L411.8,306.2 L412.4,305.5 L413.1,304.8 L413.7,304.2 L414.4,303.7 L415,303.2 L415.7,302.8 L416.3,302.5 L417,302.3 L417.6,302.1 L418.3,302 L418.9,301.8 L419.6,301.7 L420.2,301.6 L420.9,301.6 L421.5,301.5 L422.2,301.4 L422.8,301.3 L423.5,301.2 L424.1,301.1 L424.8,300.9 L425.4,300.7 L426.1,300.5 L426.7,300.1 L427.4,299.6 L428,298.9 L428.7,298.1 L429.3,297.2 L430,296.2 L430.6,295.2 L431.3,294.3 L431.9,293.4 L432.6,292.5 L433.2,291.5 L433.9,290.6 L434.5,289.6 L435.2,288.6 L435.8,287.6 L436.5,286.6 L437.1,285.6 L437.8,284.6 L438.4,283.6 L439.1,282.5 L439.7,281.5 L440.4,280.3 L441,279.1 L441.7,277.5 L442.3,275.4 L443,273.2 L443.6,271 L444.3,269.3 L444.9,268.2 L445.6,268.1 L446.2,268.7 L446.9,269.7 L447.5,271 L448.2,272.4 L448.8,273.9 L449.5,275.7 L450.1,278.2 L450.8,280.9 L451.4,283.5 L452.1,285.7 L452.7,287 L453.4,287.2 L454,286.8 L454.7,285.9 L455.3,284.8 L456,283.5 L456.6,282.1 L457.3,280.7 L457.9,279.4 L458.6,278.4 L459.2,277.7 L459.9,277.1 L460.5,276.6 L461.2,276.1 L461.8,275.6 L462.5,275.2 L463.1,274.8 L463.8,274.4 L464.4,274.2 L465.1,273.9 L465.7,273.8 L466.4,273.8 L467,273.9 L467.7,274.1 L468.3,274.3 L469,274.6 L469.6,274.8 L470.3,274.8 L470.9,274.7 L471.6,274.4 L472.2,274.1 L472.9,273.6 L473.6,273.2 L474.2,272.6 L474.9,272.1 L475.5,271.3 L476.2,270.3 L476.8,268.9 L477.5,267.5 L478.1,266.2 L478.8,265 L479.4,264.3 L480.1,263.8 L480.7,263.4 L481.4,263 L482,262.7 L482.7,262.4 L483.3,262.1 L484,261.8 L484.6,261.5 L485.3,261.3 L485.9,261.1 L486.6,260.9 L487.2,260.8 L487.9,260.6 L488.5,260.5 L489.2,260.4 L489.8,260.3 L490.5,260.2 L491.1,260.1 L491.8,260 L492.4,259.9 L493.1,259.9 L493.7,259.8 L494.4,259.7 L495,259.7 L495.7,259.7 L496.3,259.6 L497,259.6 L497.6,259.6 L498.3,259.7 L498.9,259.7 L499.6,259.8 L500.2,259.9 L500.9,260 L501.5,260.1 L502.2,260.2 L502.8,260.3 L503.5,260.5 L504.1,260.6 L504.8,260.8 L505.4,261 L506.1,261.2 L506.7,261.4 L507.4,261.7 L508,262.1 L508.7,262.5 L509.3,263.1 L510,263.7 L510.6,264.3 L511.3,265 L511.9,265.8 L512.6,266.6 L513.2,267.7 L513.9,268.9 L514.5,270.3 L515.2,271.8 L515.8,273.5 L516.5,275.2 L517.1,277 L517.8,278.9 L518.4,280.8 L519.1,282.9 L519.7,285.3 L520.4,287.9 L521,290.5 L521.7,293.2 L522.3,295.7 L523,298.1 L523.6,300.3 L524.3,302.4 L524.9,304.5 L525.6,306.6 L526.2,308.6 L526.9,310.5 L527.5,312.3 L528.2,313.8 L528.8,315.1 L529.5,316.1 L530.1,316.8 L530.8,317.5 L531.4,318.2 L532.1,318.9 L532.7,319.5 L533.4,320 L534,320.5 L534.7,320.9 L535.3,321.2 L536,321.5 L536.6,321.7 L537.3,321.8 L537.9,321.9 L538.6,321.9 L538.6,322.6 L537.9,322.5 L537.3,322.4 L536.6,322.3 L536,322.1 L535.3,321.9 L534.7,321.7 L534,321.4 L533.4,321.1 L532.7,320.7 L532.1,320.3 L531.4,320 L530.8,319.4 L530.1,318.7 L529.5,317.7 L528.8,316.5 L528.2,315.3 L527.5,314 L526.9,312.6 L526.2,311.3 L525.6,310 L524.9,308.6 L524.3,307.1 L523.6,305.5 L523,303.8 L522.3,302.2 L521.7,300.6 L521,299.1 L520.4,297.6 L519.7,296.4 L519.1,295.1 L518.4,293.8 L517.8,292.6 L517.1,291.4 L516.5,290.3 L515.8,289.3 L515.2,288.4 L514.5,287.5 L513.9,286.9 L513.2,286.3 L512.6,285.7 L511.9,285.2 L511.3,284.7 L510.6,284.3 L510,283.9 L509.3,283.6 L508.7,283.4 L508,283.3 L507.4,283.2 L506.7,283.1 L506.1,283 L505.4,282.9 L504.8,282.8 L504.1,282.8 L503.5,282.7 L502.8,282.6 L502.2,282.6 L501.5,282.5 L500.9,282.5 L500.2,282.5 L499.6,282.5 L498.9,282.5 L498.3,282.5 L497.6,282.5 L497,282.5 L496.3,282.5 L495.7,282.6 L495,282.6 L494.4,282.7 L493.7,282.7 L493.1,282.8 L492.4,282.9 L491.8,283 L491.1,283.1 L490.5,283.2 L489.8,283.3 L489.2,283.4 L488.5,283.5 L487.9,283.7 L487.2,283.9 L486.6,284.2 L485.9,284.5 L485.3,284.8 L484.6,285.2 L484,285.6 L483.3,286.1 L482.7,286.6 L482,287.1 L481.4,287.6 L480.7,288.2 L480.1,288.7 L479.4,289.3 L478.8,290.1 L478.1,291.1 L477.5,292.2 L476.8,293.4 L476.2,294.5 L475.5,295.5 L474.9,296.2 L474.2,296.8 L473.6,297.4 L472.9,298 L472.2,298.5 L471.6,298.9 L470.9,299.3 L470.3,299.6 L469.6,299.8 L469,300 L468.3,300.2 L467.7,300.3 L467,300.4 L466.4,300.6 L465.7,300.9 L465.1,301.1 L464.4,301.4 L463.8,301.7 L463.1,302.1 L462.5,302.5 L461.8,302.9 L461.2,303.3 L460.5,303.7 L459.9,304.1 L459.2,304.5 L458.6,305 L457.9,305.5 L457.3,306.1 L456.6,306.7 L456,307.3 L455.3,307.9 L454.7,308.6 L454,309.2 L453.4,309.7 L452.7,310.3 L452.1,310.7 L451.4,311.1 L450.8,311.5 L450.1,311.8 L449.5,312.1 L448.8,312.4 L448.2,312.7 L447.5,313 L446.9,313.3 L446.2,313.5 L445.6,313.7 L444.9,313.8 L444.3,313.9 L443.6,314 L443,313.9 L442.3,313.6 L441.7,313.1 L441,312.4 L440.4,311.6 L439.7,310.8 L439.1,310.1 L438.4,309.5 L437.8,309.1 L437.1,308.9 L436.5,309 L435.8,309 L435.2,309.2 L434.5,309.3 L433.9,309.5 L433.2,309.7 L432.6,310 L431.9,310.2 L431.3,310.6 L430.6,311 L430,311.6 L429.3,312.3 L428.7,313.1 L428,313.9 L427.4,314.7 L426.7,315.5 L426.1,316.2 L425.4,316.9 L424.8,317.5 L424.1,317.9 L423.5,318.2 L422.8,318.6 L422.2,318.9 L421.5,319.3 L420.9,319.6 L420.2,319.9 L419.6,320.1 L418.9,320.4 L418.3,320.5 L417.6,320.7 L417,320.7 L416.3,320.7 L415.7,320.7 L415,320.6 L414.4,320.5 L413.7,320.4 L413.1,320.2 L412.4,320 L411.8,319.7 L411.1,319.5 L410.5,319.1 L409.8,318.7 L409.2,318.3 L408.5,317.9Z"/></clipPath>
<path d="M408.5,310.2 L409.2,309.4 L409.8,308.5 L410.5,307.7 L411.1,306.9 L411.8,306.2 L412.4,305.5 L413.1,304.8 L413.7,304.2 L414.4,303.7 L415,303.2 L415.7,302.8 L416.3,302.5 L417,302.3 L417.6,302.1 L418.3,302 L418.9,301.8 L419.6,301.7 L420.2,301.6 L420.9,301.6 L421.5,301.5 L422.2,301.4 L422.8,301.3 L423.5,301.2 L424.1,301.1 L424.8,300.9 L425.4,300.7 L426.1,300.5 L426.7,300.1 L427.4,299.6 L428,298.9 L428.7,298.1 L429.3,297.2 L430,296.2 L430.6,295.2 L431.3,294.3 L431.9,293.4 L432.6,292.5 L433.2,291.5 L433.9,290.6 L434.5,289.6 L435.2,288.6 L435.8,287.6 L436.5,286.6 L437.1,285.6 L437.8,284.6 L438.4,283.6 L439.1,282.5 L439.7,281.5 L440.4,280.3 L441,279.1 L441.7,277.5 L442.3,275.4 L443,273.2 L443.6,271 L444.3,269.3 L444.9,268.2 L445.6,268.1 L446.2,268.7 L446.9,269.7 L447.5,271 L448.2,272.4 L448.8,273.9 L449.5,275.7 L450.1,278.2 L450.8,280.9 L451.4,283.5 L452.1,285.7 L452.7,287 L453.4,287.2 L454,286.8 L454.7,285.9 L455.3,284.8 L456,283.5 L456.6,282.1 L457.3,280.7 L457.9,279.4 L458.6,278.4 L459.2,277.7 L459.9,277.1 L460.5,276.6 L461.2,276.1 L461.8,275.6 L462.5,275.2 L463.1,274.8 L463.8,274.4 L464.4,274.2 L465.1,273.9 L465.7,273.8 L466.4,273.8 L467,273.9 L467.7,274.1 L468.3,274.3 L469,274.6 L469.6,274.8 L470.3,274.8 L470.9,274.7 L471.6,274.4 L472.2,274.1 L472.9,273.6 L473.6,273.2 L474.2,272.6 L474.9,272.1 L475.5,271.3 L476.2,270.3 L476.8,268.9 L477.5,267.5 L478.1,266.2 L478.8,265 L479.4,264.3 L480.1,263.8 L480.7,263.4 L481.4,263 L482,262.7 L482.7,262.4 L483.3,262.1 L484,261.8 L484.6,261.5 L485.3,261.3 L485.9,261.1 L486.6,260.9 L487.2,260.8 L487.9,260.6 L488.5,260.5 L489.2,260.4 L489.8,260.3 L490.5,260.2 L491.1,260.1 L491.8,260 L492.4,259.9 L493.1,259.9 L493.7,259.8 L494.4,259.7 L495,259.7 L495.7,259.7 L496.3,259.6 L497,259.6 L497.6,259.6 L498.3,259.7 L498.9,259.7 L499.6,259.8 L500.2,259.9 L500.9,260 L501.5,260.1 L502.2,260.2 L502.8,260.3 L503.5,260.5 L504.1,260.6 L504.8,260.8 L505.4,261 L506.1,261.2 L506.7,261.4 L507.4,261.7 L508,262.1 L508.7,262.5 L509.3,263.1 L510,263.7 L510.6,264.3 L511.3,265 L511.9,265.8 L512.6,266.6 L513.2,267.7 L513.9,268.9 L514.5,270.3 L515.2,271.8 L515.8,273.5 L516.5,275.2 L517.1,277 L517.8,278.9 L518.4,280.8 L519.1,282.9 L519.7,285.3 L520.4,287.9 L521,290.5 L521.7,293.2 L522.3,295.7 L523,298.1 L523.6,300.3 L524.3,302.4 L524.9,304.5 L525.6,306.6 L526.2,308.6 L526.9,310.5 L527.5,312.3 L528.2,313.8 L528.8,315.1 L529.5,316.1 L530.1,316.8 L530.8,317.5 L531.4,318.2 L532.1,318.9 L532.7,319.5 L533.4,320 L534,320.5 L534.7,320.9 L535.3,321.2 L536,321.5 L536.6,321.7 L537.3,321.8 L537.9,321.9 L538.6,321.9 L538.6,322.6 L537.9,322.5 L537.3,322.4 L536.6,322.3 L536,322.1 L535.3,321.9 L534.7,321.7 L534,321.4 L533.4,321.1 L532.7,320.7 L532.1,320.3 L531.4,320 L530.8,319.4 L530.1,318.7 L529.5,317.7 L528.8,316.5 L528.2,315.3 L527.5,314 L526.9,312.6 L526.2,311.3 L525.6,310 L524.9,308.6 L524.3,307.1 L523.6,305.5 L523,303.8 L522.3,302.2 L521.7,300.6 L521,299.1 L520.4,297.6 L519.7,296.4 L519.1,295.1 L518.4,293.8 L517.8,292.6 L517.1,291.4 L516.5,290.3 L515.8,289.3 L515.2,288.4 L514.5,287.5 L513.9,286.9 L513.2,286.3 L512.6,285.7 L511.9,285.2 L511.3,284.7 L510.6,284.3 L510,283.9 L509.3,283.6 L508.7,283.4 L508,283.3 L507.4,283.2 L506.7,283.1 L506.1,283 L505.4,282.9 L504.8,282.8 L504.1,282.8 L503.5,282.7 L502.8,282.6 L502.2,282.6 L501.5,282.5 L500.9,282.5 L500.2,282.5 L499.6,282.5 L498.9,282.5 L498.3,282.5 L497.6,282.5 L497,282.5 L496.3,282.5 L495.7,282.6 L495,282.6 L494.4,282.7 L493.7,282.7 L493.1,282.8 L492.4,282.9 L491.8,283 L491.1,283.1 L490.5,283.2 L489.8,283.3 L489.2,283.4 L488.5,283.5 L487.9,283.7 L487.2,283.9 L486.6,284.2 L485.9,284.5 L485.3,284.8 L484.6,285.2 L484,285.6 L483.3,286.1 L482.7,286.6 L482,287.1 L481.4,287.6 L480.7,288.2 L480.1,288.7 L479.4,289.3 L478.8,290.1 L478.1,291.1 L477.5,292.2 L476.8,293.4 L476.2,294.5 L475.5,295.5 L474.9,296.2 L474.2,296.8 L473.6,297.4 L472.9,298 L472.2,298.5 L471.6,298.9 L470.9,299.3 L470.3,299.6 L469.6,299.8 L469,300 L468.3,300.2 L467.7,300.3 L467,300.4 L466.4,300.6 L465.7,300.9 L465.1,301.1 L464.4,301.4 L463.8,301.7 L463.1,302.1 L462.5,302.5 L461.8,302.9 L461.2,303.3 L460.5,303.7 L459.9,304.1 L459.2,304.5 L458.6,305 L457.9,305.5 L457.3,306.1 L456.6,306.7 L456,307.3 L455.3,307.9 L454.7,308.6 L454,309.2 L453.4,309.7 L452.7,310.3 L452.1,310.7 L451.4,311.1 L450.8,311.5 L450.1,311.8 L449.5,312.1 L448.8,312.4 L448.2,312.7 L447.5,313 L446.9,313.3 L446.2,313.5 L445.6,313.7 L444.9,313.8 L444.3,313.9 L443.6,314 L443,313.9 L442.3,313.6 L441.7,313.1 L441,312.4 L440.4,311.6 L439.7,310.8 L439.1,310.1 L438.4,309.5 L437.8,309.1 L437.1,308.9 L436.5,309 L435.8,309 L435.2,309.2 L434.5,309.3 L433.9,309.5 L433.2,309.7 L432.6,310 L431.9,310.2 L431.3,310.6 L430.6,311 L430,311.6 L429.3,312.3 L428.7,313.1 L428,313.9 L427.4,314.7 L426.7,315.5 L426.1,316.2 L425.4,316.9 L424.8,317.5 L424.1,317.9 L423.5,318.2 L422.8,318.6 L422.2,318.9 L421.5,319.3 L420.9,319.6 L420.2,319.9 L419.6,320.1 L418.9,320.4 L418.3,320.5 L417.6,320.7 L417,320.7 L416.3,320.7 L415.7,320.7 L415,320.6 L414.4,320.5 L413.7,320.4 L413.1,320.2 L412.4,320 L411.8,319.7 L411.1,319.5 L410.5,319.1 L409.8,318.7 L409.2,318.3 L408.5,317.9Z" fill="#bebebe"/>
<path d="M408.5,314 L409.2,313.7 L409.8,313.4 L410.5,313 L411.1,312.6 L411.8,312.2 L412.4,311.8 L413.1,311.4 L413.7,310.9 L414.4,310.4 L415,309.9 L415.7,309.4 L416.3,308.9 L417,308.4 L417.6,307.8 L418.3,307.1 L418.9,306.4 L419.6,305.6 L420.2,304.7 L420.9,303.6 L421.5,302 L422.2,300.2 L422.8,298 L423.5,295.8 L424.1,293.5 L424.8,291.2 L425.4,289.1 L426.1,287.3 L426.7,285.6 L427.4,284 L428,282.4 L428.7,280.8 L429.3,279.4 L430,277.9 L430.6,276.5 L431.3,275.1 L431.9,273.8 L432.6,272.3 L433.2,270.8 L433.9,269.2 L434.5,267.6 L435.2,266.2 L435.8,265 L436.5,264 L437.1,263.4 L437.8,263.3 L438.4,263.6 L439.1,264.2 L439.7,265 L440.4,265.9 L441,267.2 L441.7,269 L442.3,271.1 L443,272.9 L443.6,274.2 L444.3,275.3 L444.9,276.3 L445.6,277.3 L446.2,278.2 L446.9,278.9 L447.5,279.6 L448.2,280.1 L448.8,280.4 L449.5,280.6 L450.1,280.8 L450.8,280.9 L451.4,281.1 L452.1,281.2 L452.7,281.3 L453.4,281.3 L454,281.4 L454.7,281.4 L455.3,281.4 L456,281.2 L456.6,280.9 L457.3,280.6 L457.9,280.1 L458.6,279.7 L459.2,279.3 L459.9,278.9 L460.5,278.6 L461.2,278.3 L461.8,278 L462.5,277.7 L463.1,277.4 L463.8,277.2 L464.4,276.9 L465.1,276.8 L465.7,276.7 L466.4,276.6 L467,276.7 L467.7,276.9 L468.3,277.2 L469,277.5 L469.6,277.6 L470.3,277.7 L470.9,277.6 L471.6,277.4 L472.2,277.2 L472.9,276.9 L473.6,276.6 L474.2,276.2 L474.9,275.8 L475.5,275.1 L476.2,273.9 L476.8,272.3 L477.5,270.5 L478.1,268.7 L478.8,267.3 L479.4,266.2 L480.1,265.7 L480.7,265.2 L481.4,264.7 L482,264.3 L482.7,264 L483.3,263.6 L484,263.3 L484.6,263 L485.3,262.8 L485.9,262.5 L486.6,262.3 L487.2,262 L487.9,261.8 L488.5,261.6 L489.2,261.3 L489.8,261 L490.5,260.8 L491.1,260.5 L491.8,260.2 L492.4,259.9 L493.1,259.7 L493.7,259.5 L494.4,259.4 L495,259.4 L495.7,259.4 L496.3,259.4 L497,259.4 L497.6,259.4 L498.3,259.4 L498.9,259.4 L499.6,259.4 L500.2,259.4 L500.9,259.4 L501.5,259.4 L502.2,259.4 L502.8,259.4 L503.5,259.4 L504.1,259.4 L504.8,259.4 L505.4,259.5 L506.1,259.8 L506.7,260.2 L507.4,260.8 L508,261.5 L508.7,262.2 L509.3,263 L510,263.8 L510.6,264.7 L511.3,265.9 L511.9,267.4 L512.6,269.1 L513.2,271 L513.9,272.9 L514.5,274.9 L515.2,276.9 L515.8,278.9 L516.5,280.7 L517.1,282.6 L517.8,284.6 L518.4,286.6 L519.1,288.6 L519.7,290.6 L520.4,292.6 L521,294.6 L521.7,296.5 L522.3,298.4 L523,300.3 L523.6,302.3 L524.3,304.2 L524.9,306.1 L525.6,307.9 L526.2,309.6 L526.9,311 L527.5,312.2 L528.2,313.2 L528.8,314.2 L529.5,315.2 L530.1,316.1 L530.8,316.9 L531.4,317.7 L532.1,318.5 L532.7,319.1 L533.4,319.7 L534,320.2 L534.7,320.6 L535.3,320.9 L536,321.1 L536.6,321.3 L537.3,321.5 L537.9,321.6 L538.6,321.6 L538.6,322.6 L537.9,322.5 L537.3,322.5 L536.6,322.4 L536,322.3 L535.3,322.2 L534.7,322.1 L534,321.9 L533.4,321.8 L532.7,321.5 L532.1,321.2 L531.4,320.7 L530.8,320.1 L530.1,319.4 L529.5,318.6 L528.8,317.8 L528.2,317 L527.5,316.1 L526.9,315 L526.2,313.7 L525.6,312.2 L524.9,310.6 L524.3,308.8 L523.6,307.1 L523,305.4 L522.3,303.8 L521.7,302.3 L521,300.8 L520.4,299.3 L519.7,297.8 L519.1,296.3 L518.4,294.9 L517.8,293.6 L517.1,292.5 L516.5,291.6 L515.8,290.9 L515.2,290.3 L514.5,289.8 L513.9,289.3 L513.2,288.8 L512.6,288.4 L511.9,288 L511.3,287.7 L510.6,287.3 L510,287 L509.3,286.7 L508.7,286.5 L508,286.2 L507.4,285.9 L506.7,285.6 L506.1,285.3 L505.4,285.1 L504.8,284.8 L504.1,284.5 L503.5,284.3 L502.8,284.1 L502.2,283.9 L501.5,283.7 L500.9,283.6 L500.2,283.5 L499.6,283.4 L498.9,283.4 L498.3,283.4 L497.6,283.4 L497,283.4 L496.3,283.5 L495.7,283.5 L495,283.6 L494.4,283.6 L493.7,283.7 L493.1,283.8 L492.4,283.9 L491.8,284 L491.1,284.1 L490.5,284.2 L489.8,284.3 L489.2,284.4 L488.5,284.5 L487.9,284.7 L487.2,284.9 L486.6,285.1 L485.9,285.3 L485.3,285.6 L484.6,285.8 L484,286.1 L483.3,286.4 L482.7,286.7 L482,287 L481.4,287.3 L480.7,287.6 L480.1,287.9 L479.4,288.2 L478.8,288.5 L478.1,288.8 L477.5,289.1 L476.8,289.3 L476.2,289.6 L475.5,289.9 L474.9,290.2 L474.2,290.5 L473.6,290.9 L472.9,291.2 L472.2,291.6 L471.6,291.9 L470.9,292.4 L470.3,292.8 L469.6,293.3 L469,293.9 L468.3,294.7 L467.7,295.5 L467,296.4 L466.4,297.3 L465.7,298.2 L465.1,299 L464.4,299.7 L463.8,300.2 L463.1,300.6 L462.5,300.8 L461.8,300.9 L461.2,301.1 L460.5,301.2 L459.9,301.3 L459.2,301.4 L458.6,301.5 L457.9,301.5 L457.3,301.6 L456.6,301.7 L456,301.9 L455.3,302 L454.7,302.1 L454,302.2 L453.4,302.3 L452.7,302.4 L452.1,302.4 L451.4,302.4 L450.8,302.4 L450.1,302.4 L449.5,302.4 L448.8,302.4 L448.2,302.4 L447.5,302.4 L446.9,302.4 L446.2,302.4 L445.6,302.4 L444.9,302.4 L444.3,302.3 L443.6,302.1 L443,301.8 L442.3,301.4 L441.7,301 L441,300.6 L440.4,300.2 L439.7,299.8 L439.1,299.4 L438.4,299 L437.8,298.8 L437.1,298.5 L436.5,298.4 L435.8,298.2 L435.2,298.1 L434.5,297.9 L433.9,297.8 L433.2,297.7 L432.6,297.7 L431.9,297.6 L431.3,297.8 L430.6,298.3 L430,299.1 L429.3,300.1 L428.7,301.3 L428,302.6 L427.4,304 L426.7,305.4 L426.1,306.8 L425.4,308.1 L424.8,309.2 L424.1,310.2 L423.5,311.1 L422.8,312.1 L422.2,313.1 L421.5,314.1 L420.9,315 L420.2,315.9 L419.6,316.8 L418.9,317.5 L418.3,318.1 L417.6,318.5 L417,318.7 L416.3,318.8 L415.7,318.8 L415,318.8 L414.4,318.8 L413.7,318.8 L413.1,318.8 L412.4,318.8 L411.8,318.8 L411.1,318.8 L410.5,318.8 L409.8,318.8 L409.2,318.8 L408.5,318.8Z" fill="rgb(247,152,152)"/>
<path d="M408.5,314 L409.2,313.7 L409.8,313.4 L410.5,313 L411.1,312.6 L411.8,312.2 L412.4,311.8 L413.1,311.4 L413.7,310.9 L414.4,310.4 L415,309.9 L415.7,309.4 L416.3,308.9 L417,308.4 L417.6,307.8 L418.3,307.1 L418.9,306.4 L419.6,305.6 L420.2,304.7 L420.9,303.6 L421.5,302 L422.2,300.2 L422.8,298 L423.5,295.8 L424.1,293.5 L424.8,291.2 L425.4,289.1 L426.1,287.3 L426.7,285.6 L427.4,284 L428,282.4 L428.7,280.8 L429.3,279.4 L430,277.9 L430.6,276.5 L431.3,275.1 L431.9,273.8 L432.6,272.3 L433.2,270.8 L433.9,269.2 L434.5,267.6 L435.2,266.2 L435.8,265 L436.5,264 L437.1,263.4 L437.8,263.3 L438.4,263.6 L439.1,264.2 L439.7,265 L440.4,265.9 L441,267.2 L441.7,269 L442.3,271.1 L443,272.9 L443.6,274.2 L444.3,275.3 L444.9,276.3 L445.6,277.3 L446.2,278.2 L446.9,278.9 L447.5,279.6 L448.2,280.1 L448.8,280.4 L449.5,280.6 L450.1,280.8 L450.8,280.9 L451.4,281.1 L452.1,281.2 L452.7,281.3 L453.4,281.3 L454,281.4 L454.7,281.4 L455.3,281.4 L456,281.2 L456.6,280.9 L457.3,280.6 L457.9,280.1 L458.6,279.7 L459.2,279.3 L459.9,278.9 L460.5,278.6 L461.2,278.3 L461.8,278 L462.5,277.7 L463.1,277.4 L463.8,277.2 L464.4,276.9 L465.1,276.8 L465.7,276.7 L466.4,276.6 L467,276.7 L467.7,276.9 L468.3,277.2 L469,277.5 L469.6,277.6 L470.3,277.7 L470.9,277.6 L471.6,277.4 L472.2,277.2 L472.9,276.9 L473.6,276.6 L474.2,276.2 L474.9,275.8 L475.5,275.1 L476.2,273.9 L476.8,272.3 L477.5,270.5 L478.1,268.7 L478.8,267.3 L479.4,266.2 L480.1,265.7 L480.7,265.2 L481.4,264.7 L482,264.3 L482.7,264 L483.3,263.6 L484,263.3 L484.6,263 L485.3,262.8 L485.9,262.5 L486.6,262.3 L487.2,262 L487.9,261.8 L488.5,261.6 L489.2,261.3 L489.8,261 L490.5,260.8 L491.1,260.5 L491.8,260.2 L492.4,259.9 L493.1,259.7 L493.7,259.5 L494.4,259.4 L495,259.4 L495.7,259.4 L496.3,259.4 L497,259.4 L497.6,259.4 L498.3,259.4 L498.9,259.4 L499.6,259.4 L500.2,259.4 L500.9,259.4 L501.5,259.4 L502.2,259.4 L502.8,259.4 L503.5,259.4 L504.1,259.4 L504.8,259.4 L505.4,259.5 L506.1,259.8 L506.7,260.2 L507.4,260.8 L508,261.5 L508.7,262.2 L509.3,263 L510,263.8 L510.6,264.7 L511.3,265.9 L511.9,267.4 L512.6,269.1 L513.2,271 L513.9,272.9 L514.5,274.9 L515.2,276.9 L515.8,278.9 L516.5,280.7 L517.1,282.6 L517.8,284.6 L518.4,286.6 L519.1,288.6 L519.7,290.6 L520.4,292.6 L521,294.6 L521.7,296.5 L522.3,298.4 L523,300.3 L523.6,302.3 L524.3,304.2 L524.9,306.1 L525.6,307.9 L526.2,309.6 L526.9,311 L527.5,312.2 L528.2,313.2 L528.8,314.2 L529.5,315.2 L530.1,316.1 L530.8,316.9 L531.4,317.7 L532.1,318.5 L532.7,319.1 L533.4,319.7 L534,320.2 L534.7,320.6 L535.3,320.9 L536,321.1 L536.6,321.3 L537.3,321.5 L537.9,321.6 L538.6,321.6 L538.6,322.6 L537.9,322.5 L537.3,322.5 L536.6,322.4 L536,322.3 L535.3,322.2 L534.7,322.1 L534,321.9 L533.4,321.8 L532.7,321.5 L532.1,321.2 L531.4,320.7 L530.8,320.1 L530.1,319.4 L529.5,318.6 L528.8,317.8 L528.2,317 L527.5,316.1 L526.9,315 L526.2,313.7 L525.6,312.2 L524.9,310.6 L524.3,308.8 L523.6,307.1 L523,305.4 L522.3,303.8 L521.7,302.3 L521,300.8 L520.4,299.3 L519.7,297.8 L519.1,296.3 L518.4,294.9 L517.8,293.6 L517.1,292.5 L516.5,291.6 L515.8,290.9 L515.2,290.3 L514.5,289.8 L513.9,289.3 L513.2,288.8 L512.6,288.4 L511.9,288 L511.3,287.7 L510.6,287.3 L510,287 L509.3,286.7 L508.7,286.5 L508,286.2 L507.4,285.9 L506.7,285.6 L506.1,285.3 L505.4,285.1 L504.8,284.8 L504.1,284.5 L503.5,284.3 L502.8,284.1 L502.2,283.9 L501.5,283.7 L500.9,283.6 L500.2,283.5 L499.6,283.4 L498.9,283.4 L498.3,283.4 L497.6,283.4 L497,283.4 L496.3,283.5 L495.7,283.5 L495,283.6 L494.4,283.6 L493.7,283.7 L493.1,283.8 L492.4,283.9 L491.8,284 L491.1,284.1 L490.5,284.2 L489.8,284.3 L489.2,284.4 L488.5,284.5 L487.9,284.7 L487.2,284.9 L486.6,285.1 L485.9,285.3 L485.3,285.6 L484.6,285.8 L484,286.1 L483.3,286.4 L482.7,286.7 L482,287 L481.4,287.3 L480.7,287.6 L480.1,287.9 L479.4,288.2 L478.8,288.5 L478.1,288.8 L477.5,289.1 L476.8,289.3 L476.2,289.6 L475.5,289.9 L474.9,290.2 L474.2,290.5 L473.6,290.9 L472.9,291.2 L472.2,291.6 L471.6,291.9 L470.9,292.4 L470.3,292.8 L469.6,293.3 L469,293.9 L468.3,294.7 L467.7,295.5 L467,296.4 L466.4,297.3 L465.7,298.2 L465.1,299 L464.4,299.7 L463.8,300.2 L463.1,300.6 L462.5,300.8 L461.8,300.9 L461.2,301.1 L460.5,301.2 L459.9,301.3 L459.2,301.4 L458.6,301.5 L457.9,301.5 L457.3,301.6 L456.6,301.7 L456,301.9 L455.3,302 L454.7,302.1 L454,302.2 L453.4,302.3 L452.7,302.4 L452.1,302.4 L451.4,302.4 L450.8,302.4 L450.1,302.4 L449.5,302.4 L448.8,302.4 L448.2,302.4 L447.5,302.4 L446.9,302.4 L446.2,302.4 L445.6,302.4 L444.9,302.4 L444.3,302.3 L443.6,302.1 L443,301.8 L442.3,301.4 L441.7,301 L441,300.6 L440.4,300.2 L439.7,299.8 L439.1,299.4 L438.4,299 L437.8,298.8 L437.1,298.5 L436.5,298.4 L435.8,298.2 L435.2,298.1 L434.5,297.9 L433.9,297.8 L433.2,297.7 L432.6,297.7 L431.9,297.6 L431.3,297.8 L430.6,298.3 L430,299.1 L429.3,300.1 L428.7,301.3 L428,302.6 L427.4,304 L426.7,305.4 L426.1,306.8 L425.4,308.1 L424.8,309.2 L424.1,310.2 L423.5,311.1 L422.8,312.1 L422.2,313.1 L421.5,314.1 L420.9,315 L420.2,315.9 L419.6,316.8 L418.9,317.5 L418.3,318.1 L417.6,318.5 L417,318.7 L416.3,318.8 L415.7,318.8 L415,318.8 L414.4,318.8 L413.7,318.8 L413.1,318.8 L412.4,318.8 L411.8,318.8 L411.1,318.8 L410.5,318.8 L409.8,318.8 L409.2,318.8 L408.5,318.8Z" fill="rgb(235,102,102)" clip-path="url(#c6)"/>
<path d="M408.5,313.1 L409.2,312.7 L409.8,312.4 L410.5,312.2 L411.1,311.9 L411.8,311.7 L412.4,311.5 L413.1,311.4 L413.7,311.3 L414.4,311.3 L415,311.3 L415.7,311.3 L416.3,311.5 L417,311.6 L417.6,311.7 L418.3,311.9 L418.9,312 L419.6,312.1 L420.2,312.2 L420.9,312.1 L421.5,311.9 L422.2,311.6 L422.8,311.2 L423.5,310.7 L424.1,310.1 L424.8,309.5 L425.4,308.9 L426.1,308.3 L426.7,307.5 L427.4,306.5 L428,305.3 L428.7,304 L429.3,302.7 L430,301.5 L430.6,300.6 L431.3,299.9 L431.9,299.7 L432.6,299.8 L433.2,299.9 L433.9,300 L434.5,300.2 L435.2,300.4 L435.8,300.5 L436.5,300.6 L437.1,300.6 L437.8,300.3 L438.4,299.9 L439.1,299.4 L439.7,298.8 L440.4,298.1 L441,297.4 L441.7,296.7 L442.3,295.8 L443,294.8 L443.6,293.7 L444.3,292.8 L444.9,292.2 L445.6,292.1 L446.2,292.2 L446.9,292.6 L447.5,293 L448.2,293.4 L448.8,293.9 L449.5,294.3 L450.1,294.7 L450.8,294.9 L451.4,294.9 L452.1,294.8 L452.7,294.7 L453.4,294.5 L454,294.2 L454.7,294 L455.3,293.7 L456,293.4 L456.6,293.2 L457.3,292.9 L457.9,292.7 L458.6,292.5 L459.2,292.3 L459.9,292.2 L460.5,292 L461.2,291.8 L461.8,291.5 L462.5,291.3 L463.1,291 L463.8,290.5 L464.4,290 L465.1,289.4 L465.7,288.7 L466.4,288.1 L467,287.4 L467.7,286.9 L468.3,286.4 L469,286.1 L469.6,285.9 L470.3,285.7 L470.9,285.5 L471.6,285.3 L472.2,285.2 L472.9,285 L473.6,284.8 L474.2,284.6 L474.9,284.3 L475.5,283.9 L476.2,283.3 L476.8,282.5 L477.5,281.6 L478.1,280.7 L478.8,279.9 L479.4,279.2 L480.1,278.7 L480.7,278.1 L481.4,277.6 L482,277.1 L482.7,276.6 L483.3,276.2 L484,275.7 L484.6,275.3 L485.3,274.9 L485.9,274.6 L486.6,274.2 L487.2,273.9 L487.9,273.7 L488.5,273.4 L489.2,273.2 L489.8,273.1 L490.5,272.9 L491.1,272.8 L491.8,272.6 L492.4,272.5 L493.1,272.3 L493.7,272.2 L494.4,272.1 L495,272.1 L495.7,272 L496.3,272 L497,271.9 L497.6,272 L498.3,272 L498.9,272 L499.6,272 L500.2,272 L500.9,272.1 L501.5,272.1 L502.2,272.1 L502.8,272.2 L503.5,272.3 L504.1,272.3 L504.8,272.4 L505.4,272.5 L506.1,272.5 L506.7,272.6 L507.4,272.8 L508,273.1 L508.7,273.5 L509.3,273.9 L510,274.4 L510.6,275 L511.3,275.6 L511.9,276.2 L512.6,276.9 L513.2,277.7 L513.9,278.7 L514.5,279.8 L515.2,280.9 L515.8,282.2 L516.5,283.5 L517.1,284.9 L517.8,286.3 L518.4,287.8 L519.1,289.4 L519.7,291.1 L520.4,292.9 L521,294.8 L521.7,296.7 L522.3,298.6 L523,300.5 L523.6,302.4 L524.3,304.4 L524.9,306.5 L525.6,308.5 L526.2,310.4 L526.9,312.1 L527.5,313.5 L528.2,314.7 L528.8,315.8 L529.5,316.9 L530.1,317.8 L530.8,318.7 L531.4,319.4 L532.1,320 L532.7,320.4 L533.4,320.8 L534,321.2 L534.7,321.4 L535.3,321.6 L536,321.8 L536.6,321.9 L537.3,322.1 L537.9,322.1 L538.6,322.2" fill="none" stroke="#2a2a2a" stroke-width="0.55"/>
<path d="M408.5,316.1 L409.2,316 L409.8,316 L410.5,315.9 L411.1,315.8 L411.8,315.7 L412.4,315.5 L413.1,315.3 L413.7,315.1 L414.4,314.9 L415,314.6 L415.7,314.4 L416.3,314.1 L417,313.8 L417.6,313.3 L418.3,312.6 L418.9,311.8 L419.6,310.8 L420.2,309.8 L420.9,308.6 L421.5,307.4 L422.2,306.2 L422.8,304.9 L423.5,303.7 L424.1,302.4 L424.8,301.1 L425.4,299.7 L426.1,298.1 L426.7,296.5 L427.4,294.8 L428,293.2 L428.7,291.7 L429.3,290.3 L430,289.1 L430.6,287.9 L431.3,286.7 L431.9,285.5 L432.6,284.4 L433.2,283.5 L433.9,282.8 L434.5,282.5 L435.2,282.5 L435.8,282.7 L436.5,283.1 L437.1,283.7 L437.8,284.3 L438.4,285 L439.1,285.6 L439.7,286.2 L440.4,286.8 L441,287.5 L441.7,288.2 L442.3,289 L443,289.7 L443.6,290.4 L444.3,291.1 L444.9,291.7 L445.6,292.3 L446.2,292.8 L446.9,293.4 L447.5,293.9 L448.2,294.5 L448.8,294.9 L449.5,295.3 L450.1,295.6 L450.8,295.8 L451.4,295.8 L452.1,295.7 L452.7,295.5 L453.4,295.1 L454,294.8 L454.7,294.4 L455.3,293.9 L456,293.5 L456.6,293.2 L457.3,292.9 L457.9,292.7 L458.6,292.5 L459.2,292.3 L459.9,292.1 L460.5,291.9 L461.2,291.7 L461.8,291.5 L462.5,291.2 L463.1,291 L463.8,290.7 L464.4,290.4 L465.1,290.1 L465.7,289.8 L466.4,289.4 L467,289.1 L467.7,288.7 L468.3,288.4 L469,288 L469.6,287.7 L470.3,287.3 L470.9,287 L471.6,286.6 L472.2,286.3 L472.9,285.9 L473.6,285.4 L474.2,284.9 L474.9,284.4 L475.5,283.7 L476.2,282.8 L476.8,281.7 L477.5,280.6 L478.1,279.5 L478.8,278.5 L479.4,277.8 L480.1,277.3 L480.7,276.8 L481.4,276.3 L482,275.9 L482.7,275.5 L483.3,275.1 L484,274.7 L484.6,274.4 L485.3,274.1 L485.9,273.8 L486.6,273.6 L487.2,273.4 L487.9,273.2 L488.5,273 L489.2,272.9 L489.8,272.7 L490.5,272.6 L491.1,272.5 L491.8,272.4 L492.4,272.3 L493.1,272.2 L493.7,272.1 L494.4,272.1 L495,272 L495.7,272 L496.3,272 L497,271.9 L497.6,272 L498.3,272 L498.9,272 L499.6,272 L500.2,272.1 L500.9,272.1 L501.5,272.2 L502.2,272.2 L502.8,272.3 L503.5,272.4 L504.1,272.5 L504.8,272.6 L505.4,272.7 L506.1,272.8 L506.7,272.9 L507.4,273.1 L508,273.4 L508.7,273.8 L509.3,274.2 L510,274.7 L510.6,275.3 L511.3,275.9 L511.9,276.5 L512.6,277.2 L513.2,278 L513.9,279 L514.5,280.1 L515.2,281.3 L515.8,282.5 L516.5,283.9 L517.1,285.3 L517.8,286.7 L518.4,288.1 L519.1,289.7 L519.7,291.4 L520.4,293.2 L521,295.1 L521.7,297 L522.3,298.9 L523,300.8 L523.6,302.7 L524.3,304.8 L524.9,307 L525.6,309.1 L526.2,311 L526.9,312.7 L527.5,314.1 L528.2,315.2 L528.8,316.3 L529.5,317.2 L530.1,318 L530.8,318.8 L531.4,319.4 L532.1,320 L532.7,320.4 L533.4,320.9 L534,321.3 L534.7,321.6 L535.3,321.8 L536,321.9 L536.6,322 L537.3,322.1 L537.9,322.1 L538.6,322.2" fill="none" stroke="#f01010" stroke-width="0.9"/>
<rect x="408.5" y="219.4" width="130.1" height="103.8" fill="none" stroke="#8a8a8a" stroke-width="0.8"/>
<path d="M408.5,323.2v1.6 M421.5,323.2v1.0 M434.5,323.2v1.6 M447.5,323.2v1.0 M460.5,323.2v1.6 M473.6,323.2v1.0 M486.6,323.2v1.6 M499.6,323.2v1.0 M512.6,323.2v1.6 M525.6,323.2v1.0 M538.6,323.2v1.6 M408.5,323.2h-1.6 M408.5,310.2h-1.0 M408.5,297.2h-1.6 M408.5,284.3h-1.0 M408.5,271.3h-1.6 M408.5,258.3h-1.0 M408.5,245.3h-1.6 M408.5,232.4h-1.0 M408.5,219.4h-1.6" stroke="#8a8a8a" stroke-width="0.6" fill="none"/>
<text x="408.5" y="331" text-anchor="middle" class="b" font-family="'Liberation Serif','Times New Roman',serif" font-weight="bold" font-size="5.4">0</text>
<text x="434.5" y="331" text-anchor="middle" class="b" font-family="'Liberation Serif','Times New Roman',serif" font-weight="bold" font-size="5.4">20</text>
<text x="460.5" y="331" text-anchor="middle" class="b" font-family="'Liberation Serif','Times New Roman',serif" font-weight="bold" font-size="5.4">40</text>
<text x="486.6" y="331" text-anchor="middle" class="b" font-family="'Liberation Serif','Times New Roman',serif" font-weight="bold" font-size="5.4">60</text>
<text x="512.6" y="331" text-anchor="middle" class="b" font-family="'Liberation Serif','Times New Roman',serif" font-weight="bold" font-size="5.4">80</text>
<text x="538.6" y="331" text-anchor="middle" class="b" font-family="'Liberation Serif','Times New Roman',serif" font-weight="bold" font-size="5.4">100</text>
<text x="405.9" y="325" text-anchor="end" class="b" font-family="'Liberation Serif','Times New Roman',serif" font-weight="bold" font-size="5.4">0</text>
<text x="405.9" y="299.1" text-anchor="end" class="b" font-family="'Liberation Serif','Times New Roman',serif" font-weight="bold" font-size="5.4">200</text>
<text x="405.9" y="273.1" text-anchor="end" class="b" font-family="'Liberation Serif','Times New Roman',serif" font-weight="bold" font-size="5.4">400</text>
<text x="405.9" y="247.2" text-anchor="end" class="b" font-family="'Liberation Serif','Times New Roman',serif" font-weight="bold" font-size="5.4">600</text>
<text x="405.9" y="221.2" text-anchor="end" class="b" font-family="'Liberation Serif','Times New Roman',serif" font-weight="bold" font-size="5.4">800</text>
<text x="470.2" y="217.6" text-anchor="middle" class="b" font-family="'Liberation Serif','Times New Roman',serif" font-weight="bold" font-size="6.85">Lateral Gastrocnemius</text>
<text x="473.1" y="338.1" text-anchor="middle" class="b" font-family="'Liberation Serif','Times New Roman',serif" font-weight="bold" font-size="6.85">Stance phase (%)</text>
<text transform="translate(393.8,271.5) rotate(-90)" text-anchor="middle" class="b" font-family="'Liberation Serif','Times New Roman',serif" font-weight="bold" font-size="6.85">Muscle Force (N)</text>
<path d="M412.9,226.4h10.2" stroke="#555" stroke-width="0.6"/>
<path d="M412.9,232.5h10.2" stroke="#f06868" stroke-width="0.6"/>
<text x="425.5" y="228" class="b" font-family="'Liberation Serif','Times New Roman',serif" font-weight="bold" font-size="5.0">NS</text>
<text x="425.5" y="234.1" class="b" font-family="'Liberation Serif','Times New Roman',serif" font-weight="bold" font-size="5.0">BS</text>
<path d="M229.1,11.4V115.3" stroke="#8a8a8a" stroke-width="0.6" stroke-dasharray="0.7,0.7"/>
<text x="232.2" y="39.8" font-family="'Liberation Serif','Times New Roman',serif" font-weight="bold" font-size="3.8">P=0.047</text>
<rect x="49.3" y="219.4" width="2.6" height="103.8" fill="#e6e6e6" fill-opacity="0.5"/>
<path d="M49.3,219.4V323.2M51.8,219.4V323.2" stroke="#a8a8a8" stroke-width="0.5" stroke-dasharray="0.6,0.6"/>
<text x="55.6" y="250.8" font-family="'Liberation Serif','Times New Roman',serif" font-weight="bold" font-size="3.9">P=0.038</text>
<text x="260.9" y="256.9" font-family="'Liberation Serif','Times New Roman',serif" font-weight="bold" font-size="3.8">P=0.001</text>
<path d="M30,169.2H159.7" stroke="#cfcfcf" stroke-width="0.5"/>
<path d="M30.5,161.5H159.2" stroke="#f06a6a" stroke-width="1.05" stroke-dasharray="1.5,1.5"/>
<path d="M30.5,177H159.2" stroke="#f06a6a" stroke-width="1.05" stroke-dasharray="1.5,1.5"/>
<path d="M30,169 L30.6,168.4 L31.3,167.8 L31.9,167.2 L32.6,166.5 L33.2,165.7 L33.9,164.7 L34.5,163.8 L35.2,163.2 L35.8,163.1 L36.5,163.6 L37.1,164.3 L37.8,164.8 L38.4,164.9 L39.1,164.7 L39.7,164.5 L40.4,164.3 L41,164.2 L41.7,164.3 L42.3,164.5 L43,164.8 L43.6,165.1 L44.3,165.4 L44.9,165.7 L45.6,166 L46.2,166.6 L46.9,167.1 L47.5,167.7 L48.2,168.2 L48.8,168.7 L49.5,169.1 L50.1,169.2 L50.8,169.3 L51.4,169.4 L52,169.4 L52.7,169.5 L53.3,169.5 L54,169.5 L54.6,169.4 L55.3,169.4 L55.9,169.4 L56.6,169.3 L57.2,169.2 L57.9,169.2 L58.5,169.1 L59.2,169 L59.8,169 L60.5,168.9 L61.1,168.8 L61.8,168.7 L62.4,168.6 L63.1,168.5 L63.7,168.5 L64.4,168.4 L65,168.4 L65.7,168.3 L66.3,168.3 L67,168.4 L67.6,168.4 L68.3,168.5 L68.9,168.5 L69.6,168.6 L70.2,168.7 L70.9,168.7 L71.5,168.8 L72.2,168.9 L72.8,168.9 L73.4,169 L74.1,169.1 L74.7,169.2 L75.4,169.3 L76,169.4 L76.7,169.4 L77.3,169.5 L78,169.6 L78.6,169.6 L79.3,169.7 L79.9,169.7 L80.6,169.7 L81.2,169.7 L81.9,169.7 L82.5,169.7 L83.2,169.7 L83.8,169.7 L84.5,169.7 L85.1,169.7 L85.8,169.7 L86.4,169.7 L87.1,169.7 L87.7,169.7 L88.4,169.7 L89,169.7 L89.7,169.7 L90.3,169.7 L91,169.7 L91.6,169.7 L92.3,169.7 L92.9,169.7 L93.6,169.7 L94.2,169.6 L94.8,169.6 L95.5,169.5 L96.1,169.5 L96.8,169.4 L97.4,169.4 L98.1,169.3 L98.7,169.3 L99.4,169.3 L100,169.3 L100.7,169.3 L101.3,169.3 L102,169.3 L102.6,169.4 L103.3,169.5 L103.9,169.6 L104.6,169.7 L105.2,169.8 L105.9,169.9 L106.5,170 L107.2,170.1 L107.8,170.2 L108.5,170.3 L109.1,170.4 L109.8,170.5 L110.4,170.6 L111.1,170.7 L111.7,170.8 L112.4,170.8 L113,170.8 L113.7,170.8 L114.3,170.8 L115,170.8 L115.6,170.8 L116.3,170.8 L116.9,170.7 L117.5,170.7 L118.2,170.6 L118.8,170.6 L119.5,170.5 L120.1,170.4 L120.8,170.4 L121.4,170.3 L122.1,170.3 L122.7,170.2 L123.4,170.2 L124,170.2 L124.7,170.2 L125.3,170.2 L126,170.2 L126.6,170.2 L127.3,170.2 L127.9,170.2 L128.6,170.2 L129.2,170.2 L129.9,170.2 L130.5,170.3 L131.2,170.3 L131.8,170.3 L132.5,170.3 L133.1,170.4 L133.8,170.4 L134.4,170.4 L135.1,170.5 L135.7,170.7 L136.4,170.8 L137,171 L137.7,171.2 L138.3,171.4 L138.9,171.5 L139.6,171.7 L140.2,171.8 L140.9,171.9 L141.5,172 L142.2,171.9 L142.8,171.5 L143.5,170.7 L144.1,169.7 L144.8,168.6 L145.4,167.6 L146.1,166.8 L146.7,166.3 L147.4,166.3 L148,166.5 L148.7,166.8 L149.3,167.1 L150,167.5 L150.6,168 L151.3,168.4 L151.9,168.8 L152.6,169.1 L153.2,169.2 L153.9,169.2 L154.5,169.2 L155.2,169.2 L155.8,169.2 L156.5,169.1 L157.1,169.1 L157.8,169 L158.4,168.8 L159.1,168.6 L159.7,168.3" fill="none" stroke="#3c3c3c" stroke-width="0.6"/>
<rect x="30" y="146.4" width="129.7" height="45.7" fill="none" stroke="#8a8a8a" stroke-width="0.9"/>
<path d="M30,192.1v1.2 M43,192.1v0.8 M55.9,192.1v1.2 M68.9,192.1v0.8 M81.9,192.1v1.2 M94.8,192.1v0.8 M107.8,192.1v1.2 M120.8,192.1v0.8 M133.8,192.1v1.2 M146.7,192.1v0.8 M159.7,192.1v1.2 M30,192.1h-1.2 M30,186.4h-0.8 M30,180.7h-1.2 M30,175h-0.8 M30,169.2h-1.2 M30,163.5h-0.8 M30,157.8h-1.2 M30,152.1h-0.8 M30,146.4h-1.2" stroke="#8a8a8a" stroke-width="0.5" fill="none"/>
<text x="30" y="198.3" class="s" text-anchor="middle" font-family="'Liberation Serif','Times New Roman',serif" font-weight="bold" font-size="3.2">0</text>
<text x="55.9" y="198.3" class="s" text-anchor="middle" font-family="'Liberation Serif','Times New Roman',serif" font-weight="bold" font-size="3.2">20</text>
<text x="81.9" y="198.3" class="s" text-anchor="middle" font-family="'Liberation Serif','Times New Roman',serif" font-weight="bold" font-size="3.2">40</text>
<text x="107.8" y="198.3" class="s" text-anchor="middle" font-family="'Liberation Serif','Times New Roman',serif" font-weight="bold" font-size="3.2">60</text>
<text x="133.8" y="198.3" class="s" text-anchor="middle" font-family="'Liberation Serif','Times New Roman',serif" font-weight="bold" font-size="3.2">80</text>
<text x="159.7" y="198.3" class="s" text-anchor="middle" font-family="'Liberation Serif','Times New Roman',serif" font-weight="bold" font-size="3.2">100</text>
<text x="27" y="147.5" class="s" text-anchor="end" font-family="'Liberation Serif','Times New Roman',serif" font-weight="bold" font-size="3.2">10</text>
<text x="27" y="158.9" class="s" text-anchor="end" font-family="'Liberation Serif','Times New Roman',serif" font-weight="bold" font-size="3.2">5</text>
<text x="27" y="170.3" class="s" text-anchor="end" font-family="'Liberation Serif','Times New Roman',serif" font-weight="bold" font-size="3.2">0</text>
<text x="27" y="181.8" class="s" text-anchor="end" font-family="'Liberation Serif','Times New Roman',serif" font-weight="bold" font-size="3.2">- 5</text>
<text x="27" y="193.2" class="s" text-anchor="end" font-family="'Liberation Serif','Times New Roman',serif" font-weight="bold" font-size="3.2">- 10</text>
<text x="94.8" y="201.8" class="s" text-anchor="middle" font-family="'Liberation Serif','Times New Roman',serif" font-weight="bold" font-size="3.6">Stance phase (%)</text>
<text transform="translate(20.4,170.2) rotate(-90)" class="s" text-anchor="middle" font-family="'Liberation Serif','Times New Roman',serif" font-weight="bold" font-size="3.9">SPM{t}</text>
<text x="156.2" y="153.1" class="s" text-anchor="end" font-family="'Liberation Serif','Times New Roman',serif" font-weight="bold" font-size="3.8">α=0.05,  t<tspan dy="-1.2" font-size="2.4">*</tspan><tspan dy="1.2">=3.398</tspan></text>
<path d="M221.3,169.2H351.3" stroke="#cfcfcf" stroke-width="0.5"/>
<path d="M221.8,161.4H350.8" stroke="#f06a6a" stroke-width="1.05" stroke-dasharray="1.5,1.5"/>
<path d="M221.8,177.1H350.8" stroke="#f06a6a" stroke-width="1.05" stroke-dasharray="1.5,1.5"/>
<path d="M221.3,169.2 L222,168.8 L222.6,168.2 L223.2,167.7 L223.9,167 L224.6,166.4 L225.2,165.7 L225.9,165 L226.5,164 L227.2,162.9 L227.8,161.8 L228.5,161 L229.1,160.8 L229.8,161.3 L230.4,162.2 L231.1,163.4 L231.7,164.9 L232.4,167.6 L233,170.2 L233.7,171.6 L234.3,172.8 L235,173.7 L235.6,174.5 L236.2,174.9 L236.9,175 L237.6,175.1 L238.2,175.1 L238.9,175.2 L239.5,175.2 L240.2,175.2 L240.8,175.2 L241.5,175.2 L242.1,175.2 L242.8,175.2 L243.4,175.2 L244.1,175.2 L244.7,175.1 L245.4,175.1 L246,175.1 L246.7,175.1 L247.3,175.1 L248,175 L248.6,175 L249.2,175 L249.9,175 L250.6,174.9 L251.2,174.7 L251.9,174.5 L252.5,174.2 L253.2,173.9 L253.8,173.5 L254.5,173.1 L255.1,172.7 L255.8,172.3 L256.4,171.9 L257.1,171.5 L257.7,171 L258.4,170.3 L259,169.6 L259.7,168.9 L260.3,168.2 L260.9,167.5 L261.6,167 L262.2,166.6 L262.9,166.3 L263.6,166.3 L264.2,166.3 L264.9,166.4 L265.5,166.5 L266.2,166.7 L266.8,166.9 L267.4,167 L268.1,167.2 L268.8,167.4 L269.4,167.5 L270.1,167.7 L270.7,167.8 L271.4,167.9 L272,167.9 L272.7,168 L273.3,168.1 L273.9,168.2 L274.6,168.3 L275.2,168.4 L275.9,168.5 L276.6,168.6 L277.2,168.8 L277.9,168.9 L278.5,169.1 L279.2,169.3 L279.8,169.5 L280.4,169.7 L281.1,169.9 L281.8,170.1 L282.4,170.2 L283.1,170.3 L283.7,170.4 L284.4,170.4 L285,170.4 L285.6,170.3 L286.3,170.2 L287,170.1 L287.6,170 L288.2,169.9 L288.9,169.8 L289.6,169.7 L290.2,169.6 L290.9,169.5 L291.5,169.4 L292.1,169.3 L292.8,169.3 L293.5,169.2 L294.1,169.2 L294.8,169.2 L295.4,169.2 L296.1,169.2 L296.7,169.2 L297.4,169.2 L298,169.2 L298.6,169.2 L299.3,169.2 L300,169.2 L300.6,169.2 L301.2,169.2 L301.9,169.2 L302.6,169.2 L303.2,169.2 L303.9,169.2 L304.5,169.2 L305.1,169.2 L305.8,169.2 L306.5,169.2 L307.1,169.2 L307.8,169.2 L308.4,169.2 L309.1,169.2 L309.7,169.2 L310.4,169.2 L311,169.2 L311.6,169.2 L312.3,169 L313,168.7 L313.6,168.5 L314.2,168.2 L314.9,167.8 L315.6,167.5 L316.2,167.2 L316.9,167 L317.5,166.7 L318.1,166.5 L318.8,166.2 L319.5,165.9 L320.1,165.6 L320.8,165.4 L321.4,165.2 L322.1,165 L322.7,164.9 L323.4,164.9 L324,164.9 L324.6,165 L325.3,165.1 L326,165.3 L326.6,165.4 L327.2,165.6 L327.9,165.7 L328.6,165.9 L329.2,166 L329.9,166.1 L330.5,166.2 L331.1,166.4 L331.8,166.5 L332.5,166.6 L333.1,166.7 L333.8,166.8 L334.4,166.9 L335.1,166.9 L335.7,167 L336.4,167 L337,167 L337.6,167 L338.3,167 L339,167 L339.6,167 L340.2,167 L340.9,167 L341.6,167 L342.2,167.1 L342.9,167.1 L343.5,167.3 L344.1,167.4 L344.8,167.5 L345.5,167.6 L346.1,167.6 L346.8,167.6 L347.4,167.6 L348.1,167.5 L348.7,167.3 L349.4,167 L350,166.7 L350.6,166.4 L351.3,166.1" fill="none" stroke="#3c3c3c" stroke-width="0.6"/>
<rect x="221.3" y="146.4" width="130" height="45.7" fill="none" stroke="#8a8a8a" stroke-width="0.9"/>
<path d="M221.3,192.1v1.2 M234.3,192.1v0.8 M247.3,192.1v1.2 M260.3,192.1v0.8 M273.3,192.1v1.2 M286.3,192.1v0.8 M299.3,192.1v1.2 M312.3,192.1v0.8 M325.3,192.1v1.2 M338.3,192.1v0.8 M351.3,192.1v1.2 M221.3,192.1h-1.2 M221.3,186.4h-0.8 M221.3,180.7h-1.2 M221.3,175h-0.8 M221.3,169.2h-1.2 M221.3,163.5h-0.8 M221.3,157.8h-1.2 M221.3,152.1h-0.8 M221.3,146.4h-1.2" stroke="#8a8a8a" stroke-width="0.5" fill="none"/>
<text x="221.3" y="198.3" class="s" text-anchor="middle" font-family="'Liberation Serif','Times New Roman',serif" font-weight="bold" font-size="3.2">0</text>
<text x="247.3" y="198.3" class="s" text-anchor="middle" font-family="'Liberation Serif','Times New Roman',serif" font-weight="bold" font-size="3.2">20</text>
<text x="273.3" y="198.3" class="s" text-anchor="middle" font-family="'Liberation Serif','Times New Roman',serif" font-weight="bold" font-size="3.2">40</text>
<text x="299.3" y="198.3" class="s" text-anchor="middle" font-family="'Liberation Serif','Times New Roman',serif" font-weight="bold" font-size="3.2">60</text>
<text x="325.3" y="198.3" class="s" text-anchor="middle" font-family="'Liberation Serif','Times New Roman',serif" font-weight="bold" font-size="3.2">80</text>
<text x="351.3" y="198.3" class="s" text-anchor="middle" font-family="'Liberation Serif','Times New Roman',serif" font-weight="bold" font-size="3.2">100</text>
<text x="218.3" y="147.5" class="s" text-anchor="end" font-family="'Liberation Serif','Times New Roman',serif" font-weight="bold" font-size="3.2">10</text>
<text x="218.3" y="158.9" class="s" text-anchor="end" font-family="'Liberation Serif','Times New Roman',serif" font-weight="bold" font-size="3.2">5</text>
<text x="218.3" y="170.3" class="s" text-anchor="end" font-family="'Liberation Serif','Times New Roman',serif" font-weight="bold" font-size="3.2">0</text>
<text x="218.3" y="181.8" class="s" text-anchor="end" font-family="'Liberation Serif','Times New Roman',serif" font-weight="bold" font-size="3.2">- 5</text>
<text x="218.3" y="193.2" class="s" text-anchor="end" font-family="'Liberation Serif','Times New Roman',serif" font-weight="bold" font-size="3.2">- 10</text>
<text x="286.3" y="201.8" class="s" text-anchor="middle" font-family="'Liberation Serif','Times New Roman',serif" font-weight="bold" font-size="3.6">Stance phase (%)</text>
<text transform="translate(211.7,170.2) rotate(-90)" class="s" text-anchor="middle" font-family="'Liberation Serif','Times New Roman',serif" font-weight="bold" font-size="3.9">SPM{t}</text>
<text x="347.8" y="153.1" class="s" text-anchor="end" font-family="'Liberation Serif','Times New Roman',serif" font-weight="bold" font-size="3.8">α=0.05,  t<tspan dy="-1.2" font-size="2.4">*</tspan><tspan dy="1.2">=3.563</tspan></text>
<path d="M409.5,169.2H539" stroke="#cfcfcf" stroke-width="0.5"/>
<path d="M410,161.5H538.5" stroke="#f06a6a" stroke-width="1.05" stroke-dasharray="1.5,1.5"/>
<path d="M410,177H538.5" stroke="#f06a6a" stroke-width="1.05" stroke-dasharray="1.5,1.5"/>
<path d="M409.5,170.4 L410.1,170 L410.8,169.6 L411.4,169.2 L412.1,168.8 L412.7,168.4 L413.4,168.1 L414,167.7 L414.7,167.4 L415.3,167.1 L416,166.8 L416.6,166.4 L417.3,166.1 L417.9,165.8 L418.6,165.5 L419.2,165.3 L419.9,165.2 L420.5,165.1 L421.2,165.3 L421.8,165.5 L422.4,165.8 L423.1,166.1 L423.7,166.4 L424.4,166.8 L425,167.4 L425.7,167.9 L426.3,168.5 L427,169 L427.6,169.4 L428.3,169.7 L428.9,169.7 L429.6,169.7 L430.2,169.7 L430.9,169.6 L431.5,169.6 L432.2,169.5 L432.8,169.4 L433.5,169.4 L434.1,169.3 L434.8,169.3 L435.4,169.2 L436,169.2 L436.7,169.2 L437.3,169.2 L438,169.2 L438.6,169.1 L439.3,169.1 L439.9,169.1 L440.6,169.1 L441.2,169.1 L441.9,169.1 L442.5,169.1 L443.2,169 L443.8,169 L444.5,169 L445.1,169 L445.8,169 L446.4,169 L447.1,169 L447.7,169 L448.4,169 L449,169 L449.6,169 L450.3,169 L450.9,169 L451.6,169 L452.2,169 L452.9,169.1 L453.5,169.1 L454.2,169.3 L454.8,169.5 L455.5,169.6 L456.1,169.8 L456.8,170 L457.4,170.2 L458.1,170.3 L458.7,170.4 L459.4,170.4 L460,170.4 L460.7,170.4 L461.3,170.4 L461.9,170.4 L462.6,170.4 L463.2,170.4 L463.9,170.4 L464.5,170.4 L465.2,170.4 L465.8,170.4 L466.5,170.4 L467.1,170.4 L467.8,170.4 L468.4,170.4 L469.1,170.4 L469.7,170.4 L470.4,170.4 L471,170.4 L471.7,170.3 L472.3,170.3 L473,170.2 L473.6,170.1 L474.2,170 L474.9,169.9 L475.5,169.8 L476.2,169.7 L476.8,169.6 L477.5,169.5 L478.1,169.4 L478.8,169.4 L479.4,169.3 L480.1,169.3 L480.7,169.3 L481.4,169.3 L482,169.3 L482.7,169.3 L483.3,169.4 L484,169.5 L484.6,169.6 L485.3,169.7 L485.9,169.8 L486.6,170 L487.2,170.1 L487.8,170.2 L488.5,170.3 L489.1,170.4 L489.8,170.5 L490.4,170.6 L491.1,170.7 L491.7,170.8 L492.4,170.9 L493,171 L493.7,171 L494.3,171.1 L495,171.2 L495.6,171.2 L496.3,171.3 L496.9,171.3 L497.6,171.3 L498.2,171.3 L498.9,171.3 L499.5,171.2 L500.1,171.2 L500.8,171.1 L501.4,171.1 L502.1,171 L502.7,170.9 L503.4,170.8 L504,170.7 L504.7,170.7 L505.3,170.6 L506,170.5 L506.6,170.4 L507.3,170.4 L507.9,170.3 L508.6,170.3 L509.2,170.2 L509.9,170.2 L510.5,170.2 L511.2,170.2 L511.8,170.2 L512.5,170.2 L513.1,170.2 L513.7,170.2 L514.4,170.3 L515,170.3 L515.7,170.3 L516.3,170.4 L517,170.5 L517.6,170.5 L518.3,170.6 L518.9,170.8 L519.6,171.3 L520.2,171.8 L520.9,172.1 L521.5,172.1 L522.2,171.4 L522.8,170.3 L523.5,169.1 L524.1,168.3 L524.8,167.5 L525.4,166.7 L526,166 L526.7,165.5 L527.3,165.4 L528,165.4 L528.6,165.4 L529.3,165.4 L529.9,165.4 L530.6,165.4 L531.2,165.4 L531.9,165.4 L532.5,165.4 L533.2,165.4 L533.8,165.4 L534.5,165.5 L535.1,165.5 L535.8,165.6 L536.4,165.7 L537.1,165.9 L537.7,166 L538.4,166.1 L539,166.3" fill="none" stroke="#3c3c3c" stroke-width="0.6"/>
<rect x="409.5" y="146.4" width="129.5" height="45.7" fill="none" stroke="#8a8a8a" stroke-width="0.9"/>
<path d="M409.5,192.1v1.2 M422.4,192.1v0.8 M435.4,192.1v1.2 M448.4,192.1v0.8 M461.3,192.1v1.2 M474.2,192.1v0.8 M487.2,192.1v1.2 M500.1,192.1v0.8 M513.1,192.1v1.2 M526,192.1v0.8 M539,192.1v1.2 M409.5,192.1h-1.2 M409.5,186.4h-0.8 M409.5,180.7h-1.2 M409.5,175h-0.8 M409.5,169.2h-1.2 M409.5,163.5h-0.8 M409.5,157.8h-1.2 M409.5,152.1h-0.8 M409.5,146.4h-1.2" stroke="#8a8a8a" stroke-width="0.5" fill="none"/>
<text x="409.5" y="198.3" class="s" text-anchor="middle" font-family="'Liberation Serif','Times New Roman',serif" font-weight="bold" font-size="3.2">0</text>
<text x="435.4" y="198.3" class="s" text-anchor="middle" font-family="'Liberation Serif','Times New Roman',serif" font-weight="bold" font-size="3.2">20</text>
<text x="461.3" y="198.3" class="s" text-anchor="middle" font-family="'Liberation Serif','Times New Roman',serif" font-weight="bold" font-size="3.2">40</text>
<text x="487.2" y="198.3" class="s" text-anchor="middle" font-family="'Liberation Serif','Times New Roman',serif" font-weight="bold" font-size="3.2">60</text>
<text x="513.1" y="198.3" class="s" text-anchor="middle" font-family="'Liberation Serif','Times New Roman',serif" font-weight="bold" font-size="3.2">80</text>
<text x="539" y="198.3" class="s" text-anchor="middle" font-family="'Liberation Serif','Times New Roman',serif" font-weight="bold" font-size="3.2">100</text>
<text x="406.5" y="147.5" class="s" text-anchor="end" font-family="'Liberation Serif','Times New Roman',serif" font-weight="bold" font-size="3.2">10</text>
<text x="406.5" y="158.9" class="s" text-anchor="end" font-family="'Liberation Serif','Times New Roman',serif" font-weight="bold" font-size="3.2">5</text>
<text x="406.5" y="170.3" class="s" text-anchor="end" font-family="'Liberation Serif','Times New Roman',serif" font-weight="bold" font-size="3.2">0</text>
<text x="406.5" y="181.8" class="s" text-anchor="end" font-family="'Liberation Serif','Times New Roman',serif" font-weight="bold" font-size="3.2">- 5</text>
<text x="406.5" y="193.2" class="s" text-anchor="end" font-family="'Liberation Serif','Times New Roman',serif" font-weight="bold" font-size="3.2">- 10</text>
<text x="474.2" y="201.8" class="s" text-anchor="middle" font-family="'Liberation Serif','Times New Roman',serif" font-weight="bold" font-size="3.6">Stance phase (%)</text>
<text transform="translate(399.9,170.2) rotate(-90)" class="s" text-anchor="middle" font-family="'Liberation Serif','Times New Roman',serif" font-weight="bold" font-size="3.9">SPM{t}</text>
<text x="535.5" y="153.1" class="s" text-anchor="end" font-family="'Liberation Serif','Times New Roman',serif" font-weight="bold" font-size="3.8">α=0.05,  t<tspan dy="-1.2" font-size="2.4">*</tspan><tspan dy="1.2">=3.381</tspan></text>
<path d="M29.2,377.2H158.7" stroke="#cfcfcf" stroke-width="0.5"/>
<path d="M29.7,369.3H158.2" stroke="#f06a6a" stroke-width="1.05" stroke-dasharray="1.5,1.5"/>
<path d="M29.7,385.2H158.2" stroke="#f06a6a" stroke-width="1.05" stroke-dasharray="1.5,1.5"/>
<path d="M29.2,374.3 L29.8,375.1 L30.5,375.9 L31.1,376.5 L31.8,377.1 L32.4,377.7 L33.1,378.3 L33.7,378.9 L34.4,379.4 L35,379.7 L35.7,379.7 L36.3,379.7 L37,379.7 L37.6,379.7 L38.3,379.7 L38.9,379.7 L39.6,379.7 L40.2,379.7 L40.9,379.7 L41.5,379.7 L42.1,379.7 L42.8,379.8 L43.4,380 L44.1,380.3 L44.7,380.7 L45.4,381.1 L46,381.6 L46.7,382.2 L47.3,383 L48,383.9 L48.6,384.6 L49.3,384.9 L49.9,384.9 L50.6,384.9 L51.2,384.8 L51.9,384.8 L52.5,384.7 L53.2,384.7 L53.8,384.7 L54.5,384.6 L55.1,384.6 L55.7,384.6 L56.4,384.5 L57,384.5 L57.7,384.4 L58.3,384.4 L59,384.3 L59.6,384.2 L60.3,383.8 L60.9,383.3 L61.6,382.8 L62.2,382.2 L62.9,381.7 L63.5,381.5 L64.2,381.2 L64.8,381 L65.5,380.8 L66.1,380.7 L66.8,380.5 L67.4,380.4 L68,380.3 L68.7,380.1 L69.3,380 L70,379.9 L70.6,379.8 L71.3,379.7 L71.9,379.6 L72.6,379.5 L73.2,379.4 L73.9,379.3 L74.5,379.3 L75.2,379.3 L75.8,379.3 L76.5,379.4 L77.1,379.6 L77.8,379.8 L78.4,379.9 L79.1,380.1 L79.7,380.2 L80.4,380.2 L81,380.2 L81.6,380.2 L82.3,380.2 L82.9,380.2 L83.6,380.2 L84.2,380.2 L84.9,380.2 L85.5,380.2 L86.2,380.2 L86.8,380.2 L87.5,380.2 L88.1,380.2 L88.8,380.2 L89.4,380.3 L90.1,380.5 L90.7,380.7 L91.4,380.9 L92,381.1 L92.7,381.2 L93.3,381.3 L94,381.3 L94.6,381.3 L95.2,381.3 L95.9,381.3 L96.5,381.1 L97.2,380.8 L97.8,380.4 L98.5,380 L99.1,379.5 L99.8,379.2 L100.4,378.9 L101.1,378.8 L101.7,378.8 L102.4,378.7 L103,378.7 L103.7,378.7 L104.3,378.6 L105,378.6 L105.6,378.6 L106.3,378.6 L106.9,378.7 L107.5,378.8 L108.2,379.1 L108.8,379.5 L109.5,379.9 L110.1,380.3 L110.8,380.6 L111.4,380.9 L112.1,381.1 L112.7,381.1 L113.4,381 L114,380.8 L114.7,380.5 L115.3,380.2 L116,379.8 L116.6,379.5 L117.3,379.3 L117.9,379.1 L118.6,378.9 L119.2,378.6 L119.9,378.4 L120.5,378.2 L121.1,378 L121.8,377.8 L122.4,377.7 L123.1,377.5 L123.7,377.3 L124.4,377.2 L125,377 L125.7,376.9 L126.3,376.8 L127,376.6 L127.6,376.5 L128.3,376.4 L128.9,376.3 L129.6,376.2 L130.2,376.1 L130.9,376.1 L131.5,376.2 L132.2,376.3 L132.8,376.4 L133.4,376.6 L134.1,376.8 L134.7,377.1 L135.4,377.3 L136,377.5 L136.7,377.7 L137.3,377.9 L138,378 L138.6,378.1 L139.3,378.2 L139.9,378.2 L140.6,378.3 L141.2,378.4 L141.9,378.5 L142.5,378.5 L143.2,378.6 L143.8,378.6 L144.5,378.6 L145.1,378.6 L145.8,378.6 L146.4,378.6 L147,378.5 L147.7,378.5 L148.3,378.4 L149,378.4 L149.6,378.4 L150.3,378.4 L150.9,378.4 L151.6,378.5 L152.2,378.5 L152.9,378.6 L153.5,378.6 L154.2,378.6 L154.8,378.5 L155.5,378.4 L156.1,378.2 L156.8,378 L157.4,377.8 L158.1,377.5 L158.7,377.2" fill="none" stroke="#3c3c3c" stroke-width="0.6"/>
<rect x="29.2" y="354.6" width="129.5" height="45.3" fill="none" stroke="#8a8a8a" stroke-width="0.9"/>
<path d="M29.2,399.9v1.2 M42.1,399.9v0.8 M55.1,399.9v1.2 M68,399.9v0.8 M81,399.9v1.2 M94,399.9v0.8 M106.9,399.9v1.2 M119.9,399.9v0.8 M132.8,399.9v1.2 M145.8,399.9v0.8 M158.7,399.9v1.2 M29.2,399.9h-1.2 M29.2,394.2h-0.8 M29.2,388.6h-1.2 M29.2,382.9h-0.8 M29.2,377.2h-1.2 M29.2,371.6h-0.8 M29.2,365.9h-1.2 M29.2,360.3h-0.8 M29.2,354.6h-1.2" stroke="#8a8a8a" stroke-width="0.5" fill="none"/>
<text x="29.2" y="406.1" class="s" text-anchor="middle" font-family="'Liberation Serif','Times New Roman',serif" font-weight="bold" font-size="3.2">0</text>
<text x="55.1" y="406.1" class="s" text-anchor="middle" font-family="'Liberation Serif','Times New Roman',serif" font-weight="bold" font-size="3.2">20</text>
<text x="81" y="406.1" class="s" text-anchor="middle" font-family="'Liberation Serif','Times New Roman',serif" font-weight="bold" font-size="3.2">40</text>
<text x="106.9" y="406.1" class="s" text-anchor="middle" font-family="'Liberation Serif','Times New Roman',serif" font-weight="bold" font-size="3.2">60</text>
<text x="132.8" y="406.1" class="s" text-anchor="middle" font-family="'Liberation Serif','Times New Roman',serif" font-weight="bold" font-size="3.2">80</text>
<text x="158.7" y="406.1" class="s" text-anchor="middle" font-family="'Liberation Serif','Times New Roman',serif" font-weight="bold" font-size="3.2">100</text>
<text x="26.2" y="355.7" class="s" text-anchor="end" font-family="'Liberation Serif','Times New Roman',serif" font-weight="bold" font-size="3.2">10</text>
<text x="26.2" y="367" class="s" text-anchor="end" font-family="'Liberation Serif','Times New Roman',serif" font-weight="bold" font-size="3.2">5</text>
<text x="26.2" y="378.4" class="s" text-anchor="end" font-family="'Liberation Serif','Times New Roman',serif" font-weight="bold" font-size="3.2">0</text>
<text x="26.2" y="389.7" class="s" text-anchor="end" font-family="'Liberation Serif','Times New Roman',serif" font-weight="bold" font-size="3.2">- 5</text>
<text x="26.2" y="401" class="s" text-anchor="end" font-family="'Liberation Serif','Times New Roman',serif" font-weight="bold" font-size="3.2">- 10</text>
<text x="93.9" y="409.6" class="s" text-anchor="middle" font-family="'Liberation Serif','Times New Roman',serif" font-weight="bold" font-size="3.6">Stance phase (%)</text>
<text transform="translate(19.6,378.2) rotate(-90)" class="s" text-anchor="middle" font-family="'Liberation Serif','Times New Roman',serif" font-weight="bold" font-size="3.9">SPM{t}</text>
<text x="155.2" y="361.3" class="s" text-anchor="end" font-family="'Liberation Serif','Times New Roman',serif" font-weight="bold" font-size="3.8">α=0.05,  t<tspan dy="-1.2" font-size="2.4">*</tspan><tspan dy="1.2">=3.677</tspan></text>
<path d="M219.1,377.2H349.1" stroke="#cfcfcf" stroke-width="0.5"/>
<path d="M219.6,369.5H348.6" stroke="#f06a6a" stroke-width="1.05" stroke-dasharray="1.5,1.5"/>
<path d="M219.6,385H348.6" stroke="#f06a6a" stroke-width="1.05" stroke-dasharray="1.5,1.5"/>
<path d="M219.1,380.9 L219.8,380.1 L220.4,379.4 L221,378.8 L221.7,378.2 L222.3,377.8 L223,377.5 L223.7,377.4 L224.3,377.3 L224.9,377.3 L225.6,377.5 L226.2,377.8 L226.9,378.2 L227.6,378.6 L228.2,378.9 L228.8,379.3 L229.5,379.6 L230.2,379.9 L230.8,380.3 L231.4,380.6 L232.1,381 L232.8,381.3 L233.4,381.6 L234.1,381.9 L234.7,382.2 L235.3,382.5 L236,382.8 L236.7,383.1 L237.3,383.4 L237.9,383.6 L238.6,383.9 L239.2,384.1 L239.9,384.3 L240.6,384.4 L241.2,384.5 L241.8,384.5 L242.5,384.4 L243.2,384.1 L243.8,383.7 L244.4,383.3 L245.1,382.8 L245.8,382.4 L246.4,382.1 L247.1,381.8 L247.7,381.8 L248.3,381.9 L249,382.2 L249.7,382.7 L250.3,383.2 L250.9,383.7 L251.6,384.1 L252.2,384.5 L252.9,384.8 L253.6,385 L254.2,385.3 L254.8,385.5 L255.5,385.7 L256.1,386 L256.8,386.2 L257.4,386.4 L258.1,386.7 L258.8,386.9 L259.4,387.2 L260.1,387.6 L260.7,388.1 L261.4,388.5 L262,389 L262.6,389.4 L263.3,389.8 L263.9,390 L264.6,390.1 L265.2,390.1 L265.9,389.9 L266.6,389.6 L267.2,389.2 L267.9,388.8 L268.5,388.3 L269.1,387.8 L269.8,387.4 L270.4,386.8 L271.1,386.1 L271.8,385.5 L272.4,385.2 L273.1,385.2 L273.7,385.2 L274.4,385.3 L275,385.3 L275.6,385.4 L276.3,385.5 L276.9,385.5 L277.6,385.6 L278.2,385.6 L278.9,385.6 L279.6,385.6 L280.2,385.5 L280.9,385.5 L281.5,385.3 L282.2,385.2 L282.8,385.1 L283.5,384.9 L284.1,384.8 L284.8,384.6 L285.4,384.4 L286.1,384.3 L286.7,384.1 L287.4,383.9 L288,383.7 L288.6,383.5 L289.3,383.4 L290,383.3 L290.6,383.2 L291.2,383 L291.9,382.9 L292.6,382.9 L293.2,382.8 L293.9,382.7 L294.5,382.6 L295.1,382.6 L295.8,382.5 L296.5,382.5 L297.1,382.4 L297.8,382.4 L298.4,382.3 L299.1,382.3 L299.7,382.3 L300.4,382.2 L301,382.2 L301.6,382.2 L302.3,382.1 L303,382.1 L303.6,382.1 L304.2,382.1 L304.9,382 L305.6,382 L306.2,382 L306.9,382 L307.5,382 L308.1,382 L308.8,382 L309.5,382 L310.1,382 L310.8,382 L311.4,382 L312.1,382 L312.7,382 L313.4,382 L314,382 L314.6,382 L315.3,382 L316,382 L316.6,382 L317.2,382 L317.9,381.9 L318.6,381.7 L319.2,381.4 L319.9,381.1 L320.5,380.8 L321.1,380.5 L321.8,380.2 L322.5,379.8 L323.1,379.3 L323.8,378.8 L324.4,378.4 L325.1,378 L325.7,377.6 L326.4,377.2 L327,377 L327.6,376.8 L328.3,376.6 L329,376.5 L329.6,376.3 L330.2,376 L330.9,375.6 L331.6,375 L332.2,374.2 L332.9,373.5 L333.5,373 L334.1,372.9 L334.8,373 L335.5,373 L336.1,373.1 L336.8,373.1 L337.4,373.2 L338.1,373.3 L338.7,373.4 L339.4,373.6 L340,373.7 L340.6,373.8 L341.3,373.9 L342,373.8 L342.6,373.6 L343.2,373.2 L343.9,372.8 L344.6,372.4 L345.2,372 L345.9,371.6 L346.5,371.1 L347.2,370.5 L347.8,369.9 L348.5,369.3 L349.1,368.6" fill="none" stroke="#3c3c3c" stroke-width="0.6"/>
<rect x="219.1" y="354.6" width="130" height="45.3" fill="none" stroke="#8a8a8a" stroke-width="0.9"/>
<path d="M219.1,399.9v1.2 M232.1,399.9v0.8 M245.1,399.9v1.2 M258.1,399.9v0.8 M271.1,399.9v1.2 M284.1,399.9v0.8 M297.1,399.9v1.2 M310.1,399.9v0.8 M323.1,399.9v1.2 M336.1,399.9v0.8 M349.1,399.9v1.2 M219.1,399.9h-1.2 M219.1,394.2h-0.8 M219.1,388.6h-1.2 M219.1,382.9h-0.8 M219.1,377.2h-1.2 M219.1,371.6h-0.8 M219.1,365.9h-1.2 M219.1,360.3h-0.8 M219.1,354.6h-1.2" stroke="#8a8a8a" stroke-width="0.5" fill="none"/>
<text x="219.1" y="406.1" class="s" text-anchor="middle" font-family="'Liberation Serif','Times New Roman',serif" font-weight="bold" font-size="3.2">0</text>
<text x="245.1" y="406.1" class="s" text-anchor="middle" font-family="'Liberation Serif','Times New Roman',serif" font-weight="bold" font-size="3.2">20</text>
<text x="271.1" y="406.1" class="s" text-anchor="middle" font-family="'Liberation Serif','Times New Roman',serif" font-weight="bold" font-size="3.2">40</text>
<text x="297.1" y="406.1" class="s" text-anchor="middle" font-family="'Liberation Serif','Times New Roman',serif" font-weight="bold" font-size="3.2">60</text>
<text x="323.1" y="406.1" class="s" text-anchor="middle" font-family="'Liberation Serif','Times New Roman',serif" font-weight="bold" font-size="3.2">80</text>
<text x="349.1" y="406.1" class="s" text-anchor="middle" font-family="'Liberation Serif','Times New Roman',serif" font-weight="bold" font-size="3.2">100</text>
<text x="216.1" y="355.7" class="s" text-anchor="end" font-family="'Liberation Serif','Times New Roman',serif" font-weight="bold" font-size="3.2">10</text>
<text x="216.1" y="367" class="s" text-anchor="end" font-family="'Liberation Serif','Times New Roman',serif" font-weight="bold" font-size="3.2">5</text>
<text x="216.1" y="378.4" class="s" text-anchor="end" font-family="'Liberation Serif','Times New Roman',serif" font-weight="bold" font-size="3.2">0</text>
<text x="216.1" y="389.7" class="s" text-anchor="end" font-family="'Liberation Serif','Times New Roman',serif" font-weight="bold" font-size="3.2">- 5</text>
<text x="216.1" y="401" class="s" text-anchor="end" font-family="'Liberation Serif','Times New Roman',serif" font-weight="bold" font-size="3.2">- 10</text>
<text x="284.1" y="409.6" class="s" text-anchor="middle" font-family="'Liberation Serif','Times New Roman',serif" font-weight="bold" font-size="3.6">Stance phase (%)</text>
<text transform="translate(209.5,378.2) rotate(-90)" class="s" text-anchor="middle" font-family="'Liberation Serif','Times New Roman',serif" font-weight="bold" font-size="3.9">SPM{t}</text>
<text x="345.6" y="361.3" class="s" text-anchor="end" font-family="'Liberation Serif','Times New Roman',serif" font-weight="bold" font-size="3.8">α=0.05,  t<tspan dy="-1.2" font-size="2.4">*</tspan><tspan dy="1.2">=3.427</tspan></text>
<path d="M410.4,377.2H539.9" stroke="#cfcfcf" stroke-width="0.5"/>
<path d="M410.9,369.3H539.4" stroke="#f06a6a" stroke-width="1.05" stroke-dasharray="1.5,1.5"/>
<path d="M410.9,385.2H539.4" stroke="#f06a6a" stroke-width="1.05" stroke-dasharray="1.5,1.5"/>
<path d="M410.4,377 L411,376.5 L411.7,376 L412.3,375.4 L413,374.9 L413.6,374.2 L414.3,373.4 L414.9,372.8 L415.6,372.2 L416.2,372 L416.9,372.1 L417.5,372.4 L418.2,372.7 L418.8,373.2 L419.5,373.6 L420.1,374.3 L420.8,375.2 L421.4,376.3 L422.1,377.5 L422.7,378.5 L423.3,379.4 L424,380 L424.6,380.7 L425.3,381.3 L425.9,381.9 L426.6,382.4 L427.2,382.7 L427.9,382.9 L428.5,382.9 L429.2,382.9 L429.8,382.9 L430.5,382.9 L431.1,382.9 L431.8,382.9 L432.4,382.9 L433.1,382.9 L433.7,383.1 L434.4,383.4 L435,383.7 L435.7,384.1 L436.3,384.5 L436.9,384.7 L437.6,384.9 L438.2,384.9 L438.9,384.6 L439.5,384.1 L440.2,383.4 L440.8,382.7 L441.5,382 L442.1,381.3 L442.8,380.5 L443.4,379.6 L444.1,378.7 L444.7,377.9 L445.4,377.4 L446,377.3 L446.7,377.3 L447.3,377.5 L448,377.6 L448.6,377.8 L449.2,378 L449.9,378.2 L450.5,378.3 L451.2,378.4 L451.8,378.3 L452.5,378.1 L453.1,377.8 L453.8,377.5 L454.4,377.1 L455.1,376.8 L455.7,376.5 L456.4,376.4 L457,376.3 L457.7,376.3 L458.3,376.3 L459,376.2 L459.6,376.2 L460.3,376.2 L460.9,376.2 L461.6,376.1 L462.2,376 L462.8,375.7 L463.5,375.3 L464.1,374.9 L464.8,374.5 L465.4,374.3 L466.1,374.4 L466.7,374.6 L467.4,375 L468,375.5 L468.7,376 L469.3,376.5 L470,376.8 L470.6,377 L471.3,377.3 L471.9,377.5 L472.6,377.7 L473.2,377.8 L473.9,377.9 L474.5,377.9 L475.1,377.7 L475.8,377.3 L476.4,376.9 L477.1,376.5 L477.7,376.2 L478.4,376.1 L479,376 L479.7,375.9 L480.3,375.8 L481,375.8 L481.6,375.7 L482.3,375.7 L482.9,375.7 L483.6,375.7 L484.2,375.7 L484.9,375.9 L485.5,376.1 L486.2,376.3 L486.8,376.5 L487.5,376.6 L488.1,376.6 L488.7,376.5 L489.4,376.4 L490,376.3 L490.7,376.2 L491.3,376.1 L492,376.1 L492.6,376.2 L493.3,376.3 L493.9,376.5 L494.6,376.7 L495.2,376.9 L495.9,377.1 L496.5,377.2 L497.2,377.2 L497.8,377.2 L498.5,377.2 L499.1,377.2 L499.8,377.2 L500.4,377.2 L501,377.2 L501.7,377.2 L502.3,377.2 L503,377.2 L503.6,377.2 L504.3,377.2 L504.9,377.2 L505.6,377.2 L506.2,377.2 L506.9,377.2 L507.5,377.2 L508.2,377 L508.8,376.8 L509.5,376.5 L510.1,376.2 L510.8,375.9 L511.4,375.6 L512.1,375.3 L512.7,375 L513.4,374.8 L514,374.7 L514.6,374.6 L515.3,374.5 L515.9,374.4 L516.6,374.4 L517.2,374.3 L517.9,374.3 L518.5,374.4 L519.2,374.7 L519.8,374.9 L520.5,375.1 L521.1,375.2 L521.8,375.1 L522.4,374.7 L523.1,374.2 L523.7,373.7 L524.4,373.2 L525,373 L525.7,373 L526.3,373.2 L526.9,373.6 L527.6,374 L528.2,374.6 L528.9,375.1 L529.5,375.6 L530.2,376 L530.8,376.3 L531.5,376.8 L532.1,377.2 L532.8,377.6 L533.4,378 L534.1,378.3 L534.7,378.6 L535.4,378.8 L536,378.8 L536.7,378.8 L537.3,378.6 L538,378.2 L538.6,377.8 L539.3,377.2 L539.9,376.6" fill="none" stroke="#3c3c3c" stroke-width="0.6"/>
<rect x="410.4" y="354.6" width="129.5" height="45.3" fill="none" stroke="#8a8a8a" stroke-width="0.9"/>
<path d="M410.4,399.9v1.2 M423.3,399.9v0.8 M436.3,399.9v1.2 M449.2,399.9v0.8 M462.2,399.9v1.2 M475.1,399.9v0.8 M488.1,399.9v1.2 M501,399.9v0.8 M514,399.9v1.2 M526.9,399.9v0.8 M539.9,399.9v1.2 M410.4,399.9h-1.2 M410.4,394.2h-0.8 M410.4,388.6h-1.2 M410.4,382.9h-0.8 M410.4,377.2h-1.2 M410.4,371.6h-0.8 M410.4,365.9h-1.2 M410.4,360.3h-0.8 M410.4,354.6h-1.2" stroke="#8a8a8a" stroke-width="0.5" fill="none"/>
<text x="410.4" y="406.1" class="s" text-anchor="middle" font-family="'Liberation Serif','Times New Roman',serif" font-weight="bold" font-size="3.2">0</text>
<text x="436.3" y="406.1" class="s" text-anchor="middle" font-family="'Liberation Serif','Times New Roman',serif" font-weight="bold" font-size="3.2">20</text>
<text x="462.2" y="406.1" class="s" text-anchor="middle" font-family="'Liberation Serif','Times New Roman',serif" font-weight="bold" font-size="3.2">40</text>
<text x="488.1" y="406.1" class="s" text-anchor="middle" font-family="'Liberation Serif','Times New Roman',serif" font-weight="bold" font-size="3.2">60</text>
<text x="514" y="406.1" class="s" text-anchor="middle" font-family="'Liberation Serif','Times New Roman',serif" font-weight="bold" font-size="3.2">80</text>
<text x="539.9" y="406.1" class="s" text-anchor="middle" font-family="'Liberation Serif','Times New Roman',serif" font-weight="bold" font-size="3.2">100</text>
<text x="407.4" y="355.7" class="s" text-anchor="end" font-family="'Liberation Serif','Times New Roman',serif" font-weight="bold" font-size="3.2">10</text>
<text x="407.4" y="367" class="s" text-anchor="end" font-family="'Liberation Serif','Times New Roman',serif" font-weight="bold" font-size="3.2">5</text>
<text x="407.4" y="378.4" class="s" text-anchor="end" font-family="'Liberation Serif','Times New Roman',serif" font-weight="bold" font-size="3.2">0</text>
<text x="407.4" y="389.7" class="s" text-anchor="end" font-family="'Liberation Serif','Times New Roman',serif" font-weight="bold" font-size="3.2">- 5</text>
<text x="407.4" y="401" class="s" text-anchor="end" font-family="'Liberation Serif','Times New Roman',serif" font-weight="bold" font-size="3.2">- 10</text>
<text x="475.1" y="409.6" class="s" text-anchor="middle" font-family="'Liberation Serif','Times New Roman',serif" font-weight="bold" font-size="3.6">Stance phase (%)</text>
<text transform="translate(400.8,378.2) rotate(-90)" class="s" text-anchor="middle" font-family="'Liberation Serif','Times New Roman',serif" font-weight="bold" font-size="3.9">SPM{t}</text>
<text x="536.4" y="361.3" class="s" text-anchor="end" font-family="'Liberation Serif','Times New Roman',serif" font-weight="bold" font-size="3.8">α=0.05,  t<tspan dy="-1.2" font-size="2.4">*</tspan><tspan dy="1.2">=3.524</tspan></text>
<path d="M229.1,146.4V192.1" stroke="#8a8a8a" stroke-width="0.6" stroke-dasharray="0.7,0.7"/>
<text x="230.6" y="158.3" class="s" font-family="'Liberation Serif','Times New Roman',serif" font-weight="bold" font-size="3.5">P=0.047</text>
<rect x="48.1" y="354.6" width="2.6" height="45.3" fill="#e6e6e6" fill-opacity="0.6"/>
<path d="M48.1,354.6V399.9M50.7,354.6V399.9" stroke="#a8a8a8" stroke-width="0.5" stroke-dasharray="0.6,0.6"/>
<text x="52.7" y="390.4" class="s" font-family="'Liberation Serif','Times New Roman',serif" font-weight="bold" font-size="3.5">P=0.038</text>
<text x="261.5" y="367.0" class="s" font-family="'Liberation Serif','Times New Roman',serif" font-weight="bold" font-size="3.5">P=0.001</text>
</svg></body></html>
